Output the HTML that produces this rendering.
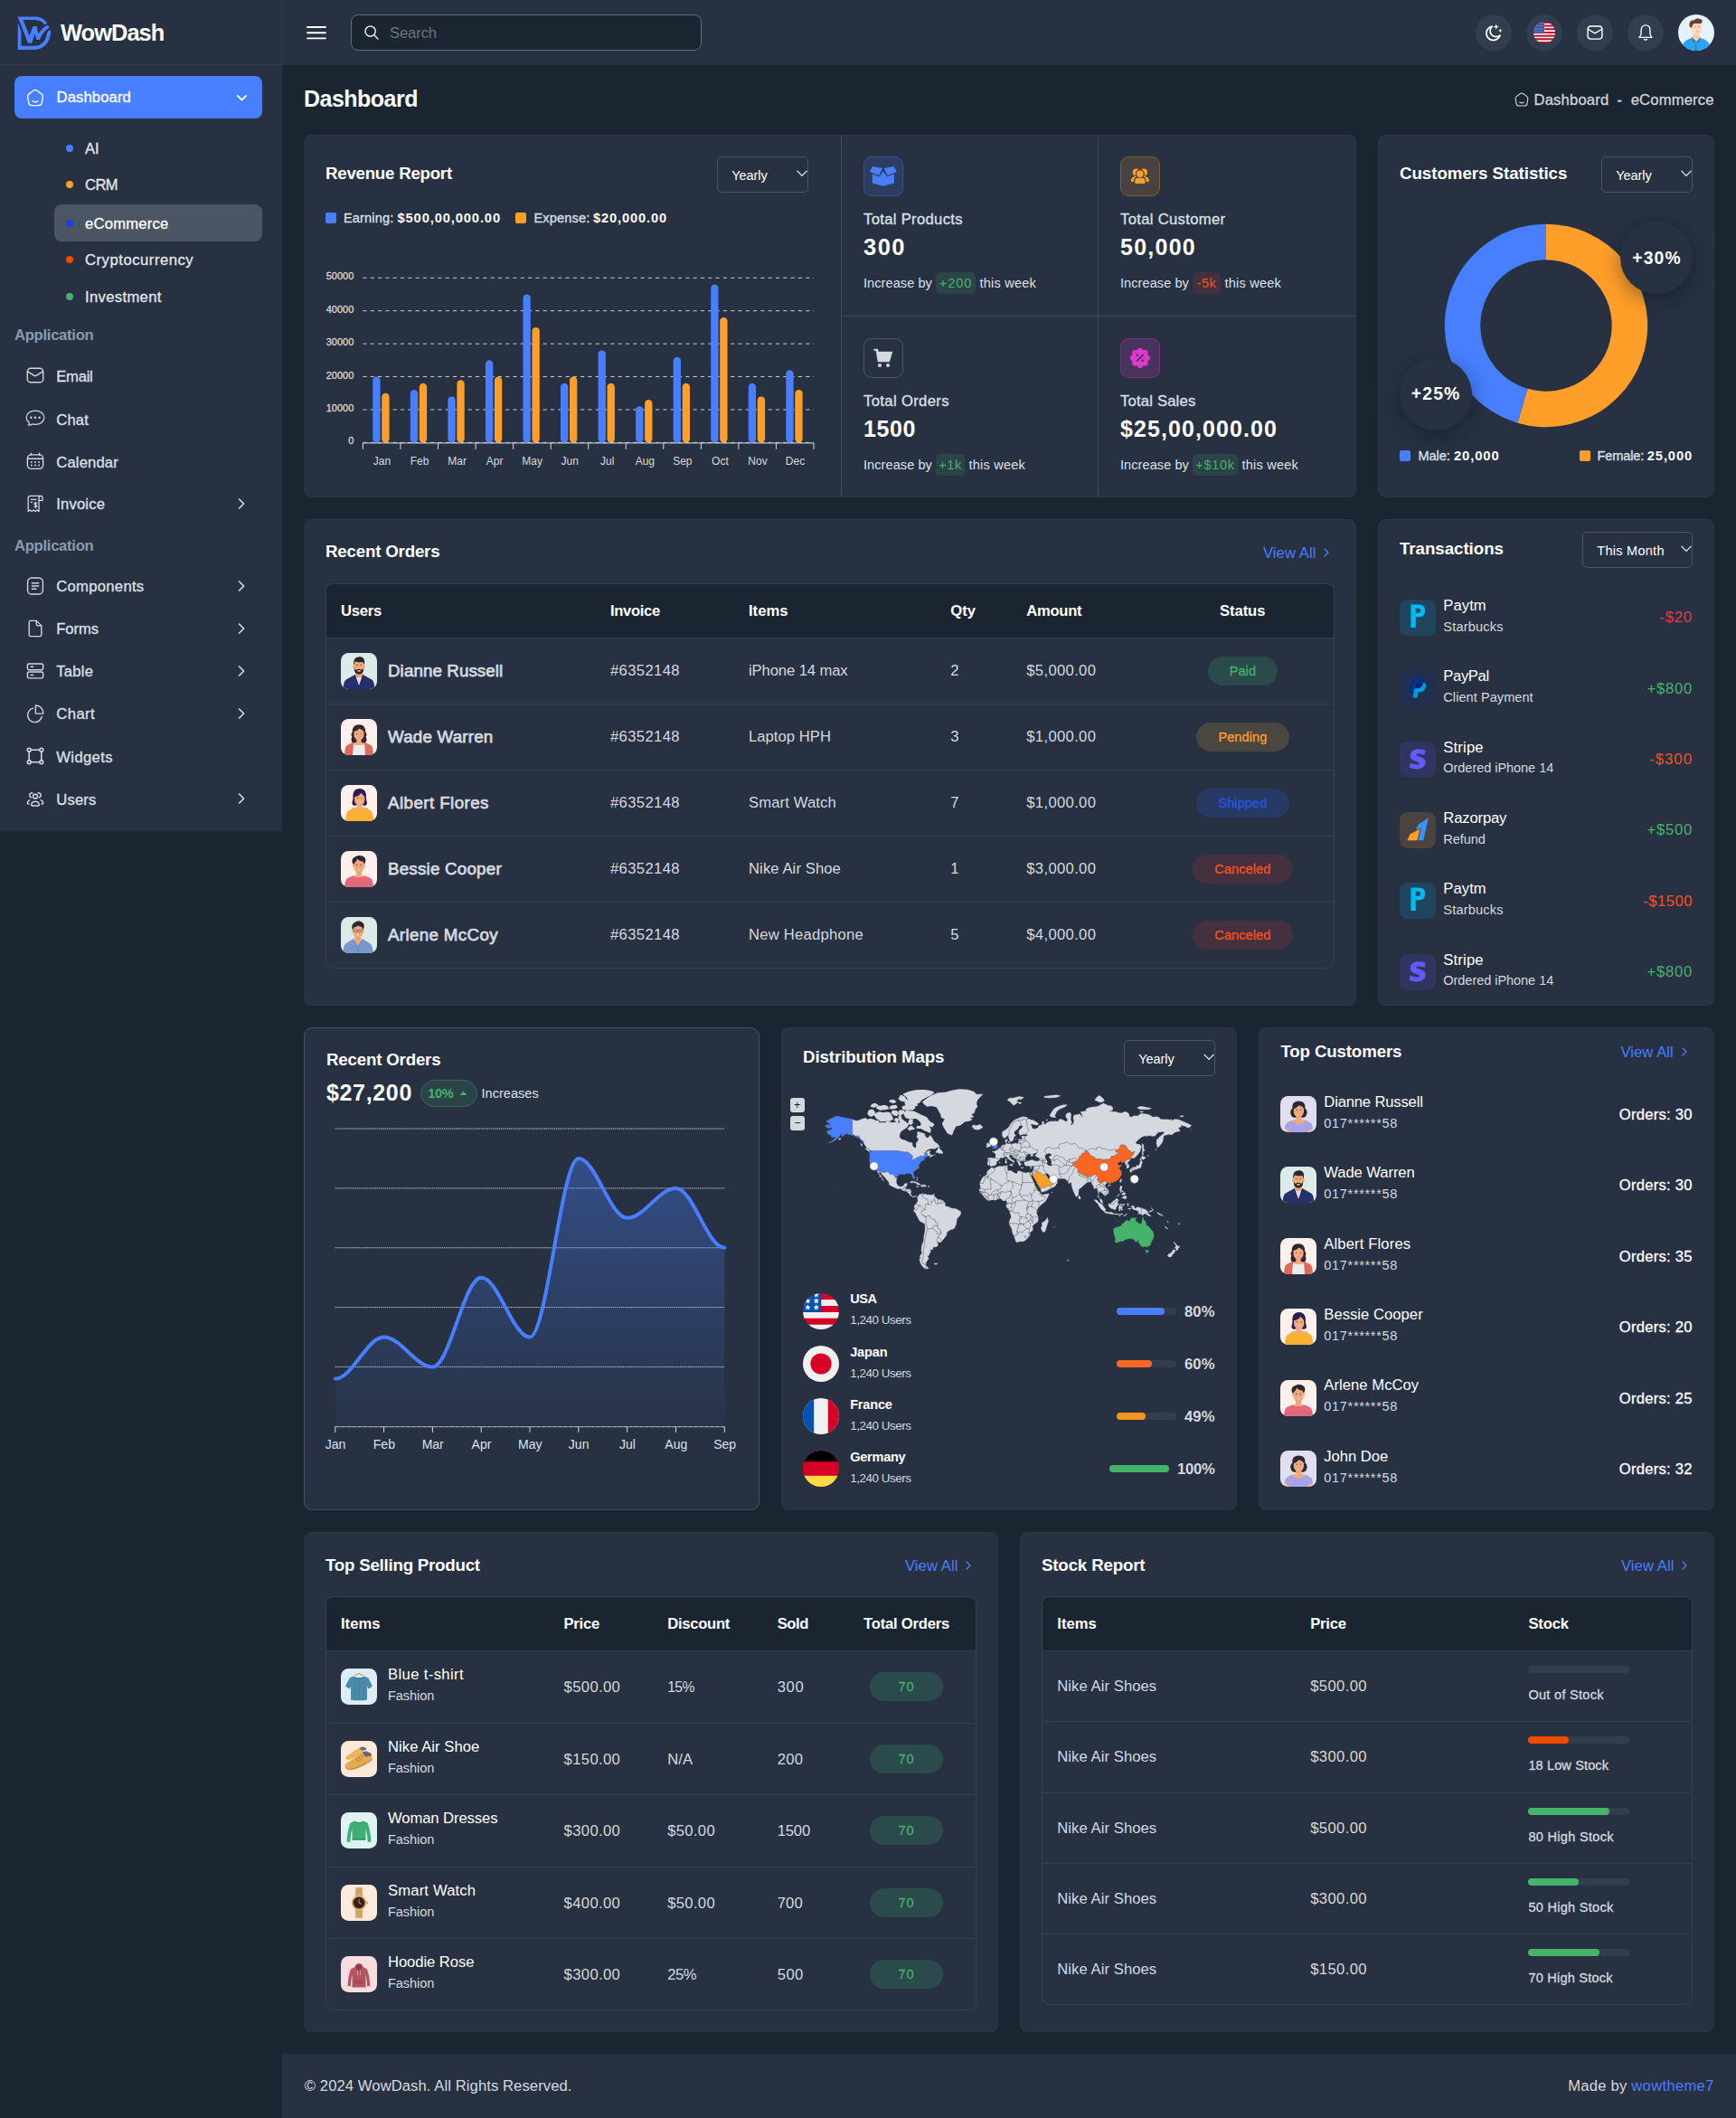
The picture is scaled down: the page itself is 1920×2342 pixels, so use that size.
<!DOCTYPE html>
<html lang="en"><head><meta charset="utf-8"><title>WowDash - eCommerce Dashboard</title>
<style>
*{box-sizing:border-box;margin:0;padding:0}
html,body{width:1920px;height:2342px;overflow:hidden;background:#1B2431;}
body{font-family:"Liberation Sans",sans-serif;color:#FFFFFF;position:relative;-webkit-font-smoothing:antialiased}
.t{position:absolute;white-space:pre;line-height:1;}
.m{-webkit-text-stroke:.3px currentColor}
.sb{-webkit-text-stroke:.75px currentColor}
.card{position:absolute;background:#273142;border-radius:8px;border:1px solid #2B3546}
svg{position:absolute;overflow:visible}
</style></head>
<body>
<!-- sidebar -->
<div style="position:absolute;left:0px;top:0px;width:312px;height:919px;background:#273142"></div>
<div style="position:absolute;left:0px;top:71px;width:312px;height:1px;background:#323D4E"></div>
<div style="position:absolute;left:311px;top:0px;width:1px;height:72px;background:#323D4E"></div>
<svg style="left:14px;top:12px" width="50" height="50" viewBox="0 0 50 50" fill="none" ><g fill="#487FFF"><path d="M5.6 6.5 H24.5 C30.4 6.5 35.2 9.2 38.2 13.4 L35.3 15.5 C33 12.2 29.2 10.1 24.5 10.1 H11.5 L18.5 27.6 L22.5 17 H26.7 L28.3 25.4 C30.8 21.4 34.4 17.8 38.7 15.8 L41 18.5 C35.6 21.4 32 26.6 30 32 H26.5 L24.4 25.6 L21.3 35.8 H17 Z"/><path d="M5.7 12.9 L9.5 22.7 V38.7 H24.5 C31.2 38.7 36.4 33.6 37.6 26.4 C37.9 24.9 38.3 23.8 38.7 23 L42 20.7 C42.2 22 42.2 23.4 42 24.8 C41.2 35 34 42.9 24.5 42.9 H5.7 Z"/></g></svg>
<div class="t" style="left:67.00px;top:22px;font-size:25.39px;line-height:28px;letter-spacing:-0.91px;color:#FFFFFF;font-weight:700;">WowDash</div>
<div style="position:absolute;left:16px;top:84px;width:274px;height:47px;background:#487FFF;border-radius:8px"></div>
<svg style="left:28px;top:97.2px" width="22" height="22" viewBox="0 0 24 24" fill="none" ><g stroke="#FFFFFF" stroke-width="1.5" stroke-linecap="round" stroke-linejoin="round"><path d="M12 2.6 Q12.9 2.6 13.9 3.3 L19.3 7.2 Q21.6 8.8 21.1 11.4 L19.9 18.2 Q19.4 21.4 16.2 21.4 H7.8 Q4.6 21.4 4.1 18.2 L2.9 11.4 Q2.4 8.8 4.7 7.2 L10.1 3.3 Q11.1 2.6 12 2.6 Z"/><path d="M9 16 Q12 18.6 15 16"/></g></svg>
<div class="t m" style="left:62.50px;top:98px;font-size:16.64px;line-height:19px;letter-spacing:0.122px;color:#FFFFFF;">Dashboard</div>
<svg style="left:261px;top:103.5px" width="13" height="9" viewBox="0 0 13 9" fill="none" ><path d="M1.8 1.8 L6.5 6.5 L11.2 1.8" stroke="#fff" stroke-width="1.8" stroke-linecap="round" stroke-linejoin="round"/></svg>
<div style="position:absolute;left:72.7px;top:159.5px;width:8px;height:8px;background:#487FFF;border-radius:50%"></div>
<div class="t m" style="left:94.00px;top:155px;font-size:16.64px;line-height:19px;letter-spacing:-0.111px;color:#E5E7EB;">AI</div>
<div style="position:absolute;left:72.7px;top:200.4px;width:8px;height:8px;background:#FF9F29;border-radius:50%"></div>
<div class="t m" style="left:94.00px;top:195px;font-size:16.57px;line-height:19px;letter-spacing:-0.582px;color:#E5E7EB;">CRM</div>
<div style="position:absolute;left:60px;top:226px;width:230px;height:41px;background:#4B5563;border-radius:8px"></div>
<div style="position:absolute;left:72.7px;top:242.5px;width:8px;height:8px;background:#1E40DB;border-radius:50%"></div>
<div class="t m" style="left:94.00px;top:238px;font-size:16.64px;line-height:19px;letter-spacing:0.209px;color:#FFFFFF;">eCommerce</div>
<div style="position:absolute;left:72.7px;top:283.3px;width:8px;height:8px;background:#EF4A00;border-radius:50%"></div>
<div class="t m" style="left:94.00px;top:278px;font-size:16.64px;line-height:19px;letter-spacing:0.535px;color:#E5E7EB;">Cryptocurrency</div>
<div style="position:absolute;left:72.7px;top:324.3px;width:8px;height:8px;background:#45B369;border-radius:50%"></div>
<div class="t m" style="left:94.00px;top:319px;font-size:16.64px;line-height:19px;letter-spacing:0.341px;color:#E5E7EB;">Investment</div>
<div class="t" style="left:16.00px;top:361px;font-size:16.64px;line-height:19px;letter-spacing:-0.281px;color:#8E99A8;font-weight:700;">Application</div>
<div class="t" style="left:16.00px;top:594px;font-size:16.64px;line-height:19px;letter-spacing:-0.281px;color:#8E99A8;font-weight:700;">Application</div>
<svg style="left:28px;top:403.9px" width="22" height="22" viewBox="0 0 24 24" fill="none" ><g stroke="#D3D8DF" stroke-width="1.5" stroke-linecap="round" stroke-linejoin="round"><rect x="2.5" y="3.5" width="19" height="17" rx="4"/><path d="M3 7.5 L10.4 12.2 Q12 13.2 13.6 12.2 L21 7.5"/></g></svg>
<div class="t m" style="left:62.30px;top:407px;font-size:16.64px;line-height:19px;letter-spacing:-0.282px;color:#DDE1E7;">Email</div>
<svg style="left:28px;top:452.3px" width="22" height="22" viewBox="0 0 24 24" fill="none" ><g stroke="#D3D8DF" stroke-width="1.35" stroke-linejoin="round"><path d="M3.6 19.6 C4.6 18.4 5 17.3 4.7 16.6 C2.6 14.9 1.2 12.9 1.2 10.6 C1.2 5.9 6 2.2 12 2.2 C18 2.2 22.8 5.9 22.8 10.6 C22.8 15.3 18 19 12 19 C10.6 19 9.3 18.8 8.1 18.5 C6.9 19.4 5.3 19.9 3.6 19.6 Z"/></g><g fill="#D3D8DF"><circle cx="7" cy="10.6" r="1.35"/><circle cx="12" cy="10.6" r="1.35"/><circle cx="17" cy="10.6" r="1.35"/></g></svg>
<div class="t m" style="left:62.30px;top:455px;font-size:16.64px;line-height:19px;letter-spacing:0.138px;color:#DDE1E7;">Chat</div>
<svg style="left:28px;top:499.4px" width="22" height="22" viewBox="0 0 24 24" fill="none" ><g stroke="#D3D8DF" stroke-width="1.5" stroke-linecap="round"><rect x="2.6" y="4.2" width="18.8" height="17" rx="4.5"/><path d="M7 2.4 V4.4 M17 2.4 V4.4 M3 9 H21"/></g><g fill="#D3D8DF"><circle cx="7.5" cy="13" r="1.05"/><circle cx="12" cy="13" r="1.05"/><circle cx="16.5" cy="13" r="1.05"/><circle cx="7.5" cy="17" r="1.05"/><circle cx="12" cy="17" r="1.05"/><circle cx="16.5" cy="17" r="1.05"/></g></svg>
<div class="t m" style="left:62.30px;top:502px;font-size:16.64px;line-height:19px;letter-spacing:0.134px;color:#DDE1E7;">Calendar</div>
<svg style="left:28px;top:546.2px" width="22" height="22" viewBox="0 0 24 24" fill="none" ><g stroke="#D3D8DF" stroke-width="1.4" stroke-linecap="round" stroke-linejoin="round"><path d="M3.5 21.2 V5.2 Q3.5 2.6 6.2 2.6 H18.6 Q16.4 2.6 16.4 5.2 V21.2 L14.2 19.6 L12.1 21.2 L10 19.6 L7.8 21.2 L5.7 19.6 Z"/><path d="M18.6 2.6 Q20.8 2.6 20.8 5.2 V8 H16.4"/><path d="M7 7 H13 M7 10.3 H8.4"/><path d="M13.9 11.4 Q12.9 10.6 11.8 11 Q10.6 11.5 11 12.6 Q11.3 13.3 12.5 13.5 Q13.8 13.7 14 14.6 Q14.2 15.8 12.9 16.1 Q11.7 16.3 10.8 15.5 M12.4 10 V17.2" stroke-width="1.2"/></g></svg>
<div class="t m" style="left:62.30px;top:548px;font-size:16.64px;line-height:19px;letter-spacing:0.154px;color:#DDE1E7;">Invoice</div>
<svg style="left:261.5px;top:550.2px" width="10" height="14" viewBox="0 0 10 14" fill="none" ><path d="M2.6 2 L7.6 7 L2.6 12" stroke="#D3D8DF" stroke-width="1.7" stroke-linecap="round" stroke-linejoin="round"/></svg>
<svg style="left:28px;top:636.7px" width="22" height="22" viewBox="0 0 24 24" fill="none" ><g stroke="#D3D8DF" stroke-width="1.5" stroke-linecap="round"><rect x="2.8" y="2.2" width="18.4" height="19.6" rx="5"/><path d="M8 8.4 H16 M8 12 H16 M8 15.6 H13"/></g></svg>
<div class="t m" style="left:62.30px;top:639px;font-size:16.64px;line-height:19px;letter-spacing:0.285px;color:#DDE1E7;">Components</div>
<svg style="left:261.5px;top:640.7px" width="10" height="14" viewBox="0 0 10 14" fill="none" ><path d="M2.6 2 L7.6 7 L2.6 12" stroke="#D3D8DF" stroke-width="1.7" stroke-linecap="round" stroke-linejoin="round"/></svg>
<svg style="left:28px;top:683.6px" width="22" height="22" viewBox="0 0 24 24" fill="none" ><g stroke="#D3D8DF" stroke-width="1.5" stroke-linecap="round" stroke-linejoin="round"><path d="M13.4 2.6 H6.4 Q4.6 2.6 4.6 4.4 V19.6 Q4.6 21.4 6.4 21.4 H17.6 Q19.4 21.4 19.4 19.6 V8.6 Z"/><path d="M13.4 2.6 V6.8 Q13.4 8.6 15.2 8.6 H19.4"/></g></svg>
<div class="t m" style="left:62.30px;top:686px;font-size:16.64px;line-height:19px;letter-spacing:-0.088px;color:#DDE1E7;">Forms</div>
<svg style="left:261.5px;top:687.6px" width="10" height="14" viewBox="0 0 10 14" fill="none" ><path d="M2.6 2 L7.6 7 L2.6 12" stroke="#D3D8DF" stroke-width="1.7" stroke-linecap="round" stroke-linejoin="round"/></svg>
<svg style="left:28px;top:730.8px" width="22" height="22" viewBox="0 0 24 24" fill="none" ><g stroke="#D3D8DF" stroke-width="1.6" stroke-linecap="round"><rect x="2.6" y="3.2" width="18.8" height="7.4" rx="1.8"/><rect x="2.6" y="13.2" width="18.8" height="7.4" rx="1.8"/><path d="M6.6 6.9 H9.4 M6.6 16.9 H9.4"/></g></svg>
<div class="t m" style="left:62.30px;top:733px;font-size:16.64px;line-height:19px;letter-spacing:0.244px;color:#DDE1E7;">Table</div>
<svg style="left:261.5px;top:734.8px" width="10" height="14" viewBox="0 0 10 14" fill="none" ><path d="M2.6 2 L7.6 7 L2.6 12" stroke="#D3D8DF" stroke-width="1.7" stroke-linecap="round" stroke-linejoin="round"/></svg>
<svg style="left:28px;top:777.8px" width="22" height="22" viewBox="0 0 24 24" fill="none" ><g stroke="#D3D8DF" stroke-width="1.5" stroke-linecap="round" stroke-linejoin="round"><path d="M9.2 5.6 A8.6 8.6 0 1 0 19.9 15.4"/><path d="M12.4 2.2 A9.2 9.2 0 0 1 21.6 11.4 Q21.6 12.2 20.8 12.2 H13.2 Q12.4 12.2 12.4 11.4 Z"/></g></svg>
<div class="t m" style="left:62.30px;top:780px;font-size:16.64px;line-height:19px;letter-spacing:0.422px;color:#DDE1E7;">Chart</div>
<svg style="left:261.5px;top:781.8px" width="10" height="14" viewBox="0 0 10 14" fill="none" ><path d="M2.6 2 L7.6 7 L2.6 12" stroke="#D3D8DF" stroke-width="1.7" stroke-linecap="round" stroke-linejoin="round"/></svg>
<svg style="left:28px;top:825.4px" width="22" height="22" viewBox="0 0 24 24" fill="none" ><g stroke="#D3D8DF" stroke-width="1.7"><path d="M6.6 4.6 H17.4 M6.6 19.4 H17.4 M4.6 6.6 V17.4 M19.4 6.6 V17.4"/><circle cx="4.6" cy="4.6" r="2.1"/><circle cx="4.6" cy="19.4" r="2.1"/><circle cx="19.4" cy="4.6" r="2.1"/><circle cx="19.4" cy="19.4" r="2.1"/></g></svg>
<div class="t m" style="left:62.30px;top:828px;font-size:16.64px;line-height:19px;letter-spacing:0.356px;color:#DDE1E7;">Widgets</div>
<svg style="left:28px;top:872.4px" width="22" height="22" viewBox="0 0 24 24" fill="none" ><g stroke="#D3D8DF" stroke-width="1.6" stroke-linecap="round" stroke-linejoin="round"><circle cx="12" cy="9.4" r="2.7"/><path d="M7.4 19.8 Q7.4 15.6 12 15.6 Q16.6 15.6 16.6 19.8 Q16.6 20.8 15.6 20.8 H8.4 Q7.4 20.8 7.4 19.8 Z"/><path d="M7.2 10.6 A2.5 2.5 0 1 1 8.6 5.4 M16.8 10.6 A2.5 2.5 0 1 0 15.4 5.4"/><path d="M4.4 18.6 Q2.4 18.6 2.6 17 Q3 14.6 5.4 13.8 M19.6 18.6 Q21.6 18.6 21.4 17 Q21 14.6 18.6 13.8"/></g></svg>
<div class="t m" style="left:62.30px;top:875px;font-size:16.64px;line-height:19px;letter-spacing:0.149px;color:#DDE1E7;">Users</div>
<svg style="left:261.5px;top:876.4px" width="10" height="14" viewBox="0 0 10 14" fill="none" ><path d="M2.6 2 L7.6 7 L2.6 12" stroke="#D3D8DF" stroke-width="1.7" stroke-linecap="round" stroke-linejoin="round"/></svg>
<!-- header -->
<div style="position:absolute;left:312px;top:0px;width:1608px;height:72px;background:#273142"></div>
<svg style="left:339px;top:27.8px" width="22" height="18" viewBox="0 0 22 18" fill="none" ><path d="M1 2 H21 M1 8.2 H21 M1 14.4 H21" stroke="#fff" stroke-width="1.9" stroke-linecap="round"/></svg>
<div style="position:absolute;left:388px;top:16px;width:388px;height:40px;background:#1B2431;border:1px solid #616C7D;border-radius:8px"></div>
<svg style="left:402.4px;top:27.2px" width="18" height="18" viewBox="0 0 18 18" fill="none" ><circle cx="7.6" cy="7.6" r="5.6" stroke="#E5E7EB" stroke-width="1.5"/><path d="M11.8 11.8 L16 16" stroke="#E5E7EB" stroke-width="1.5" stroke-linecap="round"/></svg>
<div class="t" style="left:431.00px;top:27px;font-size:16.64px;line-height:19px;letter-spacing:-0.121px;color:#6B7280;">Search</div>
<div style="position:absolute;left:1632px;top:16px;width:40px;height:40px;background:#323D4E;border-radius:50%"></div>
<div style="position:absolute;left:1688px;top:16px;width:40px;height:40px;background:#323D4E;border-radius:50%"></div>
<div style="position:absolute;left:1744px;top:16px;width:40px;height:40px;background:#323D4E;border-radius:50%"></div>
<div style="position:absolute;left:1800px;top:16px;width:40px;height:40px;background:#323D4E;border-radius:50%"></div>
<svg style="left:1641px;top:25px" width="22" height="22" viewBox="0 0 24 24" fill="none" ><path d="M10.2 4.6 A8.4 8.4 0 1 0 19.6 15.4 A6.9 6.9 0 0 1 10.2 4.6 Z" stroke="#fff" stroke-width="1.9" stroke-linejoin="round"/><path d="M15 1.6 L15.9 4.1 L18.4 5 L15.9 5.9 L15 8.4 L14.1 5.9 L11.6 5 L14.1 4.1 Z M20 7.2 L20.7 9 L22.5 9.7 L20.7 10.4 L20 12.2 L19.3 10.4 L17.5 9.7 L19.3 9 Z" fill="#fff"/></svg>
<svg style="left:1696px;top:24px" width="24" height="24" viewBox="0 0 24 24" fill="none" ><defs><clipPath id="usf"><circle cx="12" cy="12" r="12"/></clipPath></defs><g clip-path="url(#usf)"><rect x="0" y="0.000" width="24" height="1.896" fill="#D80027"/><rect x="0" y="1.846" width="24" height="1.896" fill="#F4F4F4"/><rect x="0" y="3.692" width="24" height="1.896" fill="#D80027"/><rect x="0" y="5.538" width="24" height="1.896" fill="#F4F4F4"/><rect x="0" y="7.385" width="24" height="1.896" fill="#D80027"/><rect x="0" y="9.231" width="24" height="1.896" fill="#F4F4F4"/><rect x="0" y="11.077" width="24" height="1.896" fill="#D80027"/><rect x="0" y="12.923" width="24" height="1.896" fill="#F4F4F4"/><rect x="0" y="14.769" width="24" height="1.896" fill="#D80027"/><rect x="0" y="16.615" width="24" height="1.896" fill="#F4F4F4"/><rect x="0" y="18.462" width="24" height="1.896" fill="#D80027"/><rect x="0" y="20.308" width="24" height="1.896" fill="#F4F4F4"/><rect x="0" y="22.154" width="24" height="1.896" fill="#D80027"/><rect x="0" y="0" width="12" height="12.92" fill="#2E4A9E"/><circle cx="1.60" cy="1.50" r="0.42" fill="#fff"/><circle cx="3.50" cy="1.50" r="0.42" fill="#fff"/><circle cx="5.40" cy="1.50" r="0.42" fill="#fff"/><circle cx="7.30" cy="1.50" r="0.42" fill="#fff"/><circle cx="9.20" cy="1.50" r="0.42" fill="#fff"/><circle cx="11.10" cy="1.50" r="0.42" fill="#fff"/><circle cx="2.55" cy="2.95" r="0.42" fill="#fff"/><circle cx="4.45" cy="2.95" r="0.42" fill="#fff"/><circle cx="6.35" cy="2.95" r="0.42" fill="#fff"/><circle cx="8.25" cy="2.95" r="0.42" fill="#fff"/><circle cx="10.15" cy="2.95" r="0.42" fill="#fff"/><circle cx="12.05" cy="2.95" r="0.42" fill="#fff"/><circle cx="1.60" cy="4.40" r="0.42" fill="#fff"/><circle cx="3.50" cy="4.40" r="0.42" fill="#fff"/><circle cx="5.40" cy="4.40" r="0.42" fill="#fff"/><circle cx="7.30" cy="4.40" r="0.42" fill="#fff"/><circle cx="9.20" cy="4.40" r="0.42" fill="#fff"/><circle cx="11.10" cy="4.40" r="0.42" fill="#fff"/><circle cx="2.55" cy="5.85" r="0.42" fill="#fff"/><circle cx="4.45" cy="5.85" r="0.42" fill="#fff"/><circle cx="6.35" cy="5.85" r="0.42" fill="#fff"/><circle cx="8.25" cy="5.85" r="0.42" fill="#fff"/><circle cx="10.15" cy="5.85" r="0.42" fill="#fff"/><circle cx="12.05" cy="5.85" r="0.42" fill="#fff"/><circle cx="1.60" cy="7.30" r="0.42" fill="#fff"/><circle cx="3.50" cy="7.30" r="0.42" fill="#fff"/><circle cx="5.40" cy="7.30" r="0.42" fill="#fff"/><circle cx="7.30" cy="7.30" r="0.42" fill="#fff"/><circle cx="9.20" cy="7.30" r="0.42" fill="#fff"/><circle cx="11.10" cy="7.30" r="0.42" fill="#fff"/><circle cx="2.55" cy="8.75" r="0.42" fill="#fff"/><circle cx="4.45" cy="8.75" r="0.42" fill="#fff"/><circle cx="6.35" cy="8.75" r="0.42" fill="#fff"/><circle cx="8.25" cy="8.75" r="0.42" fill="#fff"/><circle cx="10.15" cy="8.75" r="0.42" fill="#fff"/><circle cx="12.05" cy="8.75" r="0.42" fill="#fff"/><circle cx="1.60" cy="10.20" r="0.42" fill="#fff"/><circle cx="3.50" cy="10.20" r="0.42" fill="#fff"/><circle cx="5.40" cy="10.20" r="0.42" fill="#fff"/><circle cx="7.30" cy="10.20" r="0.42" fill="#fff"/><circle cx="9.20" cy="10.20" r="0.42" fill="#fff"/><circle cx="11.10" cy="10.20" r="0.42" fill="#fff"/><circle cx="2.55" cy="11.65" r="0.42" fill="#fff"/><circle cx="4.45" cy="11.65" r="0.42" fill="#fff"/><circle cx="6.35" cy="11.65" r="0.42" fill="#fff"/><circle cx="8.25" cy="11.65" r="0.42" fill="#fff"/><circle cx="10.15" cy="11.65" r="0.42" fill="#fff"/><circle cx="12.05" cy="11.65" r="0.42" fill="#fff"/></g></svg>
<svg style="left:1753.8px;top:25.6px" width="20" height="20" viewBox="0 0 24 24" fill="none" ><g stroke="#fff" stroke-width="1.7" stroke-linecap="round" stroke-linejoin="round"><rect x="2.5" y="3.5" width="19" height="17" rx="4"/><path d="M3 7.5 L10.4 12.2 Q12 13.2 13.6 12.2 L21 7.5"/></g></svg>
<svg style="left:1809px;top:25px" width="22" height="22" viewBox="0 0 24 24" fill="none" ><path d="M12 3.2 C8.4 3.2 6.6 6 6.6 9.4 V13.2 C6.6 15.4 5.6 16.6 4.4 17.8 H19.6 C18.4 16.6 17.4 15.4 17.4 13.2 V9.4 C17.4 6 15.6 3.2 12 3.2 Z" stroke="#fff" stroke-width="1.5" stroke-linejoin="round"/><path d="M10.4 20.2 Q12 21.6 13.6 20.2" stroke="#fff" stroke-width="1.5" stroke-linecap="round"/></svg>
<svg style="left:1856px;top:16px" width="40" height="40" viewBox="0 0 40 40" fill="none" ><defs><clipPath id="pav"><circle cx="20" cy="20" r="20"/></clipPath></defs><g clip-path="url(#pav)"><rect width="40" height="40" fill="#E4F3FD"/><path d="M3 40 C4 31 9 27.5 15.5 26 L20.5 29.5 L24.5 26 C31 27.5 35.5 31 37 40 Z" fill="#2AA3F4"/><path d="M19.6 30 L21 40 H19 Z" fill="#1785D6"/><path d="M14.6 24.6 L20.4 30 L16.4 31.6 Z M24.8 24.6 L20.4 30 L23.8 31.6 Z" fill="#6B7280"/><path d="M16.5 20 H23.5 V25 L20.3 29 L16.5 25 Z" fill="#F7C9A9"/><path d="M14.2 12 C14.2 8 25.8 8 25.8 12 V16.5 C25.8 20.5 23 23 20.4 23 C17.4 23 14.2 20.5 14.2 16.5 Z" fill="#FBD9BE"/><path d="M12.6 13.6 C11.6 8.6 14.6 6 17.6 6.4 C19.6 3.6 23.8 4.4 24.4 5.2 C26.6 4.8 27.4 7.4 26 9.2 C24.6 11 19.6 9.6 17.4 10.2 C16 10.8 15.6 12.6 15 15 Z" fill="#6B4226"/><path d="M19.6 18.6 Q21.6 19.8 23.4 18 Q22.4 20.6 19.6 18.6 Z" fill="#E2364A"/><circle cx="23.2" cy="13.4" r="0.5" fill="#3B2A20"/><circle cx="19" cy="13.6" r="0.5" fill="#3B2A20"/></g></svg>
<div class="t" style="left:336.00px;top:95px;font-size:24.96px;line-height:28px;letter-spacing:-0.486px;color:#FFFFFF;font-weight:700;">Dashboard</div>
<svg style="left:1674px;top:101.4px" width="18" height="18" viewBox="0 0 24 24" fill="none" ><g stroke="#D1D5DB" stroke-width="1.5" stroke-linecap="round" stroke-linejoin="round"><path d="M12 2.6 Q12.9 2.6 13.9 3.3 L19.3 7.2 Q21.6 8.8 21.1 11.4 L19.9 18.2 Q19.4 21.4 16.2 21.4 H7.8 Q4.6 21.4 4.1 18.2 L2.9 11.4 Q2.4 8.8 4.7 7.2 L10.1 3.3 Q11.1 2.6 12 2.6 Z"/><path d="M9 16 Q12 18.6 15 16"/></g></svg>
<div class="t m" style="left:1696.50px;top:101px;font-size:16.64px;line-height:19px;letter-spacing:0.177px;color:#D1D5DB;">Dashboard</div>
<div class="t m" style="left:1788.60px;top:101px;font-size:16.64px;line-height:19px;letter-spacing:0.586px;color:#D1D5DB;">-</div>
<div class="t m" style="left:1803.70px;top:101px;font-size:16.64px;line-height:19px;letter-spacing:0.153px;color:#D1D5DB;">eCommerce</div>
<!-- row1 -->
<div class="card" style="left:336px;top:149px;width:1164px;height:401px"></div>
<div class="t" style="left:360.00px;top:181px;font-size:18.72px;line-height:21px;letter-spacing:-0.254px;color:#FFFFFF;font-weight:700;">Revenue Report</div>
<div style="position:absolute;left:793px;top:173px;width:101px;height:40px;border:1px solid #4B5563;border-radius:5px"></div><div class="t" style="left:809.30px;top:186px;font-size:14.56px;line-height:16px;letter-spacing:-0.089px;color:#FFFFFF;">Yearly</div><svg style="left:880.5px;top:188.2px" width="12" height="8" viewBox="0 0 12 8" fill="none" ><path d="M1 1.2 L6 6.4 L11 1.2" stroke="#D6DAE0" stroke-width="1.35" stroke-linecap="round" stroke-linejoin="round"/></svg>
<div style="position:absolute;left:360px;top:235px;width:12px;height:12px;background:#487FFF;border-radius:2px"></div>
<div class="t m" style="left:380.00px;top:233px;font-size:14.56px;line-height:16px;letter-spacing:0.159px;color:#DDE1E7;">Earning:</div>
<div class="t" style="left:439.50px;top:233px;font-size:14.71px;line-height:16px;letter-spacing:0.874px;color:#FFFFFF;font-weight:700;">$500,00,000.00</div>
<div style="position:absolute;left:570px;top:235px;width:12px;height:12px;background:#FF9F29;border-radius:2px"></div>
<div class="t m" style="left:590.40px;top:233px;font-size:14.56px;line-height:16px;letter-spacing:0.162px;color:#DDE1E7;">Expense:</div>
<div class="t" style="left:656.00px;top:233px;font-size:14.64px;line-height:16px;letter-spacing:0.874px;color:#FFFFFF;font-weight:700;">$20,000.00</div>
<svg style="left:0;top:0" width="1920" height="600" viewBox="0 0 1920 600"><line x1="401.4" y1="489.40" x2="900.0" y2="489.40" stroke="#C9CED6" stroke-width="1" stroke-dasharray="4.2 4.1"/><line x1="401.4" y1="452.97" x2="900.0" y2="452.97" stroke="#C9CED6" stroke-width="1" stroke-dasharray="4.2 4.1"/><line x1="401.4" y1="416.54" x2="900.0" y2="416.54" stroke="#C9CED6" stroke-width="1" stroke-dasharray="4.2 4.1"/><line x1="401.4" y1="380.11" x2="900.0" y2="380.11" stroke="#C9CED6" stroke-width="1" stroke-dasharray="4.2 4.1"/><line x1="401.4" y1="343.68" x2="900.0" y2="343.68" stroke="#C9CED6" stroke-width="1" stroke-dasharray="4.2 4.1"/><line x1="401.4" y1="307.25" x2="900.0" y2="307.25" stroke="#C9CED6" stroke-width="1" stroke-dasharray="4.2 4.1"/><rect x="412.27" y="416.54" width="8.3" height="72.86" rx="4.15" fill="#487FFF"/><rect x="422.27" y="434.75" width="8.3" height="54.64" rx="4.15" fill="#FF9F29"/><rect x="453.82" y="431.11" width="8.3" height="58.29" rx="4.15" fill="#487FFF"/><rect x="463.82" y="423.83" width="8.3" height="65.57" rx="4.15" fill="#FF9F29"/><rect x="495.38" y="438.40" width="8.3" height="51.00" rx="4.15" fill="#487FFF"/><rect x="505.38" y="420.18" width="8.3" height="69.22" rx="4.15" fill="#FF9F29"/><rect x="536.93" y="398.32" width="8.3" height="91.08" rx="4.15" fill="#487FFF"/><rect x="546.93" y="416.54" width="8.3" height="72.86" rx="4.15" fill="#FF9F29"/><rect x="578.48" y="325.46" width="8.3" height="163.94" rx="4.15" fill="#487FFF"/><rect x="588.48" y="361.89" width="8.3" height="127.50" rx="4.15" fill="#FF9F29"/><rect x="620.02" y="423.83" width="8.3" height="65.57" rx="4.15" fill="#487FFF"/><rect x="630.02" y="416.54" width="8.3" height="72.86" rx="4.15" fill="#FF9F29"/><rect x="661.58" y="387.40" width="8.3" height="102.00" rx="4.15" fill="#487FFF"/><rect x="671.58" y="423.83" width="8.3" height="65.57" rx="4.15" fill="#FF9F29"/><rect x="703.13" y="449.33" width="8.3" height="40.07" rx="4.15" fill="#487FFF"/><rect x="713.13" y="442.04" width="8.3" height="47.36" rx="4.15" fill="#FF9F29"/><rect x="744.68" y="394.68" width="8.3" height="94.72" rx="4.15" fill="#487FFF"/><rect x="754.68" y="423.83" width="8.3" height="65.57" rx="4.15" fill="#FF9F29"/><rect x="786.23" y="314.54" width="8.3" height="174.86" rx="4.15" fill="#487FFF"/><rect x="796.23" y="350.97" width="8.3" height="138.43" rx="4.15" fill="#FF9F29"/><rect x="827.77" y="423.83" width="8.3" height="65.57" rx="4.15" fill="#487FFF"/><rect x="837.77" y="438.40" width="8.3" height="51.00" rx="4.15" fill="#FF9F29"/><rect x="869.33" y="409.25" width="8.3" height="80.15" rx="4.15" fill="#487FFF"/><rect x="879.33" y="431.11" width="8.3" height="58.29" rx="4.15" fill="#FF9F29"/><line x1="401.4" y1="489.90" x2="900.0" y2="489.90" stroke="#D9DCE2" stroke-width="1"/><line x1="401.40" y1="489.90" x2="401.40" y2="496.80" stroke="#D9DCE2" stroke-width="1"/><line x1="442.95" y1="489.90" x2="442.95" y2="496.80" stroke="#D9DCE2" stroke-width="1"/><line x1="484.50" y1="489.90" x2="484.50" y2="496.80" stroke="#D9DCE2" stroke-width="1"/><line x1="526.05" y1="489.90" x2="526.05" y2="496.80" stroke="#D9DCE2" stroke-width="1"/><line x1="567.60" y1="489.90" x2="567.60" y2="496.80" stroke="#D9DCE2" stroke-width="1"/><line x1="609.15" y1="489.90" x2="609.15" y2="496.80" stroke="#D9DCE2" stroke-width="1"/><line x1="650.70" y1="489.90" x2="650.70" y2="496.80" stroke="#D9DCE2" stroke-width="1"/><line x1="692.25" y1="489.90" x2="692.25" y2="496.80" stroke="#D9DCE2" stroke-width="1"/><line x1="733.80" y1="489.90" x2="733.80" y2="496.80" stroke="#D9DCE2" stroke-width="1"/><line x1="775.35" y1="489.90" x2="775.35" y2="496.80" stroke="#D9DCE2" stroke-width="1"/><line x1="816.90" y1="489.90" x2="816.90" y2="496.80" stroke="#D9DCE2" stroke-width="1"/><line x1="858.45" y1="489.90" x2="858.45" y2="496.80" stroke="#D9DCE2" stroke-width="1"/><line x1="900.00" y1="489.90" x2="900.00" y2="496.80" stroke="#D9DCE2" stroke-width="1"/></svg><div class="t m" style="left:385.18px;top:481px;font-size:11px;line-height:12px;letter-spacing:0px;color:#D5D9DF;">0</div><div class="t m" style="left:360.71px;top:445px;font-size:11px;line-height:12px;letter-spacing:0px;color:#D5D9DF;">10000</div><div class="t m" style="left:360.71px;top:409px;font-size:11px;line-height:12px;letter-spacing:0px;color:#D5D9DF;">20000</div><div class="t m" style="left:360.71px;top:372px;font-size:11px;line-height:12px;letter-spacing:0px;color:#D5D9DF;">30000</div><div class="t m" style="left:360.71px;top:336px;font-size:11px;line-height:12px;letter-spacing:0px;color:#D5D9DF;">40000</div><div class="t m" style="left:360.71px;top:299px;font-size:11px;line-height:12px;letter-spacing:0px;color:#D5D9DF;">50000</div><div class="t" style="left:412.80px;top:503px;font-size:12px;line-height:14px;letter-spacing:0px;color:#D5D9DF;">Jan</div><div class="t" style="left:453.69px;top:503px;font-size:12px;line-height:14px;letter-spacing:0px;color:#D5D9DF;">Feb</div><div class="t" style="left:495.24px;top:503px;font-size:12px;line-height:14px;letter-spacing:0px;color:#D5D9DF;">Mar</div><div class="t" style="left:537.79px;top:503px;font-size:12px;line-height:14px;letter-spacing:0px;color:#D5D9DF;">Apr</div><div class="t" style="left:577.34px;top:503px;font-size:12px;line-height:14px;letter-spacing:0px;color:#D5D9DF;">May</div><div class="t" style="left:620.55px;top:503px;font-size:12px;line-height:14px;letter-spacing:0px;color:#D5D9DF;">Jun</div><div class="t" style="left:664.11px;top:503px;font-size:12px;line-height:14px;letter-spacing:0px;color:#D5D9DF;">Jul</div><div class="t" style="left:702.65px;top:503px;font-size:12px;line-height:14px;letter-spacing:0px;color:#D5D9DF;">Aug</div><div class="t" style="left:744.20px;top:503px;font-size:12px;line-height:14px;letter-spacing:0px;color:#D5D9DF;">Sep</div><div class="t" style="left:787.09px;top:503px;font-size:12px;line-height:14px;letter-spacing:0px;color:#D5D9DF;">Oct</div><div class="t" style="left:827.31px;top:503px;font-size:12px;line-height:14px;letter-spacing:0px;color:#D5D9DF;">Nov</div><div class="t" style="left:868.86px;top:503px;font-size:12px;line-height:14px;letter-spacing:0px;color:#D5D9DF;">Dec</div>
<div style="position:absolute;left:930px;top:149px;width:1px;height:401px;background:#404A5B"></div>
<div style="position:absolute;left:1214px;top:149px;width:1px;height:401px;background:#404A5B"></div>
<div style="position:absolute;left:931px;top:349px;width:569px;height:1px;background:#404A5B"></div>
<div style="position:absolute;left:955px;top:173px;width:44px;height:44px;background:#2D3C5F;border:1px solid #355291;border-radius:9px"></div><svg style="left:955px;top:173px" width="44" height="44" viewBox="0 0 44 44" fill="none" ><path d="M9.8 19.4 L17.5 22.2 L21.85 16.4 L26.2 22.2 L33.9 19.4 V29.4 L21.85 32.8 L9.8 29.4 Z" fill="#487FFF"/><g fill="#487FFF"><path d="M10.1 10.9 L20.9 13.1 L17.3 20.9 L6.8 17 Z"/><path d="M33.6 10.9 L22.8 13.1 L26.4 20.9 L36.9 17 Z"/></g></svg><div class="t m" style="left:955.00px;top:233px;font-size:16.64px;line-height:19px;letter-spacing:0.326px;color:#DDE1E7;">Total Products</div><div class="t" style="left:955.00px;top:259px;font-size:25.48px;line-height:28px;letter-spacing:1.498px;color:#FFFFFF;font-weight:700;">300</div><div class="t" style="left:955.00px;top:305px;font-size:14.56px;line-height:16px;letter-spacing:0.067px;color:#DDE1E7;">Increase by</div><div style="position:absolute;left:1035px;top:301px;width:44px;height:24px;background:#2B4448;border-radius:5px"></div><div class="t" style="left:1038.87px;top:305px;font-size:14.56px;line-height:16px;letter-spacing:0.867px;color:#45B369;">+200</div><div class="t" style="left:1083.50px;top:305px;font-size:14.56px;line-height:16px;letter-spacing:0.201px;color:#DDE1E7;">this week</div>
<div style="position:absolute;left:1239px;top:173px;width:44px;height:44px;background:#484240;border:1px solid #7D5D34;border-radius:9px"></div><svg style="left:1239px;top:173px" width="44" height="44" viewBox="0 0 44 44" fill="none" ><g fill="#FF9F29"><circle cx="17.7" cy="17.45" r="4"/><circle cx="26" cy="17.45" r="4"/><path d="M11.8 26.8 C11.8 24 14.4 21.9 18 21.8 L20 28.1 H13.2 C12.2 28.1 11.8 27.6 11.8 26.8 Z"/><path d="M31.9 26.8 C31.9 24 29.3 21.9 25.7 21.8 L23.7 28.1 H30.5 C31.5 28.1 31.9 27.6 31.9 26.8 Z"/></g><circle cx="21.85" cy="19.35" r="5.05" fill="#484240"/><path d="M16.3 27 C16.3 24.6 17.6 23.8 19.6 23.8 H24.1 C26.1 23.8 27.4 24.6 27.4 27 V28.9 C27.4 29.7 26.9 30.1 26.2 30.1 H17.5 C16.8 30.1 16.3 29.7 16.3 28.9 Z" fill="#484240" stroke="#484240" stroke-width="2.5" stroke-linejoin="round"/><circle cx="21.85" cy="19.35" r="3.75" fill="#FF9F29"/><path d="M16.3 27 C16.3 24.6 17.6 23.8 19.6 23.8 H24.1 C26.1 23.8 27.4 24.6 27.4 27 V28.9 C27.4 29.7 26.9 30.1 26.2 30.1 H17.5 C16.8 30.1 16.3 29.7 16.3 28.9 Z" fill="#FF9F29"/></svg><div class="t m" style="left:1239.00px;top:233px;font-size:16.64px;line-height:19px;letter-spacing:0.329px;color:#DDE1E7;">Total Customer</div><div class="t" style="left:1239.00px;top:259px;font-size:24.96px;line-height:28px;letter-spacing:1.276px;color:#FFFFFF;font-weight:700;">50,000</div><div class="t" style="left:1239.00px;top:305px;font-size:14.56px;line-height:16px;letter-spacing:0.067px;color:#DDE1E7;">Increase by</div><div style="position:absolute;left:1319px;top:301px;width:31px;height:24px;background:#45303F;border-radius:5px"></div><div class="t" style="left:1323.67px;top:305px;font-size:14.56px;line-height:16px;letter-spacing:0.48px;color:#F4511E;">-5k</div><div class="t" style="left:1354.50px;top:305px;font-size:14.56px;line-height:16px;letter-spacing:0.201px;color:#DDE1E7;">this week</div>
<div style="position:absolute;left:955px;top:374px;width:44px;height:44px;background:transparent;border:1px solid #4B5566;border-radius:9px"></div><svg style="left:955px;top:374px" width="44" height="44" viewBox="0 0 44 44" fill="none" ><g fill="#D5D8DF"><path d="M12 11.8 H15.5 Q16.1 11.8 16.2 12.5 L16.5 14.8 H32.2 L28.9 26.2 H15.8 L13.7 13.7 H12 Q11.2 13.7 11.2 12.75 Q11.2 11.8 12 11.8 Z"/><circle cx="18" cy="30" r="2.1"/><circle cx="27" cy="30" r="2.1"/></g></svg><div class="t m" style="left:955.00px;top:434px;font-size:16.64px;line-height:19px;letter-spacing:0.364px;color:#DDE1E7;">Total Orders</div><div class="t" style="left:955.00px;top:460px;font-size:24.96px;line-height:28px;letter-spacing:0.618px;color:#FFFFFF;font-weight:700;">1500</div><div class="t" style="left:955.00px;top:506px;font-size:14.56px;line-height:16px;letter-spacing:0.067px;color:#DDE1E7;">Increase by</div><div style="position:absolute;left:1035px;top:502px;width:32px;height:24px;background:#2B4448;border-radius:5px"></div><div class="t" style="left:1038.15px;top:506px;font-size:14.56px;line-height:16px;letter-spacing:0.609px;color:#45B369;">+1k</div><div class="t" style="left:1071.50px;top:506px;font-size:14.56px;line-height:16px;letter-spacing:0.201px;color:#DDE1E7;">this week</div>
<div style="position:absolute;left:1239px;top:374px;width:44px;height:44px;background:#48335C;border:1px solid #763280;border-radius:9px"></div><svg style="left:1239px;top:374px" width="44" height="44" viewBox="0 0 44 44" fill="none" ><g fill="#DE38CC"><circle cx="21.9" cy="21.85" r="9.5"/><circle cx="21.90" cy="13.75" r="3.05"/><circle cx="27.63" cy="16.12" r="3.05"/><circle cx="30.00" cy="21.85" r="3.05"/><circle cx="27.63" cy="27.58" r="3.05"/><circle cx="21.90" cy="29.95" r="3.05"/><circle cx="16.17" cy="27.58" r="3.05"/><circle cx="13.80" cy="21.85" r="3.05"/><circle cx="16.17" cy="16.12" r="3.05"/></g><path d="M18.7 24.9 L25.1 18.7" stroke="#48335C" stroke-width="1.7" stroke-linecap="round"/><g fill="#48335C"><circle cx="18.9" cy="18.8" r="1.3"/><circle cx="24.8" cy="24.8" r="1.3"/></g></svg><div class="t m" style="left:1239.00px;top:434px;font-size:16.64px;line-height:19px;letter-spacing:0.191px;color:#DDE1E7;">Total Sales</div><div class="t" style="left:1239.00px;top:460px;font-size:24.96px;line-height:28px;letter-spacing:1.106px;color:#FFFFFF;font-weight:700;">$25,00,000.00</div><div class="t" style="left:1239.00px;top:506px;font-size:14.56px;line-height:16px;letter-spacing:0.067px;color:#DDE1E7;">Increase by</div><div style="position:absolute;left:1319px;top:502px;width:50px;height:24px;background:#2B4448;border-radius:5px"></div><div class="t" style="left:1322.19px;top:506px;font-size:14.56px;line-height:16px;letter-spacing:0.708px;color:#45B369;">+$10k</div><div class="t" style="left:1373.50px;top:506px;font-size:14.56px;line-height:16px;letter-spacing:0.201px;color:#DDE1E7;">this week</div>
<div class="card" style="left:1524px;top:149px;width:372px;height:401px"></div>
<div class="t" style="left:1548.00px;top:181px;font-size:18.72px;line-height:21px;letter-spacing:-0.036px;color:#FFFFFF;font-weight:700;">Customers Statistics</div>
<div style="position:absolute;left:1771px;top:173px;width:101px;height:40px;border:1px solid #4B5563;border-radius:5px"></div><div class="t" style="left:1787.30px;top:186px;font-size:14.56px;line-height:16px;letter-spacing:-0.089px;color:#FFFFFF;">Yearly</div><svg style="left:1858.5px;top:188.2px" width="12" height="8" viewBox="0 0 12 8" fill="none" ><path d="M1 1.2 L6 6.4 L11 1.2" stroke="#D6DAE0" stroke-width="1.35" stroke-linecap="round" stroke-linejoin="round"/></svg>
<svg style="left:0;top:0" width="1920" height="600" viewBox="0 0 1920 600"><path d="M1710.00 247.80 A112.2 112.2 0 1 1 1678.39 467.66 L1689.52 429.76 A72.7 72.7 0 1 0 1710.00 287.30 Z" fill="#FF9F29"/><path d="M1678.39 467.66 A112.2 112.2 0 0 1 1710.00 247.80 L1710.00 287.30 A72.7 72.7 0 0 0 1689.52 429.76 Z" fill="#487FFF"/></svg><div style="position:absolute;left:1792.0px;top:245.2px;width:80px;height:80px;background:#273142;border-radius:50%;box-shadow:0 6px 22px rgba(10,16,28,.42)"></div><div class="t" style="left:1805.25px;top:274px;font-size:19.34px;line-height:22px;letter-spacing:1.123px;color:#FFFFFF;font-weight:700;">+30%</div><div style="position:absolute;left:1547.6px;top:395.7px;width:80px;height:80px;background:#273142;border-radius:50%;box-shadow:0 6px 22px rgba(10,16,28,.42)"></div><div class="t" style="left:1560.85px;top:424px;font-size:19.34px;line-height:22px;letter-spacing:1.123px;color:#FFFFFF;font-weight:700;">+25%</div>
<div style="position:absolute;left:1548px;top:498px;width:12px;height:12px;background:#487FFF;border-radius:2px"></div>
<div class="t m" style="left:1568.40px;top:496px;font-size:14.56px;line-height:16px;letter-spacing:-0.021px;color:#DDE1E7;">Male:</div>
<div class="t" style="left:1608.00px;top:496px;font-size:14.8px;line-height:16px;letter-spacing:0.874px;color:#FFFFFF;font-weight:700;">20,000</div>
<div style="position:absolute;left:1747px;top:498px;width:12px;height:12px;background:#FF9F29;border-radius:2px"></div>
<div class="t m" style="left:1766.60px;top:496px;font-size:14.56px;line-height:16px;letter-spacing:-0.156px;color:#DDE1E7;">Female:</div>
<div class="t" style="left:1821.80px;top:496px;font-size:14.7px;line-height:16px;letter-spacing:0.874px;color:#FFFFFF;font-weight:700;">25,000</div>
<!-- row2 -->
<div class="card" style="left:336px;top:574px;width:1164px;height:538px"></div>
<div class="t" style="left:360.00px;top:599px;font-size:18.72px;line-height:21px;letter-spacing:-0.193px;color:#FFFFFF;font-weight:700;">Recent Orders</div>
<div class="t" style="left:1397.00px;top:602px;font-size:16.64px;line-height:19px;letter-spacing:0.067px;color:#487FFF;">View All</div><svg style="left:1464.4px;top:606.2px" width="6" height="10" viewBox="0 0 6 10" fill="none" ><path d="M1 1 L5 5 L1 9" stroke="#487FFF" stroke-width="1.2" stroke-linecap="round" stroke-linejoin="round"/></svg>
<div style="position:absolute;left:360px;top:645px;width:1116px;height:426px;border:1px solid #343F50;border-radius:9px;overflow:hidden"><div style="position:absolute;left:0px;top:0px;width:1116px;height:60px;background:#1B2431"></div><div style="position:absolute;left:0px;top:59px;width:1116px;height:1px;background:#343F50"></div><div style="position:absolute;left:0px;top:132px;width:1116px;height:1px;background:#343F50"></div><div style="position:absolute;left:0px;top:205px;width:1116px;height:1px;background:#343F50"></div><div style="position:absolute;left:0px;top:278px;width:1116px;height:1px;background:#343F50"></div><div style="position:absolute;left:0px;top:351px;width:1116px;height:1px;background:#343F50"></div></div>
<div class="t" style="left:377.00px;top:666px;font-size:16.64px;line-height:19px;letter-spacing:-0.251px;color:#FFFFFF;font-weight:700;">Users</div>
<div class="t" style="left:675.00px;top:666px;font-size:16.64px;line-height:19px;letter-spacing:-0.334px;color:#FFFFFF;font-weight:700;">Invoice</div>
<div class="t" style="left:828.00px;top:666px;font-size:16.64px;line-height:19px;letter-spacing:0.006px;color:#FFFFFF;font-weight:700;">Items</div>
<div class="t" style="left:1051.30px;top:666px;font-size:16.64px;line-height:19px;letter-spacing:-0.046px;color:#FFFFFF;font-weight:700;">Qty</div>
<div class="t" style="left:1135.30px;top:666px;font-size:16.64px;line-height:19px;letter-spacing:-0.308px;color:#FFFFFF;font-weight:700;">Amount</div>
<div class="t" style="left:1348.95px;top:666px;font-size:16.64px;line-height:19px;letter-spacing:-0.059px;color:#FFFFFF;font-weight:700;">Status</div>
<svg style="left:377px;top:721.5px" width="40" height="40" viewBox="0 0 40 40" fill="none" ><defs><clipPath id="av1"><rect width="40" height="40" rx="8.5"/></clipPath></defs><g clip-path="url(#av1)"><rect width="40" height="40" fill="#DCEBE8"/><path d="M15.2 26 H24.8 V39 H15.2 Z" fill="#D8DDF0"/><path d="M15.9 19 H24.1 V27 H15.9 Z" fill="#EFA071"/><path d="M2.8 40 C2.8 34.4 3.6 30.8 6.2 29.2 L15.3 24.2 L20 37.4 L24.7 24.2 L33.8 29.2 C36.4 30.8 37.2 34.4 37.2 40 Z" fill="#26306B"/><path d="M15.3 24.2 L20 37.6 L24.7 24.2" stroke="#1A2252" stroke-width="1" fill="none" stroke-linejoin="round"/><path d="M14.8 11.6 C14.8 7 25.2 7 25.2 11.6 V16.8 C25.2 20.8 22.8 23.2 20 23.2 C17.2 23.2 14.8 20.8 14.8 16.8 Z" fill="#F2A97E"/><ellipse cx="14.2" cy="15.3" rx="1.1" ry="1.7" fill="#F2A97E"/><ellipse cx="25.8" cy="15.3" rx="1.1" ry="1.7" fill="#F2A97E"/><path d="M14.8 15.6 C15.3 18.6 16.4 19.2 17.4 18.6 C18.6 17.6 21.4 17.6 22.6 18.6 C23.6 19.2 24.7 18.6 25.2 15.6 V17.4 C25.2 21.2 22.8 23.6 20 23.6 C17.2 23.6 14.8 21.2 14.8 17.4 Z" fill="#2B2630"/><ellipse cx="20" cy="19.9" rx="2" ry="0.9" fill="#F2A97E"/><path d="M14.4 13.8 C13.4 8.4 15.6 4.6 19.2 4.6 C21 3.8 24 4.4 25 6 C26.4 7.6 26.4 10.8 25.6 13.8 C25.3 12 24.9 10.8 24.2 9.9 C21.6 10.5 18 10.3 15.8 9.5 C15.2 10.7 14.8 12.1 14.4 13.8 Z" fill="#2B2630"/><path d="M16.7 13.2 H18.9 M21.1 13.2 H23.3" stroke="#5B3A2A" stroke-width="0.7"/></g></svg>
<div class="t sb" style="left:429.00px;top:731px;font-size:18.72px;line-height:21px;letter-spacing:0.114px;color:#D5D9DF;">Dianne Russell</div>
<div class="t" style="left:675.00px;top:732px;font-size:16.64px;line-height:19px;letter-spacing:0.371px;color:#D5D9DF;">#6352148</div>
<div class="t" style="left:828.00px;top:732px;font-size:16.64px;line-height:19px;letter-spacing:-0.108px;color:#D5D9DF;">iPhone 14 max</div>
<div class="t" style="left:1051.30px;top:732px;font-size:16.64px;line-height:19px;letter-spacing:0.979px;color:#D5D9DF;">2</div>
<div class="t" style="left:1135.30px;top:732px;font-size:16.64px;line-height:19px;letter-spacing:0.33px;color:#D5D9DF;">$5,000.00</div>
<div style="position:absolute;left:1335.9px;top:726.0px;width:77px;height:32px;background:#2A4A4C;border-radius:16.0px"></div><div class="t m" style="left:1359.69px;top:734px;font-size:14.56px;line-height:16px;letter-spacing:0.07px;color:#45B369;">Paid</div>
<svg style="left:377px;top:794.5px" width="40" height="40" viewBox="0 0 40 40" fill="none" ><defs><clipPath id="av2"><rect width="40" height="40" rx="8.5"/></clipPath></defs><g clip-path="url(#av2)"><rect width="40" height="40" fill="#FFF0EC"/><path d="M20 6.2 C14 6.2 12.6 10.6 12.8 14.4 C11 16 11.4 18.6 12.4 19.8 C10.8 22 11.6 25.4 13.4 26.8 L26.6 26.8 C28.4 25.4 29.2 22 27.6 19.8 C28.6 18.6 29 16 27.2 14.4 C27.4 10.6 26 6.2 20 6.2 Z" fill="#2D2830"/><path d="M4 40 C4.2 34.6 4.8 30.8 6.6 29.2 L12 26.6 L20 26 L28 26.6 L33.4 29.2 C35.2 30.8 35.8 34.6 36 40 Z" fill="#DE6A5C"/><path d="M14 27.6 H26.1 L27 40 H13 Z" fill="#F1F2F4"/><path d="M15.6 29 V40 M17.4 29 V40 M19.2 29 V40 M21 29 V40 M22.8 29 V40 M24.6 29 V40" stroke="#DDDEE2" stroke-width="0.45"/><path d="M17.3 20 H22.7 V26 C24.6 26.4 25.8 27 26.2 27.8 C23.8 29.4 16.2 29.4 13.8 27.8 C14.2 27 15.4 26.4 17.3 26 Z" fill="#F2A97E"/><path d="M14.4 13 C14.4 8.6 25.6 8.6 25.6 13 V17 C25.6 21 23 23.6 20 23.6 C17 23.6 14.4 21 14.4 17 Z" fill="#F2A97E"/><path d="M14 15.6 C13.2 10.4 15.8 7.6 20 7.6 C24.2 7.6 26.8 10.4 26 15.6 C25.4 13.4 24 12.4 22.6 11.8 C21.6 11 20.6 10.6 20 10.8 C18.8 12.6 16.6 13.6 15 13.6 C14.6 14.2 14.2 14.8 14 15.6 Z" fill="#2D2830"/><circle cx="17.6" cy="16.4" r="0.5" fill="#3A2A2A"/><circle cx="22.4" cy="16.4" r="0.5" fill="#3A2A2A"/><path d="M19 20.6 Q20 21.2 21 20.6" stroke="#D9785F" stroke-width="0.6" fill="none"/></g></svg>
<div class="t sb" style="left:429.00px;top:804px;font-size:18.72px;line-height:21px;letter-spacing:0.22px;color:#D5D9DF;">Wade Warren</div>
<div class="t" style="left:675.00px;top:805px;font-size:16.64px;line-height:19px;letter-spacing:0.371px;color:#D5D9DF;">#6352148</div>
<div class="t" style="left:828.00px;top:805px;font-size:16.64px;line-height:19px;letter-spacing:0.035px;color:#D5D9DF;">Laptop HPH</div>
<div class="t" style="left:1051.30px;top:805px;font-size:16.64px;line-height:19px;letter-spacing:0.979px;color:#D5D9DF;">3</div>
<div class="t" style="left:1135.30px;top:805px;font-size:16.64px;line-height:19px;letter-spacing:0.33px;color:#D5D9DF;">$1,000.00</div>
<div style="position:absolute;left:1322.9px;top:799.0px;width:103px;height:32px;background:#4A4640;border-radius:16.0px"></div><div class="t m" style="left:1347.43px;top:807px;font-size:14.56px;line-height:16px;letter-spacing:0.073px;color:#FF9F29;">Pending</div>
<svg style="left:377px;top:867.5px" width="40" height="40" viewBox="0 0 40 40" fill="none" ><defs><clipPath id="av3"><rect width="40" height="40" rx="8.5"/></clipPath></defs><g clip-path="url(#av3)"><rect width="40" height="40" fill="#FFF0EC"/><g transform="translate(0.7,0)"><path d="M20 4 C13.6 4 12.2 9.6 12.8 14 C12.9 17 11 19.4 12 21.4 C13.2 23.2 16 23 17.4 22 L22.6 22 C24 23 26.8 23.2 28 21.4 C29 19.4 27.1 17 27.2 14 C27.8 9.6 26.4 4 20 4 Z" fill="#2A1F4F"/><path d="M4.4 40 C4.6 34.8 5.2 31 7 29.2 L12.4 25.2 L20 24.6 L27.6 25.2 L33 29.2 C34.8 31 35.4 34.8 35.6 40 Z" fill="#F8B133"/><path d="M17.2 19.6 H22.8 V24.6 C25.6 24.8 27.4 25.2 28.2 25.6 C25.6 28.6 14.4 28.6 11.8 25.6 C12.6 25.2 14.4 24.8 17.2 24.6 Z" fill="#F2A97E"/><path d="M14.4 12 C14.4 7.8 25.6 7.8 25.6 12 V16.2 C25.6 20.2 23 22.6 20 22.6 C17 22.6 14.4 20.2 14.4 16.2 Z" fill="#F2A97E"/><path d="M14 14.4 C13.2 8.8 15.8 5.8 20 5.8 C24.2 5.8 26.8 8.8 26 14.4 C25.2 12.2 23.6 10.4 21.4 9 C20 11.4 17 13 14.8 13 C14.4 13.4 14.2 13.8 14 14.4 Z" fill="#2A1F4F"/><circle cx="17.6" cy="14.6" r="0.55" fill="#3A2A3A"/><circle cx="22.4" cy="14.6" r="0.55" fill="#3A2A3A"/><path d="M18.8 18.3 Q20 19.9 21.2 18.3 Z" fill="#F4F4F4"/></g></g></svg>
<div class="t sb" style="left:429.00px;top:877px;font-size:18.72px;line-height:21px;letter-spacing:0.453px;color:#D5D9DF;">Albert Flores</div>
<div class="t" style="left:675.00px;top:878px;font-size:16.64px;line-height:19px;letter-spacing:0.371px;color:#D5D9DF;">#6352148</div>
<div class="t" style="left:828.00px;top:878px;font-size:16.64px;line-height:19px;letter-spacing:0.133px;color:#D5D9DF;">Smart Watch</div>
<div class="t" style="left:1051.30px;top:878px;font-size:16.64px;line-height:19px;letter-spacing:0.979px;color:#D5D9DF;">7</div>
<div class="t" style="left:1135.30px;top:878px;font-size:16.64px;line-height:19px;letter-spacing:0.33px;color:#D5D9DF;">$1,000.00</div>
<div style="position:absolute;left:1322.9px;top:872.0px;width:103px;height:32px;background:#263A64;border-radius:16.0px"></div><div class="t m" style="left:1347.43px;top:880px;font-size:14.56px;line-height:16px;letter-spacing:0.073px;color:#2456E6;">Shipped</div>
<svg style="left:377px;top:940.5px" width="40" height="40" viewBox="0 0 40 40" fill="none" ><defs><clipPath id="av4"><rect width="40" height="40" rx="8.5"/></clipPath></defs><g clip-path="url(#av4)"><rect width="40" height="40" fill="#FFF0EC"/><path d="M4 40 C4.2 35 5 31.6 7.2 30 L13.8 27.2 C17 29.4 23 29.4 26.2 27.2 L32.8 30 C35 31.6 35.8 35 36 40 Z" fill="#E7687B"/><path d="M6.6 35.4 H33.4 V38.6 H6.2 Z" fill="#C95E71"/><path d="M7.6 37 H32.4" stroke="#E98496" stroke-width="1.5" stroke-dasharray="1.6 0.9"/><path d="M17 20 H23 V26.4 C24.4 27 25.6 27.2 26.2 27.2 C23 29.6 17 29.6 13.8 27.2 C14.4 27.2 15.6 27 17 26.4 Z" fill="#F2A97E"/><path d="M17 22.6 C18.6 24.2 21.4 24.2 23 22.6 V24 C21.4 25.4 18.6 25.4 17 24 Z" fill="#E8976B"/><path d="M14.4 12.6 C14.4 8.2 25.6 8.2 25.6 12.6 V17.2 C25.6 21.4 23 24 20 24 C17 24 14.4 21.4 14.4 17.2 Z" fill="#F2A97E"/><ellipse cx="14.1" cy="16.4" rx="1" ry="1.6" fill="#F2A97E"/><ellipse cx="25.9" cy="16.4" rx="1" ry="1.6" fill="#F2A97E"/><path d="M14.4 15.4 C11.4 12.6 12 7.8 15.8 6.6 C17.6 4.6 22.6 4.4 24.4 6 C27.8 6.6 28.2 11.4 25.8 15.2 C25.6 13.4 25 12.2 24.2 11.4 C21.6 11.6 19.4 10.4 18.2 8.8 C17.6 11 16.2 12.6 15 13.2 C14.6 13.8 14.4 14.6 14.4 15.4 Z" fill="#2B2830"/><path d="M16.6 15 H18.8 M21.2 15 H23.4" stroke="#5B3A2A" stroke-width="0.6"/><circle cx="17.8" cy="16.2" r="0.45" fill="#3A2A2A"/><circle cx="22.3" cy="16.2" r="0.45" fill="#3A2A2A"/><path d="M18.6 20 Q20 21.8 21.4 20 Z" fill="#F4F4F4"/></g></svg>
<div class="t sb" style="left:429.00px;top:950px;font-size:18.72px;line-height:21px;letter-spacing:0.247px;color:#D5D9DF;">Bessie Cooper</div>
<div class="t" style="left:675.00px;top:951px;font-size:16.64px;line-height:19px;letter-spacing:0.371px;color:#D5D9DF;">#6352148</div>
<div class="t" style="left:828.00px;top:951px;font-size:16.64px;line-height:19px;letter-spacing:0.091px;color:#D5D9DF;">Nike Air Shoe</div>
<div class="t" style="left:1051.30px;top:951px;font-size:16.64px;line-height:19px;letter-spacing:0.979px;color:#D5D9DF;">1</div>
<div class="t" style="left:1135.30px;top:951px;font-size:16.64px;line-height:19px;letter-spacing:0.33px;color:#D5D9DF;">$3,000.00</div>
<div style="position:absolute;left:1318.9px;top:945.0px;width:111px;height:32px;background:#45303F;border-radius:16.0px"></div><div class="t m" style="left:1343.35px;top:953px;font-size:14.56px;line-height:16px;letter-spacing:0.074px;color:#F4511E;">Canceled</div>
<svg style="left:377px;top:1013.5px" width="40" height="40" viewBox="0 0 40 40" fill="none" ><defs><clipPath id="av5"><rect width="40" height="40" rx="8.5"/></clipPath></defs><g clip-path="url(#av5)"><rect width="40" height="40" fill="#DCEBE8"/><g transform="translate(-1.1,0)"><path d="M16.6 19 H23.4 V26 L24.8 25 L20 32.4 L15.2 25 L16.6 26 Z" fill="#F2A97E"/><path d="M16.6 22.2 C18.4 24 21.6 24 23.4 22.2 V23.8 C21.6 25.4 18.4 25.4 16.6 23.8 Z" fill="#E8976B"/><path d="M3.4 40 C3.6 34.6 4.4 30.8 6.6 29.2 L14.8 24.2 L20 32.6 L25.2 24.2 L33.4 29.2 C35.6 30.8 36.6 34.6 37 40 Z" fill="#7798CD"/><path d="M20 32.6 V40" stroke="#6485BB" stroke-width="0.7"/><path d="M14.8 24.2 L20 32.6 L25.2 24.2" stroke="#6A8BC2" stroke-width="0.9" fill="none"/><circle cx="20" cy="35.4" r="0.5" fill="#5F80B5"/><path d="M14.6 12.4 C14.6 8 25.4 8 25.4 12.4 V16.8 C25.4 20.8 23 23.4 20 23.4 C17 23.4 14.6 20.8 14.6 16.8 Z" fill="#F2A97E"/><ellipse cx="14.3" cy="15.8" rx="1" ry="1.6" fill="#F2A97E"/><ellipse cx="25.7" cy="15.8" rx="1" ry="1.6" fill="#F2A97E"/><path d="M14.6 14.8 C12.4 11.6 13.4 6.8 17 5.8 C18.8 4.2 23 4.2 24.6 6 C27.2 7.2 27.4 11 25.6 14.6 C25.4 13 24.8 11.8 24 11 C22.4 10.8 21 10.2 20.2 9.2 C18.8 10.6 16.8 11.4 15.6 11.4 C15 12.2 14.8 13.4 14.6 14.8 Z" fill="#2B2630"/><g stroke="#7A4A3A" stroke-width="0.65" fill="none"><rect x="15.4" y="14" width="3.9" height="2.8" rx="1"/><rect x="20.7" y="14" width="3.9" height="2.8" rx="1"/><path d="M19.3 15 H20.7"/></g><path d="M18.6 19.3 Q20 21 21.4 19.3 Z" fill="#F4F4F4"/></g></g></svg>
<div class="t sb" style="left:429.00px;top:1023px;font-size:18.72px;line-height:21px;letter-spacing:0.37px;color:#D5D9DF;">Arlene McCoy</div>
<div class="t" style="left:675.00px;top:1024px;font-size:16.64px;line-height:19px;letter-spacing:0.371px;color:#D5D9DF;">#6352148</div>
<div class="t" style="left:828.00px;top:1024px;font-size:16.64px;line-height:19px;letter-spacing:0.234px;color:#D5D9DF;">New Headphone</div>
<div class="t" style="left:1051.30px;top:1024px;font-size:16.64px;line-height:19px;letter-spacing:0.979px;color:#D5D9DF;">5</div>
<div class="t" style="left:1135.30px;top:1024px;font-size:16.64px;line-height:19px;letter-spacing:0.33px;color:#D5D9DF;">$4,000.00</div>
<div style="position:absolute;left:1318.9px;top:1018.0px;width:111px;height:32px;background:#45303F;border-radius:16.0px"></div><div class="t m" style="left:1343.35px;top:1026px;font-size:14.56px;line-height:16px;letter-spacing:0.074px;color:#F4511E;">Canceled</div>
<div class="card" style="left:1524px;top:574px;width:372px;height:538px"></div>
<div class="t" style="left:1548.00px;top:596px;font-size:18.72px;line-height:21px;letter-spacing:-0.04px;color:#FFFFFF;font-weight:700;">Transactions</div>
<div style="position:absolute;left:1750px;top:588px;width:122px;height:40px;border:1px solid #4B5563;border-radius:5px"></div><div class="t" style="left:1766.30px;top:601px;font-size:14.56px;line-height:16px;letter-spacing:0.248px;color:#FFFFFF;">This Month</div><svg style="left:1858.5px;top:603.2px" width="12" height="8" viewBox="0 0 12 8" fill="none" ><path d="M1 1.2 L6 6.4 L11 1.2" stroke="#D6DAE0" stroke-width="1.35" stroke-linecap="round" stroke-linejoin="round"/></svg>
<svg style="left:1548px;top:663.0px" width="40" height="40" viewBox="0 0 40 40" fill="none" ><rect width="40" height="40" rx="8.5" fill="#22455F"/><path d="M12.4 5.4 H21.6 C26 5.4 28.2 8.2 28.2 12.2 C28.2 16.4 26 19.2 21.6 19.2 H17.8 V31 H12.4 Z M17.8 9.8 V14.8 H20.8 C22.4 14.8 23 13.8 23 12.3 C23 10.8 22.4 9.8 20.8 9.8 Z" fill="#00BAF2" fill-rule="evenodd"/></svg>
<div class="t" style="left:1596.30px;top:660px;font-size:16.64px;line-height:19px;letter-spacing:0.068px;color:#FFFFFF;">Paytm</div>
<div class="t" style="left:1596.30px;top:685px;font-size:14.56px;line-height:16px;letter-spacing:0.196px;color:#D5D9DF;">Starbucks</div>
<div class="t" style="left:1835.30px;top:673px;font-size:16.64px;line-height:19px;letter-spacing:0.849px;color:#E5384B;">-$20</div>
<svg style="left:1548px;top:741.4px" width="40" height="40" viewBox="0 0 40 40" fill="none" ><rect width="40" height="40" rx="8.5" fill="#232F50"/><path d="M13.6 9 H21.4 C25 9 26.6 11.4 26 14.4 C25.2 18.4 22.6 20.2 19 20.2 H16.8 L15.6 27 H10.4 Z" fill="#003087"/><path d="M17.4 13.6 H24.8 C28 13.6 29.6 15.8 29 18.6 C28.2 22.4 25.8 24.2 22.4 24.2 H20.6 L19.6 30.6 H14.6 Z" fill="#009CDE"/><path d="M17.4 13.6 H24.8 C25.4 13.6 25.8 13.7 26.1 13.8 C25.4 18.2 22.8 20.2 19 20.2 H16.8 L16.3 23 Z" fill="#012169"/></svg>
<div class="t" style="left:1596.30px;top:738px;font-size:16.64px;line-height:19px;letter-spacing:-0.371px;color:#FFFFFF;">PayPal</div>
<div class="t" style="left:1596.30px;top:763px;font-size:14.56px;line-height:16px;letter-spacing:0.055px;color:#D5D9DF;">Client Payment</div>
<div class="t" style="left:1821.50px;top:752px;font-size:16.64px;line-height:19px;letter-spacing:0.753px;color:#45B369;">+$800</div>
<svg style="left:1548px;top:819.7px" width="40" height="40" viewBox="0 0 40 40" fill="none" ><rect width="40" height="40" rx="8.5" fill="#303560"/><path d="M28.6 10 L27.4 14.8 C25 13.8 22.4 13.4 20.6 13.4 C19.2 13.4 18.4 13.8 18.4 14.6 C18.4 15.4 19.4 15.8 21.4 16.4 C25.4 17.6 28.6 18.8 28.6 22.8 C28.6 28 24.4 30.4 18.6 30.4 C15.8 30.4 13 29.8 10.6 28.6 L11.8 23.6 C14.2 24.9 17 25.6 19.2 25.6 C20.8 25.6 21.8 25.2 21.8 24.2 C21.8 23.2 20.8 22.8 18.4 22 C14.4 20.8 11.8 19.4 11.8 15.6 C11.8 11 15.6 8.6 21.2 8.6 C23.8 8.6 26.4 9 28.6 10 Z" fill="#635BFF"/></svg>
<div class="t" style="left:1596.30px;top:817px;font-size:16.64px;line-height:19px;letter-spacing:0.172px;color:#FFFFFF;">Stripe</div>
<div class="t" style="left:1596.30px;top:841px;font-size:14.56px;line-height:16px;letter-spacing:-0.061px;color:#D5D9DF;">Ordered iPhone 14</div>
<div class="t" style="left:1824.20px;top:830px;font-size:16.74px;line-height:19px;letter-spacing:0.998px;color:#F4511E;">-$300</div>
<svg style="left:1548px;top:898.0px" width="40" height="40" viewBox="0 0 40 40" fill="none" ><rect width="40" height="40" rx="8.5" fill="#4A4340"/><path d="M31.8 6.4 L26.2 31.2 H20.6 L24 17.4 L17.8 19.4 L20.8 13.6 Z" fill="#3395FF"/><path d="M11.4 24.6 L22.6 18.4 L19.4 31.2 H8.6 Z" fill="#FF9F29"/></svg>
<div class="t" style="left:1596.30px;top:895px;font-size:16.64px;line-height:19px;letter-spacing:-0.152px;color:#FFFFFF;">Razorpay</div>
<div class="t" style="left:1596.30px;top:920px;font-size:14.56px;line-height:16px;letter-spacing:-0.075px;color:#D5D9DF;">Refund</div>
<div class="t" style="left:1821.50px;top:908px;font-size:16.64px;line-height:19px;letter-spacing:0.753px;color:#45B369;">+$500</div>
<svg style="left:1548px;top:976.4px" width="40" height="40" viewBox="0 0 40 40" fill="none" ><rect width="40" height="40" rx="8.5" fill="#22455F"/><path d="M12.4 5.4 H21.6 C26 5.4 28.2 8.2 28.2 12.2 C28.2 16.4 26 19.2 21.6 19.2 H17.8 V31 H12.4 Z M17.8 9.8 V14.8 H20.8 C22.4 14.8 23 13.8 23 12.3 C23 10.8 22.4 9.8 20.8 9.8 Z" fill="#00BAF2" fill-rule="evenodd"/></svg>
<div class="t" style="left:1596.30px;top:973px;font-size:16.64px;line-height:19px;letter-spacing:0.068px;color:#FFFFFF;">Paytm</div>
<div class="t" style="left:1596.30px;top:998px;font-size:14.56px;line-height:16px;letter-spacing:0.196px;color:#D5D9DF;">Starbucks</div>
<div class="t" style="left:1817.30px;top:987px;font-size:16.64px;line-height:19px;letter-spacing:0.481px;color:#F4511E;">-$1500</div>
<svg style="left:1548px;top:1054.8px" width="40" height="40" viewBox="0 0 40 40" fill="none" ><rect width="40" height="40" rx="8.5" fill="#303560"/><path d="M28.6 10 L27.4 14.8 C25 13.8 22.4 13.4 20.6 13.4 C19.2 13.4 18.4 13.8 18.4 14.6 C18.4 15.4 19.4 15.8 21.4 16.4 C25.4 17.6 28.6 18.8 28.6 22.8 C28.6 28 24.4 30.4 18.6 30.4 C15.8 30.4 13 29.8 10.6 28.6 L11.8 23.6 C14.2 24.9 17 25.6 19.2 25.6 C20.8 25.6 21.8 25.2 21.8 24.2 C21.8 23.2 20.8 22.8 18.4 22 C14.4 20.8 11.8 19.4 11.8 15.6 C11.8 11 15.6 8.6 21.2 8.6 C23.8 8.6 26.4 9 28.6 10 Z" fill="#635BFF"/></svg>
<div class="t" style="left:1596.30px;top:1052px;font-size:16.64px;line-height:19px;letter-spacing:0.172px;color:#FFFFFF;">Stripe</div>
<div class="t" style="left:1596.30px;top:1076px;font-size:14.56px;line-height:16px;letter-spacing:-0.061px;color:#D5D9DF;">Ordered iPhone 14</div>
<div class="t" style="left:1821.50px;top:1065px;font-size:16.64px;line-height:19px;letter-spacing:0.753px;color:#45B369;">+$800</div>
<!-- row3 -->
<div style="position:absolute;left:336px;top:1136px;width:504px;height:534px;background:#273142;border:1px solid #465164;border-radius:9px"></div>
<div class="t" style="left:361.00px;top:1161px;font-size:18.72px;line-height:21px;letter-spacing:-0.193px;color:#FFFFFF;font-weight:700;">Recent Orders</div>
<div class="t" style="left:361.00px;top:1194px;font-size:24.96px;line-height:28px;letter-spacing:0.682px;color:#FFFFFF;font-weight:700;">$27,200</div>
<div style="position:absolute;left:465px;top:1194px;width:63px;height:30px;background:#2B4448;border:1px solid #37665A;border-radius:15px"></div>
<div class="t" style="left:473.30px;top:1201px;font-size:14.56px;line-height:16px;letter-spacing:-0.38px;color:#45B369;font-weight:700;">10%</div>
<svg style="left:507.5px;top:1206px" width="9" height="6" viewBox="0 0 9 6" fill="none" ><path d="M0.6 5 L4.5 0.8 L8.4 5 Z" fill="#45B369"/></svg>
<div class="t" style="left:532.50px;top:1201px;font-size:14.56px;line-height:16px;letter-spacing:0.02px;color:#DDE1E7;">Increases</div>
<svg style="left:0;top:0" width="1920" height="1700" viewBox="0 0 1920 1700"><defs><linearGradient id="ag" x1="0" y1="0" x2="0" y2="1"><stop offset="0" stop-color="#487FFF" stop-opacity="0.36"/><stop offset="1" stop-color="#487FFF" stop-opacity="0.03"/></linearGradient></defs><line x1="370.75" y1="1511.45" x2="801.31" y2="1511.45" stroke="#E1E4E9" stroke-width="1" stroke-dasharray="1 0.85"/><line x1="370.75" y1="1445.60" x2="801.31" y2="1445.60" stroke="#E1E4E9" stroke-width="1" stroke-dasharray="1 0.85"/><line x1="370.75" y1="1379.75" x2="801.31" y2="1379.75" stroke="#E1E4E9" stroke-width="1" stroke-dasharray="1 0.85"/><line x1="370.75" y1="1313.90" x2="801.31" y2="1313.90" stroke="#E1E4E9" stroke-width="1" stroke-dasharray="1 0.85"/><line x1="370.75" y1="1248.05" x2="801.31" y2="1248.05" stroke="#E1E4E9" stroke-width="1" stroke-dasharray="1 0.85"/><path d="M370.75 1524.62 C389.59 1524.62 405.73 1478.52 424.57 1478.52 C443.41 1478.52 459.55 1511.45 478.39 1511.45 C497.23 1511.45 513.37 1412.67 532.21 1412.67 C551.05 1412.67 567.19 1478.52 586.03 1478.52 C604.87 1478.52 621.01 1280.97 639.85 1280.97 C658.69 1280.97 674.83 1346.83 693.67 1346.83 C712.51 1346.83 728.65 1313.90 747.49 1313.90 C766.33 1313.90 782.47 1379.75 801.31 1379.75 L801.31 1577.30 L370.75 1577.30 Z" fill="url(#ag)"/><path d="M370.75 1524.62 C389.59 1524.62 405.73 1478.52 424.57 1478.52 C443.41 1478.52 459.55 1511.45 478.39 1511.45 C497.23 1511.45 513.37 1412.67 532.21 1412.67 C551.05 1412.67 567.19 1478.52 586.03 1478.52 C604.87 1478.52 621.01 1280.97 639.85 1280.97 C658.69 1280.97 674.83 1346.83 693.67 1346.83 C712.51 1346.83 728.65 1313.90 747.49 1313.90 C766.33 1313.90 782.47 1379.75 801.31 1379.75" fill="none" stroke="#487FFF" stroke-width="4" stroke-linecap="round" stroke-linejoin="round"/><line x1="370.75" y1="1577.60" x2="801.31" y2="1577.60" stroke="#DFE2E7" stroke-width="1.2" stroke-dasharray="0.7 0.5"/><line x1="370.75" y1="1577.30" x2="370.75" y2="1583.90" stroke="#D6DAE0" stroke-width="1"/><line x1="424.57" y1="1577.30" x2="424.57" y2="1583.90" stroke="#D6DAE0" stroke-width="1"/><line x1="478.39" y1="1577.30" x2="478.39" y2="1583.90" stroke="#D6DAE0" stroke-width="1"/><line x1="532.21" y1="1577.30" x2="532.21" y2="1583.90" stroke="#D6DAE0" stroke-width="1"/><line x1="586.03" y1="1577.30" x2="586.03" y2="1583.90" stroke="#D6DAE0" stroke-width="1"/><line x1="639.85" y1="1577.30" x2="639.85" y2="1583.90" stroke="#D6DAE0" stroke-width="1"/><line x1="693.67" y1="1577.30" x2="693.67" y2="1583.90" stroke="#D6DAE0" stroke-width="1"/><line x1="747.49" y1="1577.30" x2="747.49" y2="1583.90" stroke="#D6DAE0" stroke-width="1"/><line x1="801.31" y1="1577.30" x2="801.31" y2="1583.90" stroke="#D6DAE0" stroke-width="1"/></svg><div class="t" style="left:359.76px;top:1589px;font-size:14px;line-height:16px;letter-spacing:0px;color:#DDE1E7;">Jan</div><div class="t" style="left:412.81px;top:1589px;font-size:14px;line-height:16px;letter-spacing:0px;color:#DDE1E7;">Feb</div><div class="t" style="left:466.63px;top:1589px;font-size:14px;line-height:16px;letter-spacing:0px;color:#DDE1E7;">Mar</div><div class="t" style="left:521.62px;top:1589px;font-size:14px;line-height:16px;letter-spacing:0px;color:#DDE1E7;">Apr</div><div class="t" style="left:573.11px;top:1589px;font-size:14px;line-height:16px;letter-spacing:0px;color:#DDE1E7;">May</div><div class="t" style="left:628.86px;top:1589px;font-size:14px;line-height:16px;letter-spacing:0px;color:#DDE1E7;">Jun</div><div class="t" style="left:685.02px;top:1589px;font-size:14px;line-height:16px;letter-spacing:0px;color:#DDE1E7;">Jul</div><div class="t" style="left:735.33px;top:1589px;font-size:14px;line-height:16px;letter-spacing:0px;color:#DDE1E7;">Aug</div><div class="t" style="left:789.15px;top:1589px;font-size:14px;line-height:16px;letter-spacing:0px;color:#DDE1E7;">Sep</div>
<div class="card" style="left:864px;top:1136px;width:504px;height:534px"></div>
<div class="t" style="left:888.00px;top:1158px;font-size:18.72px;line-height:21px;letter-spacing:-0.093px;color:#FFFFFF;font-weight:700;">Distribution Maps</div>
<div style="position:absolute;left:1243px;top:1150px;width:101px;height:40px;border:1px solid #4B5563;border-radius:5px"></div><div class="t" style="left:1259.30px;top:1163px;font-size:14.56px;line-height:16px;letter-spacing:-0.089px;color:#FFFFFF;">Yearly</div><svg style="left:1330.5px;top:1165.2px" width="12" height="8" viewBox="0 0 12 8" fill="none" ><path d="M1 1.2 L6 6.4 L11 1.2" stroke="#D6DAE0" stroke-width="1.35" stroke-linecap="round" stroke-linejoin="round"/></svg>
<svg style="left:0;top:0" width="1920" height="1700" viewBox="0 0 1920 1700"><path d="M911.9 1245.3 L914.0 1244.1 L916.8 1243.4 L919.1 1244.1 L917.4 1242.4 L913.6 1240.1 L917.1 1237.7 L921.1 1235.7 L924.9 1234.0 L930.2 1235.1 L934.7 1235.9 L939.2 1236.7 L942.6 1237.5 L945.5 1238.7 L948.3 1238.9 L951.1 1237.9 L955.1 1236.5 L957.4 1235.9 L959.6 1237.7 L961.6 1236.7 L964.7 1237.1 L968.7 1238.7 L972.1 1238.9 L973.0 1240.3 L971.8 1241.1 L976.6 1241.1 L979.8 1241.1 L979.8 1239.5 L982.5 1239.5 L985.1 1240.7 L988.0 1241.1 L991.1 1240.3 L991.6 1238.3 L993.6 1240.1 L993.9 1242.0 L995.0 1240.1 L994.1 1237.1 L993.3 1234.3 L995.2 1232.6 L997.0 1234.0 L997.5 1237.3 L999.3 1237.9 L1000.2 1239.5 L1002.5 1240.1 L1002.9 1242.0 L1004.3 1241.5 L1005.4 1237.5 L1007.0 1237.1 L1010.3 1238.3 L1009.3 1240.3 L1010.2 1241.7 L1007.8 1243.9 L1005.2 1243.6 L1004.1 1245.6 L1002.2 1247.8 L999.9 1248.9 L997.3 1250.7 L996.1 1252.6 L995.2 1254.8 L995.1 1257.2 L997.3 1259.8 L1000.4 1260.2 L1003.3 1261.8 L1006.1 1262.9 L1009.2 1263.2 L1009.3 1266.5 L1010.6 1268.1 L1011.8 1269.2 L1012.9 1268.7 L1013.1 1266.8 L1012.7 1264.1 L1014.7 1262.1 L1015.6 1259.5 L1013.5 1257.2 L1014.5 1254.7 L1014.0 1251.2 L1017.0 1251.4 L1020.4 1252.4 L1022.9 1253.5 L1023.5 1255.9 L1025.1 1257.9 L1027.2 1257.2 L1028.8 1254.8 L1029.9 1256.2 L1031.5 1258.5 L1032.6 1260.8 L1034.4 1262.9 L1036.9 1264.3 L1038.0 1265.8 L1039.2 1267.4 L1038.3 1268.7 L1036.0 1269.2 L1034.2 1270.7 L1031.6 1270.5 L1029.2 1270.5 L1026.7 1271.3 L1024.7 1272.7 L1023.1 1274.5 L1021.8 1275.6 L1023.8 1274.5 L1025.8 1272.7 L1028.3 1272.0 L1029.5 1272.7 L1028.3 1274.2 L1029.0 1276.2 L1030.3 1276.9 L1032.8 1277.3 L1034.2 1275.6 L1034.4 1277.0 L1032.6 1278.0 L1030.6 1278.9 L1028.3 1280.1 L1027.4 1279.2 L1029.2 1277.8 L1027.4 1277.9 L1026.4 1278.5 L1024.7 1279.2 L1023.0 1280.0 L1022.3 1281.4 L1023.1 1282.6 L1021.7 1283.0 L1020.1 1283.4 L1018.7 1284.1 L1018.4 1285.3 L1017.2 1286.6 L1016.5 1288.6 L1015.8 1289.0 L1016.7 1291.2 L1015.4 1292.1 L1014.0 1293.0 L1012.7 1294.0 L1010.9 1295.4 L1010.1 1297.1 L1010.6 1298.9 L1011.3 1300.6 L1011.8 1302.3 L1011.3 1303.7 L1010.4 1303.6 L1009.6 1302.3 L1008.6 1300.6 L1008.7 1299.1 L1007.2 1297.9 L1005.5 1298.1 L1003.4 1297.4 L1001.6 1297.5 L1001.1 1298.9 L999.3 1298.7 L996.1 1298.2 L994.8 1298.9 L992.7 1300.3 L992.0 1301.8 L992.3 1302.9 L991.7 1305.2 L991.6 1307.0 L992.2 1309.2 L993.4 1310.9 L995.2 1312.0 L997.5 1311.6 L999.3 1311.1 L999.9 1309.0 L1002.0 1308.2 L1003.8 1308.3 L1003.3 1310.4 L1002.7 1311.9 L1001.8 1314.4 L1003.6 1314.8 L1005.4 1314.7 L1007.7 1315.5 L1007.9 1317.4 L1007.7 1319.5 L1007.7 1320.6 L1009.0 1322.3 L1010.4 1322.9 L1012.0 1322.1 L1013.8 1322.3 L1014.8 1323.2 L1014.3 1324.5 L1013.6 1323.5 L1012.2 1322.8 L1011.4 1324.3 L1009.9 1324.0 L1008.4 1323.5 L1006.3 1321.8 L1005.2 1320.3 L1003.4 1318.2 L1002.0 1317.7 L1000.2 1317.2 L997.9 1316.4 L995.9 1314.5 L993.1 1315.0 L990.2 1313.8 L986.8 1312.3 L984.6 1310.9 L982.9 1309.5 L983.1 1308.0 L981.8 1306.0 L979.7 1303.6 L978.4 1301.9 L976.9 1300.3 L975.0 1298.5 L974.2 1296.4 L972.4 1295.7 L972.5 1297.6 L974.1 1299.6 L975.3 1301.5 L976.4 1303.2 L977.4 1304.9 L978.3 1306.1 L977.3 1305.8 L975.5 1304.2 L975.0 1302.5 L973.2 1301.3 L972.1 1300.3 L972.9 1299.3 L971.2 1297.4 L969.7 1294.7 L968.2 1292.8 L965.7 1292.2 L964.3 1289.5 L963.6 1287.9 L962.1 1285.7 L961.6 1284.5 L961.7 1282.3 L961.8 1278.9 L961.9 1276.5 L961.1 1273.3 L963.0 1273.6 L963.5 1274.8 L963.7 1273.3 L962.9 1272.2 L961.2 1271.0 L958.5 1269.5 L957.4 1267.4 L955.8 1265.5 L954.9 1263.8 L953.7 1262.4 L952.1 1260.8 L950.8 1259.2 L949.0 1257.9 L946.5 1257.0 L944.1 1255.4 L941.5 1255.2 L938.7 1254.8 L936.7 1253.5 L934.2 1254.8 L932.4 1256.2 L930.4 1256.5 L930.8 1254.0 L932.4 1253.1 L929.7 1254.3 L928.5 1256.4 L927.4 1257.7 L925.2 1259.7 L922.8 1261.3 L920.0 1263.0 L917.5 1263.8 L915.9 1264.1 L918.1 1262.4 L920.4 1261.4 L922.8 1259.2 L924.2 1257.2 L922.2 1257.5 L919.1 1257.2 L918.8 1255.2 L916.0 1254.3 L914.9 1252.6 L914.3 1251.4 L915.7 1250.0 L919.4 1249.1 L920.2 1247.1 L918.3 1247.3 L915.4 1247.5 L913.4 1246.0Z M1019.7 1218.5 L1024.8 1214.4 L1029.9 1211.0 L1036.7 1208.3 L1045.8 1207.5 L1052.6 1205.5 L1061.6 1204.1 L1070.7 1204.7 L1077.5 1206.9 L1079.8 1209.7 L1087.7 1209.7 L1084.3 1212.9 L1081.3 1216.5 L1080.2 1219.9 L1081.3 1223.7 L1078.8 1226.9 L1077.7 1230.9 L1074.7 1232.2 L1077.5 1235.5 L1073.4 1235.9 L1075.7 1237.9 L1071.8 1239.9 L1067.3 1240.5 L1064.3 1243.0 L1061.2 1244.9 L1057.5 1245.6 L1056.4 1247.8 L1054.8 1250.7 L1053.9 1253.8 L1053.0 1255.4 L1051.0 1254.8 L1048.2 1253.7 L1046.2 1251.0 L1044.6 1248.2 L1042.8 1245.3 L1041.7 1242.2 L1043.5 1239.5 L1044.6 1237.5 L1040.8 1235.9 L1040.1 1232.2 L1037.8 1228.3 L1035.6 1224.6 L1030.6 1223.3 L1024.9 1223.7 L1021.7 1220.9Z M1014.8 1323.2 L1015.6 1322.2 L1016.7 1320.6 L1018.1 1320.3 L1019.7 1319.9 L1021.1 1318.8 L1021.7 1319.2 L1021.1 1320.4 L1021.5 1321.1 L1022.9 1319.7 L1024.9 1320.8 L1027.2 1320.8 L1029.4 1321.2 L1031.7 1320.7 L1033.3 1322.0 L1034.4 1323.2 L1036.2 1325.1 L1037.8 1326.2 L1040.8 1326.3 L1043.5 1327.7 L1044.6 1329.3 L1045.8 1331.1 L1045.3 1332.9 L1047.6 1333.9 L1049.8 1334.3 L1052.1 1335.8 L1054.4 1336.1 L1056.6 1336.2 L1058.8 1337.1 L1060.9 1338.5 L1062.5 1339.0 L1063.0 1341.1 L1062.5 1343.4 L1060.9 1345.2 L1059.8 1346.6 L1058.7 1347.7 L1058.2 1350.6 L1058.0 1353.3 L1057.1 1355.4 L1056.2 1357.5 L1055.0 1358.9 L1053.5 1359.4 L1051.6 1359.9 L1049.8 1360.9 L1048.0 1362.3 L1047.3 1364.0 L1047.1 1366.0 L1045.8 1367.7 L1044.4 1369.4 L1043.0 1371.2 L1041.7 1373.0 L1040.1 1374.1 L1038.3 1373.9 L1036.5 1373.2 L1037.4 1375.0 L1037.8 1376.3 L1036.9 1378.4 L1034.4 1379.2 L1032.2 1379.3 L1031.8 1381.9 L1028.8 1382.1 L1029.9 1384.0 L1028.5 1385.5 L1028.2 1387.6 L1025.9 1389.3 L1027.6 1391.3 L1025.9 1394.1 L1024.2 1396.0 L1024.9 1398.4 L1023.5 1398.7 L1024.9 1399.6 L1026.9 1401.8 L1028.5 1402.1 L1026.9 1402.8 L1024.7 1403.4 L1022.4 1402.4 L1020.8 1401.2 L1019.2 1399.3 L1017.9 1397.2 L1017.0 1394.2 L1016.7 1391.9 L1018.0 1390.5 L1016.7 1389.0 L1018.6 1387.1 L1019.5 1384.9 L1018.6 1383.5 L1018.9 1380.8 L1019.1 1377.6 L1020.0 1375.0 L1021.2 1371.9 L1021.4 1368.2 L1022.0 1365.0 L1022.5 1361.8 L1022.9 1358.9 L1022.9 1355.9 L1022.6 1353.9 L1021.3 1352.8 L1019.0 1351.6 L1017.0 1350.4 L1016.0 1348.6 L1014.9 1346.6 L1013.8 1344.5 L1012.9 1342.4 L1011.9 1340.6 L1010.4 1339.7 L1010.3 1337.9 L1011.4 1336.8 L1012.0 1335.7 L1010.7 1335.4 L1010.9 1334.0 L1011.6 1332.3 L1013.0 1331.3 L1013.6 1330.0 L1014.9 1328.5 L1014.6 1326.5 L1014.7 1325.2 L1014.1 1324.6Z M1095.7 1290.5 L1097.9 1291.3 L1099.9 1291.4 L1102.0 1290.5 L1104.0 1289.6 L1105.8 1289.2 L1108.3 1289.4 L1110.4 1289.0 L1112.6 1288.8 L1113.8 1288.6 L1114.9 1289.1 L1114.2 1290.8 L1114.9 1292.6 L1114.0 1293.2 L1115.3 1293.9 L1117.4 1294.2 L1119.8 1295.0 L1121.2 1296.4 L1122.8 1297.1 L1124.4 1297.4 L1125.1 1296.4 L1125.2 1294.9 L1126.9 1294.2 L1128.7 1294.9 L1130.8 1295.6 L1133.0 1296.4 L1135.3 1296.7 L1136.9 1296.1 L1138.0 1296.0 L1139.0 1296.4 L1139.4 1298.0 L1140.0 1299.7 L1140.7 1301.1 L1141.6 1303.2 L1142.7 1305.2 L1143.4 1306.9 L1144.4 1308.8 L1144.7 1311.1 L1146.1 1312.3 L1146.6 1313.9 L1147.4 1315.5 L1148.9 1316.9 L1150.5 1318.2 L1151.5 1319.7 L1152.3 1321.0 L1154.1 1320.8 L1155.7 1320.2 L1158.0 1319.9 L1160.4 1319.4 L1160.3 1321.1 L1159.5 1323.1 L1158.2 1325.6 L1156.8 1327.9 L1155.0 1329.7 L1153.4 1330.9 L1151.6 1332.4 L1150.0 1334.0 L1148.3 1335.7 L1147.3 1337.9 L1146.5 1340.3 L1147.2 1342.7 L1148.2 1344.8 L1148.5 1347.3 L1148.5 1349.6 L1147.5 1351.6 L1145.5 1352.8 L1143.9 1354.2 L1142.1 1355.6 L1142.5 1358.2 L1142.5 1360.6 L1140.5 1362.1 L1139.6 1362.9 L1139.6 1364.9 L1138.7 1366.5 L1137.6 1367.8 L1136.4 1369.7 L1134.6 1371.2 L1133.0 1372.5 L1131.5 1373.0 L1129.2 1373.0 L1127.4 1373.1 L1125.1 1374.0 L1123.3 1373.2 L1122.8 1371.2 L1121.9 1368.4 L1121.0 1366.2 L1119.9 1364.2 L1119.2 1361.8 L1118.7 1358.8 L1117.4 1356.3 L1116.2 1354.0 L1115.8 1351.8 L1116.4 1349.3 L1117.5 1347.3 L1118.1 1345.4 L1117.4 1342.9 L1116.5 1340.6 L1116.2 1339.5 L1115.6 1337.9 L1114.2 1336.3 L1113.1 1334.7 L1112.4 1333.6 L1113.2 1331.8 L1113.4 1330.0 L1113.3 1328.6 L1112.2 1327.8 L1110.6 1327.9 L1109.2 1328.0 L1108.1 1326.8 L1107.2 1325.8 L1105.4 1325.8 L1103.6 1326.2 L1101.7 1326.9 L1100.2 1327.5 L1098.6 1327.1 L1097.0 1327.0 L1095.2 1327.6 L1093.8 1327.9 L1092.2 1327.2 L1090.6 1325.9 L1089.5 1325.1 L1088.1 1324.0 L1087.3 1322.3 L1085.9 1320.8 L1085.0 1319.7 L1083.4 1318.7 L1083.5 1317.5 L1082.6 1316.1 L1083.6 1314.6 L1084.1 1312.3 L1083.8 1310.5 L1083.2 1308.8 L1084.1 1306.4 L1085.4 1304.2 L1086.1 1302.5 L1087.7 1300.7 L1089.5 1299.8 L1091.1 1298.5 L1091.4 1296.6 L1092.0 1294.6 L1093.4 1293.5 L1094.7 1292.7 L1095.6 1291.3Z M1092.2 1289.0 L1092.4 1287.7 L1091.7 1286.7 L1092.3 1284.7 L1092.6 1282.9 L1092.0 1280.9 L1093.4 1280.0 L1095.6 1280.1 L1098.3 1280.3 L1100.4 1280.4 L1100.9 1278.7 L1101.1 1276.8 L1099.9 1275.1 L1098.6 1274.3 L1097.2 1273.9 L1097.1 1273.2 L1099.0 1272.7 L1100.6 1272.9 L1100.4 1271.4 L1101.2 1271.9 L1102.6 1271.6 L1104.0 1270.8 L1104.3 1269.5 L1106.3 1268.9 L1107.2 1267.7 L1107.9 1266.5 L1109.2 1265.8 L1110.6 1265.5 L1112.1 1265.4 L1112.4 1263.7 L1111.7 1262.4 L1111.7 1260.2 L1113.3 1259.5 L1114.3 1259.0 L1114.1 1261.0 L1114.4 1261.8 L1113.5 1263.0 L1113.5 1264.0 L1114.9 1264.6 L1116.4 1264.4 L1117.8 1264.3 L1118.6 1265.1 L1120.8 1264.3 L1123.3 1263.7 L1124.6 1264.3 L1126.0 1263.0 L1126.2 1260.8 L1126.9 1259.3 L1128.0 1259.0 L1128.9 1260.2 L1129.8 1259.8 L1130.1 1258.0 L1129.1 1256.5 L1130.8 1256.0 L1133.0 1256.0 L1134.6 1255.7 L1136.6 1255.4 L1134.8 1254.3 L1132.3 1254.5 L1130.3 1255.0 L1128.5 1255.4 L1126.9 1254.2 L1126.6 1252.4 L1126.6 1250.7 L1127.6 1249.3 L1129.6 1247.5 L1131.1 1245.8 L1129.8 1244.9 L1127.6 1245.1 L1126.7 1247.1 L1125.5 1248.7 L1123.5 1250.2 L1122.1 1251.4 L1121.9 1253.5 L1122.6 1254.2 L1123.7 1255.4 L1123.0 1256.5 L1121.5 1257.5 L1121.2 1259.5 L1120.8 1261.1 L1119.9 1261.6 L1118.6 1262.4 L1117.2 1262.7 L1116.9 1261.3 L1116.0 1259.8 L1115.6 1258.5 L1115.0 1256.9 L1114.4 1255.7 L1113.3 1257.0 L1111.7 1258.4 L1110.1 1258.4 L1108.8 1257.0 L1108.1 1254.8 L1108.1 1252.8 L1108.3 1251.4 L1110.1 1250.3 L1112.1 1249.1 L1113.8 1247.8 L1115.3 1246.4 L1116.5 1244.5 L1117.6 1242.6 L1119.2 1240.7 L1120.8 1239.1 L1123.3 1237.5 L1125.8 1236.5 L1128.5 1235.5 L1130.3 1234.7 L1131.9 1234.5 L1134.6 1234.9 L1136.9 1235.7 L1137.6 1236.3 L1136.2 1237.3 L1138.7 1237.1 L1140.0 1238.1 L1142.8 1238.3 L1145.5 1239.9 L1147.8 1241.3 L1149.1 1243.2 L1147.8 1244.1 L1145.5 1244.3 L1142.8 1243.6 L1140.3 1243.2 L1141.6 1246.0 L1142.0 1247.5 L1143.9 1248.2 L1145.3 1247.8 L1147.8 1247.1 L1148.3 1245.3 L1150.0 1243.8 L1151.8 1244.1 L1152.5 1242.2 L1152.1 1239.9 L1153.6 1239.7 L1155.0 1241.1 L1154.3 1242.6 L1156.4 1242.8 L1158.0 1241.1 L1160.2 1239.9 L1162.9 1239.5 L1165.2 1239.7 L1167.5 1239.3 L1169.7 1239.9 L1170.9 1238.7 L1171.6 1237.1 L1174.3 1237.5 L1176.1 1238.3 L1178.1 1239.5 L1179.9 1239.9 L1180.4 1237.5 L1178.4 1235.1 L1178.6 1232.6 L1180.4 1230.4 L1183.3 1230.0 L1184.9 1231.3 L1184.7 1234.7 L1184.5 1237.9 L1185.8 1241.5 L1184.0 1243.8 L1186.3 1243.0 L1187.6 1239.9 L1186.7 1236.7 L1187.2 1233.4 L1189.2 1232.6 L1191.3 1232.2 L1193.8 1231.5 L1195.8 1233.0 L1196.9 1235.5 L1196.0 1231.3 L1194.2 1229.4 L1197.6 1228.7 L1200.8 1228.3 L1201.0 1226.0 L1204.4 1224.6 L1208.5 1223.7 L1212.4 1223.5 L1215.8 1222.3 L1218.7 1220.4 L1220.6 1219.7 L1223.2 1220.9 L1225.3 1222.1 L1228.9 1222.5 L1230.9 1224.6 L1230.9 1227.8 L1228.2 1228.7 L1227.5 1228.3 L1230.5 1229.1 L1233.9 1229.1 L1237.3 1230.2 L1240.7 1230.4 L1243.6 1229.1 L1246.4 1229.4 L1249.1 1231.7 L1249.1 1234.3 L1251.6 1234.9 L1253.6 1233.6 L1256.1 1233.4 L1258.4 1233.8 L1260.6 1231.7 L1262.9 1230.9 L1266.7 1231.5 L1270.1 1231.9 L1272.4 1233.2 L1275.2 1234.9 L1278.5 1234.5 L1281.5 1234.9 L1283.7 1237.3 L1286.0 1237.5 L1288.7 1237.5 L1291.7 1237.5 L1293.9 1238.3 L1295.6 1236.9 L1296.2 1238.9 L1299.2 1237.3 L1301.9 1237.5 L1304.6 1238.1 L1306.4 1238.9 L1309.1 1240.1 L1312.1 1241.5 L1314.8 1242.6 L1317.3 1244.1 L1318.1 1244.5 L1317.1 1245.4 L1314.9 1247.3 L1312.8 1246.9 L1310.9 1245.6 L1308.2 1245.3 L1306.9 1244.1 L1306.4 1246.4 L1303.6 1247.1 L1304.8 1249.3 L1305.5 1251.0 L1303.0 1251.4 L1300.3 1252.1 L1297.8 1253.7 L1295.5 1255.2 L1293.3 1254.5 L1290.5 1255.2 L1288.7 1255.4 L1287.1 1256.5 L1286.9 1258.5 L1286.6 1261.1 L1285.6 1263.4 L1284.2 1265.2 L1283.1 1266.8 L1281.8 1268.1 L1280.0 1269.5 L1279.4 1267.1 L1278.8 1264.0 L1279.0 1260.5 L1280.3 1258.9 L1282.2 1257.2 L1284.2 1255.2 L1286.0 1253.8 L1287.6 1252.4 L1286.0 1251.4 L1284.2 1252.1 L1281.5 1252.3 L1279.7 1253.5 L1278.1 1255.9 L1275.8 1256.7 L1273.8 1256.4 L1271.3 1255.9 L1268.3 1256.4 L1265.2 1256.4 L1262.9 1257.5 L1260.6 1259.2 L1258.4 1261.1 L1256.0 1263.7 L1258.1 1264.9 L1260.4 1265.1 L1261.8 1266.5 L1262.4 1268.0 L1261.8 1270.4 L1261.3 1273.3 L1259.7 1275.3 L1258.1 1277.6 L1256.3 1279.3 L1254.3 1280.9 L1252.5 1280.7 L1250.9 1281.5 L1250.2 1282.0 L1249.4 1283.7 L1247.9 1284.7 L1246.9 1285.5 L1248.2 1287.1 L1249.0 1288.7 L1249.1 1290.8 L1247.9 1291.7 L1246.4 1292.1 L1245.7 1292.2 L1245.8 1290.3 L1245.9 1288.7 L1244.5 1287.9 L1244.3 1286.1 L1243.4 1285.1 L1241.8 1285.5 L1240.2 1286.3 L1240.7 1284.5 L1239.3 1283.9 L1237.7 1285.5 L1235.9 1286.3 L1236.6 1287.7 L1237.7 1288.6 L1239.6 1288.2 L1241.3 1288.7 L1239.6 1289.7 L1238.0 1291.0 L1237.7 1292.1 L1238.9 1293.3 L1240.0 1294.9 L1240.6 1295.9 L1240.0 1297.4 L1240.7 1298.1 L1240.2 1299.8 L1238.9 1301.5 L1237.7 1303.2 L1236.4 1304.6 L1235.0 1305.8 L1233.4 1306.6 L1231.8 1307.2 L1230.0 1307.9 L1228.2 1308.3 L1227.4 1308.8 L1227.1 1309.6 L1226.6 1308.3 L1225.3 1308.0 L1223.7 1308.8 L1222.6 1309.9 L1222.2 1311.1 L1223.2 1312.8 L1224.4 1314.1 L1225.7 1315.3 L1226.3 1317.6 L1226.2 1319.7 L1224.8 1320.6 L1223.5 1321.2 L1222.6 1322.2 L1221.6 1323.0 L1221.2 1321.5 L1219.8 1320.8 L1218.7 1319.2 L1216.9 1318.4 L1216.4 1317.5 L1215.8 1318.5 L1215.3 1320.4 L1214.8 1322.0 L1215.5 1322.9 L1216.2 1324.5 L1217.3 1325.4 L1218.6 1326.1 L1219.6 1327.7 L1219.6 1329.7 L1220.5 1331.3 L1219.5 1331.2 L1217.6 1330.0 L1216.7 1328.6 L1216.2 1326.8 L1216.0 1325.4 L1214.8 1324.0 L1213.8 1323.6 L1214.1 1321.8 L1214.3 1319.7 L1213.9 1317.6 L1213.3 1316.0 L1213.0 1314.1 L1211.9 1313.9 L1210.5 1314.8 L1209.4 1314.4 L1209.4 1312.5 L1208.7 1310.9 L1207.4 1309.2 L1206.7 1307.8 L1205.6 1306.9 L1204.6 1307.6 L1203.3 1307.8 L1201.5 1308.0 L1200.8 1309.2 L1199.4 1310.3 L1197.8 1311.6 L1196.0 1313.5 L1194.4 1314.6 L1193.3 1315.3 L1193.3 1317.4 L1193.1 1319.2 L1192.9 1321.2 L1192.0 1322.3 L1191.0 1322.9 L1190.3 1323.7 L1189.2 1322.4 L1188.3 1320.2 L1187.2 1318.1 L1186.5 1316.0 L1185.7 1314.1 L1185.2 1312.3 L1184.9 1310.9 L1184.8 1308.8 L1184.5 1307.6 L1182.9 1308.9 L1181.3 1308.0 L1180.6 1307.1 L1182.0 1306.4 L1180.2 1305.9 L1178.8 1304.5 L1177.7 1303.5 L1175.4 1303.6 L1173.1 1303.7 L1171.1 1303.6 L1169.1 1303.4 L1167.5 1302.3 L1166.6 1301.4 L1164.3 1302.0 L1162.5 1301.5 L1160.9 1300.6 L1159.8 1299.1 L1159.1 1297.9 L1157.7 1297.5 L1156.8 1298.4 L1157.5 1300.1 L1158.6 1301.5 L1159.3 1302.5 L1159.3 1303.5 L1160.0 1303.0 L1160.7 1302.6 L1160.9 1304.0 L1160.7 1304.7 L1162.0 1304.9 L1163.6 1304.9 L1164.8 1304.0 L1166.1 1302.5 L1166.5 1304.2 L1167.5 1305.3 L1168.9 1305.7 L1170.2 1307.0 L1169.1 1308.8 L1168.2 1309.7 L1167.8 1311.1 L1166.3 1312.3 L1165.0 1313.0 L1162.9 1313.9 L1161.4 1314.8 L1159.3 1315.8 L1157.5 1316.9 L1155.7 1317.5 L1153.4 1318.3 L1151.7 1318.4 L1151.0 1316.5 L1150.7 1314.4 L1149.3 1312.5 L1148.2 1310.4 L1146.8 1308.4 L1146.2 1306.6 L1145.0 1304.7 L1144.1 1303.0 L1142.8 1301.1 L1141.9 1299.8 L1142.0 1298.5 L1141.4 1299.8 L1141.2 1300.6 L1140.3 1299.6 L1139.6 1298.4 L1139.3 1297.9 L1139.0 1296.4 L1140.3 1296.5 L1141.4 1296.1 L1142.0 1294.6 L1142.5 1293.1 L1143.1 1291.6 L1143.2 1290.3 L1143.4 1289.4 L1142.1 1289.4 L1141.0 1289.9 L1139.1 1290.1 L1137.1 1289.2 L1135.7 1289.9 L1134.2 1289.2 L1133.5 1288.4 L1132.6 1287.1 L1132.8 1285.9 L1132.1 1285.5 L1132.3 1284.7 L1133.7 1284.5 L1135.3 1284.3 L1135.7 1283.5 L1138.0 1283.4 L1139.8 1282.4 L1142.1 1282.3 L1143.9 1283.3 L1145.9 1283.7 L1147.8 1283.7 L1149.5 1283.0 L1149.5 1281.6 L1148.0 1280.5 L1146.4 1279.3 L1145.0 1278.6 L1144.1 1277.8 L1145.3 1277.0 L1145.7 1275.9 L1146.8 1275.1 L1145.5 1275.2 L1143.9 1275.8 L1142.3 1276.3 L1142.3 1277.3 L1143.7 1277.6 L1142.5 1278.2 L1141.2 1278.9 L1140.5 1279.0 L1139.4 1277.6 L1140.5 1276.8 L1138.9 1276.2 L1137.3 1276.1 L1136.2 1277.6 L1135.1 1279.0 L1134.6 1280.4 L1133.9 1281.5 L1134.2 1282.4 L1135.1 1283.3 L1134.2 1283.7 L1133.0 1283.9 L1132.0 1284.1 L1130.5 1283.8 L1129.4 1284.5 L1128.9 1284.7 L1128.3 1284.3 L1128.1 1285.8 L1128.7 1286.6 L1129.6 1287.4 L1128.9 1287.9 L1128.6 1288.6 L1128.3 1289.6 L1127.4 1289.2 L1126.7 1288.4 L1126.4 1287.4 L1126.0 1286.5 L1125.3 1285.5 L1124.4 1284.3 L1124.5 1282.6 L1123.5 1281.6 L1122.1 1280.8 L1120.6 1280.1 L1119.6 1279.2 L1118.9 1277.8 L1117.8 1278.0 L1117.9 1277.2 L1116.4 1277.8 L1116.5 1279.3 L1117.8 1280.3 L1118.5 1281.8 L1119.6 1282.3 L1120.8 1282.4 L1121.5 1283.4 L1123.4 1284.9 L1121.7 1284.5 L1121.2 1285.5 L1121.8 1286.3 L1121.1 1287.1 L1120.2 1287.8 L1120.6 1286.7 L1120.2 1285.0 L1119.0 1284.1 L1117.2 1283.3 L1116.2 1282.6 L1114.9 1281.6 L1114.2 1280.4 L1113.5 1279.4 L1112.4 1279.0 L1111.0 1279.8 L1109.4 1280.8 L1107.9 1280.4 L1106.5 1280.4 L1105.9 1281.8 L1106.0 1282.4 L1104.9 1283.1 L1103.3 1283.9 L1102.1 1285.7 L1102.6 1286.6 L1101.6 1288.1 L1100.2 1289.2 L1097.4 1289.4 L1096.3 1290.1 L1095.3 1289.5 L1094.5 1288.7Z" fill="#D5D8DF" stroke="#273142" stroke-width="0.3" stroke-linejoin="round"/><path d="M1028.8 1252.1 L1025.8 1251.0 L1022.4 1249.6 L1020.1 1248.2 L1017.9 1247.3 L1014.0 1247.1 L1014.7 1245.6 L1018.6 1245.4 L1019.2 1242.2 L1017.7 1239.9 L1015.2 1237.5 L1012.4 1236.1 L1009.0 1236.9 L1006.1 1236.7 L1002.0 1235.7 L1000.4 1233.0 L1000.4 1230.4 L1002.0 1228.7 L1006.1 1228.9 L1010.2 1229.1 L1014.0 1230.7 L1017.9 1232.8 L1021.5 1234.3 L1024.9 1236.1 L1026.5 1238.3 L1028.5 1240.7 L1031.5 1242.2 L1032.8 1243.4 L1030.6 1246.0 L1028.3 1244.9 L1025.8 1244.1 L1028.1 1247.1 L1029.4 1249.6 L1028.1 1250.3Z M969.8 1236.7 L972.8 1238.3 L974.4 1239.7 L978.2 1239.5 L981.8 1238.9 L984.6 1239.1 L987.3 1237.1 L985.9 1233.8 L983.9 1230.7 L980.0 1230.0 L977.1 1230.9 L972.5 1229.8 L968.7 1231.3 L967.6 1233.4 L968.9 1235.5Z M960.8 1232.8 L963.0 1234.3 L965.7 1233.4 L967.3 1231.3 L966.9 1229.1 L964.6 1227.1 L961.4 1227.8 L959.9 1230.9Z M1014.5 1222.3 L1010.6 1223.0 L1005.6 1222.8 L1002.0 1222.3 L1000.9 1218.5 L1004.5 1216.5 L1003.4 1212.9 L999.3 1210.0 L1005.0 1207.5 L1012.9 1205.8 L1023.1 1205.5 L1029.9 1206.9 L1032.6 1208.0 L1028.8 1210.8 L1023.5 1213.4 L1019.0 1216.0 L1016.7 1219.0 L1013.3 1220.4Z M1003.1 1218.0 L997.7 1217.5 L994.1 1215.0 L996.3 1211.3 L1000.0 1212.9 L1002.0 1215.5Z M1011.8 1224.9 L1009.0 1226.9 L1002.7 1227.1 L998.6 1226.5 L998.2 1223.9 L1002.0 1222.8 L1007.2 1223.3 L1011.1 1223.7Z M969.8 1225.1 L973.7 1227.1 L978.2 1226.7 L982.3 1225.8 L981.6 1223.7 L978.2 1222.3 L973.7 1223.3 L970.3 1222.8Z M984.1 1225.6 L988.6 1226.0 L992.0 1224.6 L990.9 1222.3 L986.4 1222.8 L984.6 1223.9Z M986.4 1230.7 L989.1 1233.0 L992.0 1233.4 L992.9 1230.9 L991.8 1228.7 L988.6 1228.3 L986.6 1229.1Z M994.1 1232.2 L996.3 1232.6 L999.3 1230.9 L999.7 1228.7 L996.3 1227.8 L994.1 1229.1Z M989.5 1238.7 L991.8 1239.5 L994.1 1238.7 L993.4 1237.1 L990.7 1236.9Z M1007.2 1245.6 L1004.5 1247.8 L1005.6 1249.4 L1009.0 1248.7 L1011.1 1248.2 L1009.9 1247.1 L1008.4 1245.3Z M963.5 1223.3 L966.9 1224.2 L970.3 1221.8 L968.0 1220.4 L964.6 1221.4Z M983.9 1218.0 L988.0 1219.4 L990.7 1218.5 L988.4 1216.5 L985.0 1216.5Z" fill="#D5D8DF" stroke="#D5D8DF" stroke-width="1.2" stroke-linejoin="round"/><path d="M1035.2 1274.3 L1037.4 1274.5 L1039.2 1275.5 L1041.0 1274.9 L1042.4 1275.8 L1042.7 1274.5 L1041.7 1273.0 L1041.4 1271.9 L1039.4 1271.3 L1039.0 1269.8 L1039.5 1268.6 L1038.0 1269.2 L1037.1 1270.7 L1036.2 1272.2 L1035.3 1273.3Z M956.9 1269.8 L958.9 1270.2 L960.5 1271.0 L962.3 1272.7 L962.6 1273.5 L961.0 1273.0 L959.6 1272.2 L957.8 1271.1Z M951.7 1264.6 L953.1 1264.9 L953.7 1267.4 L952.6 1266.8Z M927.4 1259.2 L929.5 1258.5 L929.9 1259.5 L928.3 1260.3Z M1033.3 1397.2 L1036.7 1396.9 L1036.2 1398.1 L1033.7 1398.1Z M1032.4 1320.7 L1033.4 1320.6 L1033.3 1321.4 L1032.4 1321.4Z M1158.3 1346.6 L1159.5 1350.6 L1158.6 1352.8 L1158.0 1354.7 L1157.3 1357.0 L1156.4 1360.1 L1155.7 1361.8 L1153.6 1362.4 L1152.1 1360.1 L1151.5 1357.8 L1152.6 1355.6 L1152.3 1352.8 L1153.4 1351.2 L1155.0 1350.7 L1156.4 1349.3 L1157.3 1348.2Z M1095.4 1267.7 L1095.6 1266.0 L1095.4 1264.9 L1096.1 1264.1 L1095.4 1263.0 L1094.1 1262.9 L1092.9 1264.0 L1091.1 1264.6 L1091.3 1266.0 L1091.8 1267.1 L1090.7 1268.1 L1091.5 1268.7 L1093.1 1268.3 L1094.5 1267.8Z M1074.9 1245.4 L1077.0 1243.8 L1079.3 1244.9 L1082.0 1244.1 L1084.3 1243.6 L1085.9 1245.3 L1087.0 1246.4 L1085.6 1247.6 L1083.6 1248.6 L1081.3 1249.3 L1079.1 1248.7 L1076.7 1248.4 L1077.5 1247.1 L1075.2 1246.6 L1077.0 1246.0Z M1114.4 1215.5 L1117.2 1214.2 L1120.6 1214.2 L1124.0 1213.4 L1126.2 1216.0 L1123.7 1218.0 L1126.4 1218.5 L1123.5 1220.4 L1121.5 1222.3 L1119.0 1220.4 L1117.6 1218.5 L1114.9 1217.0Z M1123.5 1213.4 L1127.4 1212.6 L1132.3 1213.4 L1129.6 1215.5 L1125.8 1215.2Z M1126.7 1219.0 L1129.6 1219.0 L1128.5 1220.6 L1126.7 1220.2Z M1154.6 1212.4 L1161.4 1211.6 L1168.2 1210.8 L1172.7 1211.8 L1168.2 1213.4 L1160.2 1213.9 L1155.2 1213.4Z M1160.9 1233.8 L1162.0 1231.7 L1163.6 1229.1 L1165.4 1226.5 L1168.2 1224.6 L1171.6 1223.0 L1176.1 1221.8 L1180.2 1221.8 L1177.2 1224.2 L1172.7 1226.0 L1169.3 1228.3 L1167.7 1230.9 L1166.6 1233.8 L1167.7 1235.5 L1164.8 1235.5 L1162.9 1234.9Z M1210.8 1216.5 L1213.0 1213.4 L1215.8 1211.3 L1220.3 1215.0 L1221.4 1217.5 L1216.9 1219.0 L1213.5 1217.5Z M1257.7 1225.1 L1260.6 1223.5 L1264.5 1223.7 L1267.9 1224.6 L1272.4 1225.3 L1270.1 1226.5 L1266.7 1226.7 L1263.3 1226.7 L1260.6 1226.5Z M1260.6 1229.1 L1264.5 1228.9 L1263.3 1230.0 L1261.1 1229.8Z M1304.8 1234.5 L1307.5 1233.6 L1309.1 1234.3 L1307.1 1234.9Z M1157.3 1238.3 L1158.6 1237.9 L1158.4 1239.1 L1157.3 1239.1Z M1263.3 1264.4 L1264.5 1265.8 L1264.8 1268.0 L1264.9 1270.4 L1266.1 1272.2 L1264.5 1273.0 L1264.0 1274.8 L1265.0 1276.5 L1263.3 1276.6 L1263.3 1274.5 L1263.6 1272.5 L1263.3 1270.1 L1263.1 1268.0 L1263.1 1265.8Z M1261.1 1283.0 L1262.2 1281.8 L1263.1 1281.5 L1264.7 1282.3 L1266.1 1281.1 L1267.3 1280.5 L1266.2 1279.6 L1264.5 1278.7 L1263.3 1277.5 L1262.9 1279.3 L1262.7 1280.5 L1261.5 1280.7 L1260.9 1281.8Z M1262.7 1283.3 L1263.3 1285.5 L1262.7 1287.1 L1262.2 1288.7 L1262.0 1290.3 L1261.5 1291.3 L1260.6 1291.3 L1259.7 1291.9 L1258.4 1291.9 L1257.5 1292.3 L1256.8 1293.3 L1255.6 1293.1 L1255.6 1292.1 L1254.3 1291.9 L1252.7 1292.6 L1250.9 1292.8 L1250.8 1292.3 L1251.8 1291.7 L1252.9 1290.9 L1254.7 1290.8 L1256.3 1290.8 L1256.8 1289.7 L1257.5 1288.4 L1258.1 1289.2 L1259.5 1288.4 L1260.4 1287.4 L1261.0 1286.1 L1261.1 1284.2 L1261.5 1283.4Z M1249.8 1293.5 L1250.9 1293.0 L1251.8 1293.5 L1251.8 1294.6 L1251.3 1296.1 L1250.4 1296.5 L1250.0 1295.1 L1249.5 1294.4Z M1252.5 1293.3 L1253.1 1292.8 L1254.7 1292.5 L1255.0 1293.1 L1254.5 1293.7 L1253.1 1294.4 L1252.6 1294.1Z M1240.1 1303.7 L1240.7 1304.5 L1240.0 1306.4 L1239.3 1307.6 L1238.6 1306.6 L1238.6 1305.4 L1239.3 1304.2Z M1226.0 1309.9 L1227.3 1309.8 L1228.2 1310.4 L1227.5 1311.6 L1226.4 1311.9 L1225.6 1311.3 L1225.6 1310.6Z M1239.0 1311.7 L1240.0 1311.6 L1240.9 1311.8 L1240.9 1313.5 L1240.2 1314.8 L1240.2 1316.5 L1241.4 1316.7 L1243.0 1318.1 L1242.0 1317.6 L1240.7 1317.2 L1239.3 1317.2 L1239.1 1316.2 L1238.4 1315.8 L1238.3 1314.4 L1238.9 1313.7 L1238.9 1312.5Z M1240.7 1325.0 L1241.4 1324.0 L1242.4 1323.1 L1243.6 1323.1 L1244.7 1321.9 L1245.6 1322.9 L1245.8 1324.5 L1245.2 1325.6 L1244.7 1326.1 L1244.1 1325.6 L1243.0 1325.2 L1242.3 1324.5Z M1242.3 1318.8 L1244.1 1318.8 L1244.7 1320.2 L1244.1 1321.1 L1243.4 1321.3 L1242.5 1320.8 L1241.4 1321.5 L1240.7 1320.8 L1241.1 1319.7 L1242.0 1319.8Z M1235.2 1323.4 L1236.6 1322.2 L1237.7 1320.8 L1238.0 1319.9 L1237.3 1320.8 L1236.2 1322.2Z M1238.9 1317.6 L1240.0 1317.7 L1240.0 1318.8 L1239.3 1318.8Z M1226.0 1331.2 L1227.3 1330.9 L1228.4 1331.1 L1229.4 1329.7 L1230.7 1329.0 L1231.8 1327.8 L1233.0 1327.1 L1234.1 1325.9 L1235.0 1325.0 L1235.9 1325.9 L1237.3 1326.9 L1236.4 1327.9 L1235.9 1329.3 L1236.2 1330.6 L1237.2 1331.8 L1235.9 1332.2 L1235.5 1333.8 L1234.6 1334.7 L1234.3 1336.1 L1233.9 1337.2 L1232.3 1337.5 L1230.7 1336.6 L1228.9 1336.3 L1227.3 1334.7 L1226.2 1333.4 L1226.0 1332.4Z M1210.4 1326.5 L1211.7 1326.9 L1213.0 1327.0 L1214.2 1328.6 L1215.5 1329.7 L1216.4 1330.4 L1217.6 1330.9 L1218.9 1332.0 L1219.8 1332.9 L1220.7 1334.3 L1221.0 1335.4 L1222.3 1336.3 L1222.6 1337.9 L1222.3 1339.5 L1221.0 1339.5 L1219.6 1338.3 L1218.4 1337.4 L1217.3 1336.1 L1216.3 1334.7 L1215.3 1332.9 L1214.4 1331.1 L1213.0 1330.0 L1211.7 1328.6 L1210.5 1327.5Z M1221.6 1340.6 L1222.6 1339.7 L1223.5 1339.7 L1225.0 1340.2 L1225.7 1340.6 L1227.8 1340.3 L1228.2 1340.4 L1230.0 1340.7 L1230.9 1341.5 L1232.2 1341.8 L1232.1 1342.7 L1230.0 1342.4 L1228.2 1342.3 L1226.4 1341.8 L1225.3 1341.8 L1223.1 1341.3 L1222.1 1340.7Z M1232.8 1342.2 L1233.9 1342.3 L1235.2 1342.4 L1237.1 1342.3 L1237.3 1342.8 L1235.2 1343.1 L1233.9 1343.0 L1233.0 1342.8Z M1238.3 1342.6 L1240.0 1342.6 L1241.7 1342.2 L1241.6 1342.8 L1240.0 1343.0 L1238.4 1342.9Z M1242.5 1344.6 L1243.6 1343.6 L1245.2 1342.7 L1246.6 1342.4 L1245.9 1343.1 L1244.1 1344.2 L1243.2 1344.6Z M1237.3 1343.7 L1238.6 1343.7 L1239.3 1344.4 L1238.2 1344.5Z M1238.2 1332.0 L1239.3 1331.4 L1241.1 1331.8 L1242.4 1331.9 L1244.1 1331.1 L1243.4 1332.4 L1242.0 1332.6 L1240.0 1332.3 L1238.6 1332.9 L1238.8 1333.9 L1240.1 1334.0 L1242.2 1333.8 L1241.6 1334.7 L1240.2 1335.1 L1241.0 1336.8 L1241.8 1337.9 L1241.1 1338.3 L1240.2 1337.7 L1239.6 1336.3 L1238.9 1336.3 L1238.9 1338.1 L1238.9 1339.1 L1237.9 1339.1 L1237.9 1336.9 L1237.1 1336.1 L1237.6 1334.4 L1238.2 1333.1Z M1247.0 1330.4 L1248.2 1331.3 L1247.9 1332.4 L1247.5 1333.8 L1247.0 1332.2 L1246.8 1331.3Z M1247.5 1336.3 L1249.3 1336.1 L1250.7 1336.5 L1250.2 1337.2 L1248.4 1336.9Z M1250.9 1333.8 L1252.6 1333.4 L1254.3 1333.8 L1254.5 1335.4 L1255.4 1336.6 L1257.0 1335.4 L1258.2 1334.7 L1260.4 1335.4 L1262.2 1335.8 L1264.5 1336.8 L1266.2 1337.2 L1267.7 1338.3 L1269.0 1339.5 L1269.9 1340.4 L1269.2 1341.1 L1270.6 1342.4 L1271.7 1343.6 L1273.1 1344.7 L1271.3 1344.6 L1269.9 1344.3 L1268.6 1343.0 L1266.7 1341.8 L1265.2 1342.2 L1264.5 1343.2 L1262.9 1343.4 L1261.5 1342.2 L1259.9 1342.1 L1258.8 1342.3 L1259.6 1340.8 L1259.0 1339.3 L1257.2 1338.3 L1255.9 1337.9 L1253.8 1337.4 L1252.9 1336.8 L1252.0 1336.1 L1253.6 1335.6 L1252.5 1335.2 L1250.9 1334.5Z M1270.6 1339.3 L1272.4 1339.0 L1274.0 1338.6 L1274.9 1337.7 L1274.9 1338.6 L1273.3 1339.7 L1271.7 1339.9Z M1273.3 1335.8 L1274.7 1336.8 L1275.8 1338.1 L1275.4 1337.7 L1274.0 1336.3Z M1279.7 1340.6 L1281.9 1341.5 L1284.2 1343.4 L1283.5 1343.8 L1281.0 1342.2Z M1284.4 1342.4 L1285.3 1343.8 L1286.0 1345.0 L1284.9 1344.0Z M1288.3 1356.1 L1290.1 1357.3 L1291.7 1358.7 L1290.5 1358.5 L1288.7 1357.0Z M1291.2 1349.8 L1291.9 1351.0 L1292.1 1351.9 L1291.5 1350.7Z M1303.5 1352.8 L1304.8 1353.0 L1304.6 1353.7 L1303.5 1353.6Z M1193.1 1321.9 L1194.0 1322.7 L1194.6 1323.4 L1195.1 1324.7 L1194.7 1325.8 L1193.7 1326.1 L1193.0 1325.2 L1192.9 1323.6Z M1298.1 1373.5 L1298.9 1374.2 L1300.0 1374.6 L1300.5 1375.9 L1301.4 1376.6 L1301.9 1377.6 L1303.2 1378.1 L1304.7 1377.7 L1304.1 1379.2 L1303.2 1380.0 L1302.9 1381.1 L1302.1 1382.4 L1301.0 1382.9 L1300.5 1382.5 L1301.0 1381.1 L1300.3 1380.3 L1299.4 1379.9 L1300.3 1378.9 L1300.5 1377.6 L1300.1 1376.3 L1298.7 1374.5Z M1298.1 1381.5 L1298.9 1382.4 L1300.0 1383.1 L1299.4 1384.0 L1298.5 1385.1 L1298.3 1386.1 L1296.7 1386.8 L1296.2 1388.2 L1295.9 1388.9 L1294.9 1389.7 L1293.3 1389.9 L1292.1 1389.3 L1291.2 1388.8 L1291.9 1387.6 L1293.0 1386.5 L1294.6 1385.7 L1296.0 1384.7 L1296.7 1383.2 L1297.6 1381.9Z M1006.2 1307.7 L1007.2 1306.6 L1008.9 1306.3 L1010.6 1306.3 L1012.2 1306.9 L1014.0 1307.3 L1015.6 1308.3 L1017.0 1309.0 L1018.3 1309.7 L1016.7 1310.1 L1014.6 1310.1 L1014.3 1309.2 L1013.1 1308.2 L1011.3 1307.7 L1009.7 1307.2 L1008.4 1307.6 L1007.2 1307.8Z M1018.1 1311.7 L1019.2 1310.2 L1021.3 1310.1 L1023.1 1310.3 L1024.9 1311.6 L1023.5 1311.8 L1022.4 1312.0 L1021.2 1312.6 L1020.1 1312.0Z M1013.6 1311.8 L1015.2 1311.7 L1016.1 1312.3 L1014.9 1312.5 L1013.7 1312.2Z M1026.3 1311.7 L1028.0 1311.8 L1027.8 1312.3 L1026.3 1312.3Z M1013.6 1302.0 L1014.7 1302.0 L1014.9 1302.8 L1014.0 1302.5Z M1013.8 1304.0 L1014.5 1304.2 L1014.5 1305.2 L1013.8 1304.7Z M1116.6 1287.7 L1117.8 1287.4 L1120.1 1287.4 L1119.6 1289.0 L1119.4 1289.4 L1117.8 1288.7 L1116.6 1288.2Z M1111.7 1283.7 L1113.0 1283.4 L1113.4 1284.2 L1113.3 1286.1 L1112.4 1286.5 L1111.9 1285.8 L1111.9 1284.5Z M1112.2 1281.8 L1113.1 1280.9 L1113.2 1282.3 L1112.8 1283.1 L1112.3 1282.6Z M1129.1 1290.9 L1130.3 1290.9 L1132.2 1291.3 L1130.8 1291.7 L1129.2 1291.3Z M1139.0 1291.6 L1139.8 1291.0 L1141.5 1290.8 L1140.7 1291.7 L1139.8 1292.1Z M1105.1 1285.5 L1106.0 1285.1 L1106.2 1285.8 L1105.5 1285.9Z M1123.0 1259.7 L1124.0 1258.7 L1123.7 1259.8Z M1115.1 1262.2 L1116.5 1261.8 L1116.6 1263.0 L1115.6 1263.4Z M1128.7 1286.5 L1130.1 1287.4 L1129.6 1287.5Z M1162.9 1318.5 L1164.1 1318.5 L1163.6 1318.9Z M1146.8 1339.5 L1147.2 1339.9 L1147.0 1340.2Z M1151.5 1346.1 L1151.7 1346.4 L1151.4 1346.4Z M1165.1 1356.9 L1165.7 1357.2 L1165.3 1357.5Z M1167.5 1356.0 L1167.9 1356.2 L1167.6 1356.5Z M1180.4 1393.3 L1182.2 1393.6 L1181.3 1394.2Z M1083.4 1299.8 L1084.1 1299.7 L1083.7 1300.2Z M1269.0 1278.5 L1270.8 1277.6 L1269.9 1277.9Z M1277.6 1271.9 L1279.2 1270.1 L1278.5 1270.7Z M1269.0 1225.6 L1273.1 1225.6 L1271.3 1226.5Z" fill="#D5D8DF" stroke="#D5D8DF" stroke-width="0.45" stroke-linejoin="round"/><path d="M1155.7 1277.6 L1157.3 1276.5 L1159.1 1275.6 L1160.9 1275.6 L1162.5 1275.9 L1162.5 1277.9 L1160.7 1278.7 L1159.4 1279.2 L1160.7 1280.4 L1161.9 1281.6 L1162.3 1283.4 L1163.4 1284.2 L1162.5 1286.1 L1163.5 1288.7 L1161.8 1289.2 L1159.5 1288.6 L1158.0 1287.1 L1158.5 1284.6 L1157.5 1282.6 L1156.4 1280.9 L1155.7 1279.0Z" fill="#273142"/><path d="M1021.6 1319.5 L1020.3 1321.5 L1020.5 1323.8 L1022.5 1325.0 L1025.9 1325.9 L1026.3 1329.7 L1026.6 1331.5 M1026.6 1331.5 L1023.3 1331.7 L1023.7 1333.5 L1023.1 1337.7 M1023.1 1337.7 L1020.3 1335.6 L1018.0 1333.5 L1016.9 1332.9 L1015.2 1332.6 L1013.0 1331.3 M1016.9 1332.9 L1017.1 1334.0 L1014.3 1336.3 L1012.9 1338.6 L1011.4 1336.8 M1023.1 1337.7 L1019.7 1338.6 L1018.8 1341.2 L1019.9 1343.7 L1022.4 1343.7 L1022.4 1345.4 L1023.7 1345.4 M1023.7 1345.4 L1024.5 1347.1 L1024.2 1350.0 L1023.7 1352.7 L1022.6 1353.9 M1023.7 1345.4 L1028.3 1344.0 L1028.8 1346.6 L1031.6 1348.3 L1034.1 1348.6 L1034.2 1351.4 L1036.3 1351.5 L1037.3 1353.5 L1036.7 1355.6 M1023.7 1352.9 L1024.8 1355.3 L1025.4 1357.6 L1026.3 1359.2 M1026.3 1359.2 L1028.8 1358.4 L1031.5 1358.5 L1032.4 1355.4 L1035.6 1355.0 L1036.7 1355.6 M1036.7 1355.6 L1036.9 1358.2 L1039.2 1358.6 L1039.6 1360.6 L1040.9 1360.6 L1040.5 1362.5 M1031.5 1358.5 L1034.4 1360.6 L1037.1 1362.4 L1036.1 1364.5 L1039.0 1364.6 L1040.5 1362.5 M1040.5 1362.5 L1041.4 1364.2 L1039.2 1365.8 L1037.1 1368.2 M1037.1 1368.2 L1039.5 1369.2 L1041.9 1372.6 M1037.1 1368.2 L1036.5 1371.1 L1036.2 1373.0 M1026.3 1359.2 L1024.9 1361.2 L1024.8 1364.2 L1023.3 1367.9 L1022.8 1371.7 L1022.6 1375.5 L1022.0 1378.8 L1021.1 1383.5 L1021.3 1387.6 L1020.5 1391.9 L1019.5 1394.8 L1020.5 1397.4 L1024.2 1398.1 L1024.8 1398.4 M1024.7 1398.9 L1024.7 1402.3 M1026.6 1331.5 L1028.2 1332.0 L1029.9 1331.1 L1030.6 1330.4 L1029.3 1328.3 L1031.2 1328.6 L1033.6 1327.0 M1033.6 1327.0 L1032.8 1326.2 L1033.6 1324.4 L1034.4 1323.4 M1033.6 1327.0 L1034.6 1327.9 L1034.9 1330.9 L1035.8 1331.5 L1037.8 1330.7 M1037.8 1330.7 L1037.5 1329.0 L1036.7 1327.7 L1037.6 1326.2 M1037.8 1330.7 L1039.0 1330.6 L1040.7 1330.3 L1042.6 1330.4 L1043.8 1328.3 M1040.7 1330.3 L1041.0 1328.4 L1041.2 1326.4 M997.9 1316.4 L998.2 1314.6 L999.3 1314.5 L999.9 1312.5 L1001.3 1312.5 L1002.4 1311.8 M1001.3 1312.5 L1001.3 1314.7 L1001.8 1314.7 M1001.3 1314.7 L1001.2 1316.5 L1000.3 1317.2 M1001.2 1316.5 L1002.7 1317.0 L1003.0 1317.7 M1003.5 1318.1 L1005.0 1316.9 L1006.7 1316.1 L1008.1 1315.8 M1005.3 1320.3 L1006.4 1320.4 L1007.6 1320.5 M1008.5 1323.7 L1008.5 1322.1 M1021.2 1310.3 L1021.1 1311.6 L1021.2 1312.5 M1099.9 1291.4 L1100.4 1294.7 L1098.5 1296.0 L1096.2 1298.1 L1092.6 1299.5 L1092.6 1301.2 M1092.6 1300.7 L1087.7 1300.7 M1092.6 1301.2 L1092.6 1302.8 L1088.8 1302.8 L1088.8 1305.9 L1087.7 1306.4 L1087.7 1308.4 L1083.2 1308.4 M1092.6 1301.2 L1097.0 1304.0 L1103.8 1308.6 L1106.0 1310.2 L1107.2 1311.0 M1097.0 1304.0 L1095.1 1304.0 L1096.2 1314.0 L1096.2 1315.2 L1091.9 1315.2 L1089.4 1315.1 L1088.6 1316.0 M1088.6 1316.0 L1087.1 1314.5 L1086.0 1313.9 L1083.7 1314.5 M1088.6 1316.0 L1089.5 1318.8 L1086.9 1318.5 L1083.5 1318.8 M1083.4 1317.4 L1085.4 1317.2 L1086.8 1317.6 L1085.2 1317.9 L1083.4 1318.0 M1086.9 1318.5 L1086.9 1319.6 L1085.4 1320.4 M1089.5 1318.8 L1091.9 1318.9 L1093.1 1320.4 L1093.4 1321.3 M1087.3 1322.6 L1089.7 1321.5 L1090.7 1323.2 M1090.7 1323.2 L1089.4 1325.1 M1090.7 1323.2 L1091.8 1324.5 L1092.8 1324.3 M1092.8 1324.3 L1093.9 1327.9 M1092.8 1324.3 L1093.4 1321.3 M1093.4 1321.3 L1095.6 1321.3 L1096.2 1321.1 L1096.4 1319.5 L1097.4 1318.4 L1099.0 1317.3 L1100.2 1316.7 L1101.6 1315.8 L1102.6 1315.8 L1103.9 1315.4 L1106.4 1315.3 L1107.2 1313.7 L1107.2 1311.0 M1096.2 1321.1 L1099.2 1322.1 L1099.1 1320.4 L1101.9 1320.4 L1103.4 1320.4 L1105.0 1319.0 L1104.8 1318.4 L1103.6 1317.6 L1102.6 1315.8 M1099.2 1322.1 L1099.4 1324.0 L1098.9 1327.1 M1103.4 1320.4 L1103.0 1323.2 L1103.1 1325.2 L1103.8 1326.0 M1103.4 1320.4 L1104.2 1322.7 L1104.2 1325.9 M1105.0 1319.0 L1106.5 1319.6 L1105.6 1322.7 L1105.5 1325.6 M1106.5 1319.6 L1107.0 1317.5 L1110.4 1318.1 L1112.6 1318.3 L1114.9 1317.6 L1117.7 1317.3 L1118.3 1318.0 M1107.2 1311.0 L1109.0 1310.5 L1110.9 1308.9 L1116.0 1305.8 M1116.0 1305.8 L1118.5 1306.9 L1119.4 1306.4 M1119.4 1306.4 L1120.1 1309.9 L1120.0 1313.6 L1117.7 1316.4 L1117.7 1317.3 M1112.2 1289.1 L1111.7 1292.1 L1110.9 1293.0 L1112.6 1295.2 L1113.2 1297.5 M1113.2 1297.5 L1114.0 1296.0 L1115.5 1294.7 L1115.5 1293.9 M1113.2 1297.5 L1113.6 1301.5 L1113.1 1302.5 L1113.8 1304.6 L1116.0 1305.8 M1130.8 1295.9 L1130.8 1307.6 M1119.4 1306.4 L1129.6 1310.5 L1129.6 1309.9 L1130.8 1309.9 L1130.8 1307.6 M1130.8 1307.6 L1138.0 1307.6 L1144.2 1307.6 M1129.6 1310.5 L1129.6 1315.0 L1128.4 1315.1 L1127.4 1318.4 L1128.4 1320.5 M1128.4 1320.5 L1127.0 1320.8 L1124.0 1322.7 L1121.7 1324.3 L1120.0 1324.4 M1120.0 1324.4 L1119.6 1323.2 L1118.2 1321.6 L1119.4 1320.6 L1119.0 1319.0 L1118.3 1318.0 M1118.3 1318.0 L1117.4 1321.4 L1115.8 1325.0 L1114.3 1325.1 L1113.5 1325.6 L1112.2 1327.5 M1120.0 1324.4 L1118.9 1326.1 L1119.1 1327.7 L1120.7 1330.4 L1120.3 1331.0 L1118.9 1330.4 L1117.5 1330.4 L1115.2 1330.4 L1113.5 1330.3 M1115.2 1330.4 L1115.2 1331.8 L1113.3 1331.8 M1117.5 1330.4 L1118.9 1331.3 L1118.7 1333.5 L1118.9 1335.2 L1116.6 1335.7 L1115.7 1336.5 L1115.0 1337.3 M1120.7 1330.4 L1123.5 1328.9 L1123.4 1327.8 L1124.5 1327.1 L1127.8 1328.3 L1130.2 1327.1 L1133.5 1327.1 M1128.4 1320.5 L1129.3 1323.0 L1131.0 1324.5 L1133.5 1327.1 M1129.3 1323.0 L1130.2 1322.9 L1131.9 1321.3 L1134.7 1322.2 L1137.3 1321.9 L1139.1 1319.6 L1140.0 1319.0 L1140.0 1320.7 L1141.0 1322.1 M1141.0 1322.1 L1141.3 1320.8 L1142.1 1319.5 L1143.4 1318.4 L1143.8 1316.6 L1144.4 1313.5 L1146.2 1312.3 M1143.8 1316.6 L1145.5 1316.1 L1147.8 1316.4 L1150.5 1318.7 L1149.8 1320.4 L1151.0 1320.4 L1151.2 1322.1 L1153.4 1322.8 L1156.8 1323.8 L1153.4 1327.2 L1150.0 1328.3 L1148.9 1328.5 M1150.5 1318.7 L1151.4 1318.7 M1148.9 1328.5 L1147.5 1328.5 L1145.5 1328.8 L1143.2 1327.9 L1142.1 1327.2 L1141.0 1325.0 L1139.8 1324.0 L1141.0 1322.1 M1148.9 1328.5 L1148.9 1333.9 L1149.5 1334.8 M1142.1 1327.2 L1141.0 1328.1 L1141.4 1328.7 L1142.1 1330.9 L1141.0 1332.9 L1140.8 1334.0 M1141.0 1328.1 L1137.6 1328.7 L1137.3 1328.9 L1135.9 1327.8 L1133.5 1327.1 M1140.8 1334.0 L1145.0 1336.3 L1146.8 1338.2 M1137.3 1328.9 L1137.8 1330.4 L1136.1 1332.0 L1136.0 1334.5 L1135.3 1336.0 L1135.7 1337.9 L1136.0 1340.3 L1137.2 1342.2 M1136.0 1334.5 L1137.0 1334.0 L1140.8 1334.0 M1137.0 1334.0 L1137.3 1335.6 L1137.0 1336.8 L1135.7 1337.9 M1135.3 1336.0 L1137.3 1335.6 M1137.2 1342.2 L1139.7 1343.6 L1141.0 1343.7 L1141.6 1346.0 L1144.9 1346.2 L1148.2 1344.8 M1139.7 1343.6 L1140.0 1347.1 L1139.5 1348.4 L1140.0 1348.9 M1141.6 1346.0 L1141.4 1346.8 L1143.1 1349.9 L1142.4 1352.5 L1141.3 1351.4 L1141.4 1349.3 L1140.0 1348.9 M1137.2 1342.2 L1135.2 1342.6 L1134.6 1343.5 L1134.8 1346.6 L1136.2 1346.8 L1136.2 1348.2 L1134.6 1347.1 L1133.2 1346.1 L1131.2 1345.6 L1130.1 1345.9 L1129.6 1345.3 M1116.2 1339.6 L1117.3 1339.6 L1121.2 1339.6 L1121.7 1341.2 L1124.4 1341.5 L1124.5 1340.8 L1127.1 1341.2 L1127.1 1343.7 L1127.7 1345.6 L1129.6 1345.3 M1129.6 1345.3 L1129.6 1347.7 L1127.4 1347.7 L1127.4 1351.4 L1128.9 1353.0 M1115.8 1352.6 L1118.3 1352.8 L1123.3 1352.8 L1126.7 1353.5 L1128.9 1353.0 L1131.1 1353.3 M1131.1 1353.3 L1133.0 1353.4 L1135.2 1351.1 L1136.9 1350.7 M1136.9 1350.7 L1136.6 1349.8 L1140.0 1348.9 M1136.9 1350.7 L1139.7 1352.0 L1139.7 1354.7 L1139.5 1356.6 L1137.9 1358.7 M1131.1 1353.3 L1132.1 1355.3 L1133.8 1356.5 L1135.7 1358.5 L1137.9 1358.7 M1131.1 1353.3 L1130.1 1353.5 L1126.2 1353.9 L1126.2 1358.2 L1125.1 1358.2 L1125.1 1361.6 M1125.1 1361.6 L1126.0 1364.0 L1128.1 1362.2 L1131.4 1362.5 L1132.9 1360.3 L1135.7 1358.5 M1125.1 1361.6 L1125.1 1366.0 L1122.1 1366.3 L1121.1 1366.2 M1137.9 1358.7 L1138.7 1361.2 L1138.6 1362.8 L1138.8 1364.0 L1139.7 1364.1 M1138.6 1362.8 L1137.6 1363.0 L1137.3 1364.2 L1138.8 1364.0 M1133.0 1367.4 L1134.8 1366.2 L1135.7 1367.3 L1134.5 1368.7 L1133.4 1368.3 L1133.0 1367.4 M1123.5 1328.9 L1122.8 1330.6 L1122.6 1333.5 L1120.8 1335.4 L1120.6 1336.9 L1118.9 1338.5 L1117.3 1338.1 L1116.4 1339.4 M1092.4 1282.4 L1094.9 1282.4 L1094.6 1285.0 L1094.0 1288.7 M1100.4 1280.4 L1103.2 1281.4 L1106.0 1281.8 M1105.3 1269.3 L1107.2 1271.0 L1109.0 1271.7 L1111.7 1272.5 L1111.0 1274.5 L1109.3 1276.5 L1110.4 1276.9 L1110.0 1278.0 L1111.1 1279.4 L1110.9 1279.8 M1106.3 1268.9 L1109.0 1269.2 L1109.2 1269.8 L1110.0 1268.1 L1110.6 1266.2 M1109.2 1269.8 L1109.4 1271.0 L1109.0 1271.7 M1112.2 1263.5 L1113.6 1263.7 M1118.5 1265.1 L1119.1 1267.8 L1119.4 1269.5 L1116.2 1270.5 L1118.1 1272.7 L1116.9 1274.3 L1114.3 1274.6 L1113.3 1274.6 L1111.0 1274.5 M1110.4 1276.9 L1112.6 1276.8 L1114.3 1275.5 L1113.3 1274.6 M1114.3 1275.5 L1116.5 1275.8 L1117.9 1276.1 L1120.7 1275.6 L1121.8 1273.9 M1118.1 1272.7 L1119.4 1272.5 L1121.6 1273.0 L1121.8 1273.9 M1117.9 1276.1 L1117.9 1277.3 M1119.4 1269.5 L1121.3 1270.7 L1123.7 1271.7 L1127.9 1272.3 M1121.6 1273.0 L1123.7 1271.7 M1127.9 1272.3 L1129.6 1270.1 L1129.2 1268.7 L1128.7 1267.5 L1129.5 1265.1 L1129.1 1264.9 L1128.3 1264.3 L1124.9 1264.3 M1129.1 1264.9 L1131.7 1263.5 L1132.6 1262.2 L1134.4 1261.4 M1128.3 1264.3 L1128.1 1263.2 L1126.4 1262.9 M1126.2 1261.6 L1130.6 1261.1 L1132.6 1262.2 M1130.0 1258.7 L1133.5 1259.3 L1133.5 1256.2 L1134.4 1256.2 M1133.5 1259.3 L1134.4 1261.4 L1137.4 1262.4 L1139.5 1265.8 L1138.0 1266.2 L1138.5 1267.8 M1129.2 1268.7 L1133.6 1268.6 L1137.1 1269.0 L1138.5 1267.8 L1141.4 1268.3 L1142.8 1270.4 L1145.5 1271.1 L1147.9 1271.6 L1147.4 1274.2 L1145.7 1275.2 M1127.9 1272.3 L1127.6 1273.3 L1128.4 1273.9 L1130.6 1274.3 L1132.6 1273.5 L1134.4 1277.5 L1136.1 1277.8 M1132.6 1273.5 L1135.4 1274.0 L1136.5 1276.2 L1134.4 1277.5 M1121.8 1273.9 L1123.7 1274.2 L1127.6 1273.3 L1126.4 1276.2 L1125.4 1276.6 L1123.8 1276.9 L1121.2 1276.1 L1120.7 1275.6 M1125.4 1276.6 L1126.8 1278.5 L1128.1 1279.3 L1130.8 1280.0 L1133.0 1279.4 L1134.8 1280.0 M1128.1 1279.3 L1127.8 1281.9 L1128.5 1283.3 L1130.2 1283.1 L1132.2 1282.7 L1132.6 1283.3 L1132.0 1283.9 M1132.2 1282.7 L1134.2 1282.3 M1117.9 1277.5 L1119.8 1277.5 L1120.3 1277.9 L1120.6 1279.3 L1122.4 1280.9 L1123.4 1281.6 M1120.3 1277.9 L1124.0 1278.3 L1124.4 1280.3 L1123.4 1281.5 M1123.8 1276.9 L1124.0 1278.3 M1124.0 1278.3 L1125.4 1276.6 M1124.4 1280.3 L1125.7 1282.0 L1127.8 1281.9 M1124.4 1282.4 L1125.7 1282.0 L1125.9 1283.7 L1126.2 1283.9 L1125.3 1285.4 M1126.2 1283.9 L1128.5 1283.3 M1115.0 1256.9 L1116.2 1253.5 L1116.2 1250.0 L1118.9 1244.5 L1121.1 1240.7 L1125.7 1238.7 M1129.8 1244.9 L1129.2 1241.7 L1125.7 1238.7 L1131.5 1238.7 L1131.9 1236.7 L1135.2 1238.3 L1137.3 1237.1 M1135.2 1238.3 L1134.7 1240.1 L1136.4 1241.3 L1135.3 1242.8 L1136.5 1245.1 L1136.1 1247.8 L1138.1 1250.2 L1133.9 1254.3 M1143.4 1290.3 L1144.0 1289.2 L1146.3 1289.4 L1150.5 1288.8 L1153.2 1288.7 L1152.5 1285.8 L1153.2 1285.4 L1151.9 1283.5 L1150.9 1282.9 L1149.5 1283.0 M1147.8 1280.4 L1150.6 1280.7 L1152.3 1281.5 L1155.0 1282.4 L1156.6 1283.4 L1157.5 1282.6 M1155.0 1282.4 L1155.1 1283.5 L1153.4 1283.3 L1151.9 1283.5 M1153.4 1283.3 L1155.1 1285.7 L1155.1 1286.5 M1153.2 1285.4 L1155.1 1286.5 L1156.8 1285.4 L1157.8 1287.1 M1143.2 1292.1 L1143.9 1292.6 L1143.0 1293.6 L1142.8 1294.5 L1142.7 1296.0 L1142.1 1298.4 M1143.0 1293.6 L1144.1 1295.0 L1146.4 1293.6 L1148.9 1292.3 L1149.1 1289.6 L1150.5 1288.8 M1146.4 1293.6 L1146.8 1295.1 M1141.2 1296.2 L1142.0 1298.5 M1153.2 1288.7 L1153.9 1290.3 L1154.9 1290.5 L1153.9 1292.8 L1154.8 1293.9 L1156.7 1295.6 L1156.5 1296.7 L1157.5 1297.9 M1155.1 1299.0 L1155.7 1297.7 L1156.8 1297.9 M1161.4 1311.1 L1162.6 1313.9 M1165.0 1306.7 L1165.7 1304.9 L1166.3 1304.1 M1160.9 1304.9 L1162.0 1306.5 M1163.5 1288.6 L1165.9 1287.5 L1168.6 1288.2 L1171.8 1289.5 L1171.0 1292.8 L1171.3 1296.0 L1172.5 1296.1 L1171.4 1298.1 L1173.6 1301.3 L1174.0 1302.0 L1172.2 1303.7 M1161.9 1282.6 L1164.4 1282.3 L1165.9 1283.3 L1167.0 1283.3 L1168.8 1281.2 L1170.4 1282.0 L1172.6 1283.5 L1175.5 1286.5 L1177.8 1288.4 M1171.8 1289.5 L1173.5 1291.2 L1175.5 1289.9 L1177.8 1288.4 M1165.9 1283.3 L1165.9 1278.2 L1168.8 1277.3 L1171.6 1279.0 L1176.0 1280.0 L1177.3 1280.9 L1177.2 1282.3 L1179.5 1283.7 L1182.8 1281.9 L1185.7 1281.8 L1187.1 1280.7 L1192.0 1281.2 L1193.3 1282.3 M1158.2 1276.2 L1155.1 1273.3 L1156.0 1270.5 L1160.0 1268.3 L1163.1 1269.5 L1164.8 1270.1 L1168.9 1269.5 L1172.0 1269.8 L1170.4 1268.0 L1171.8 1265.1 L1176.0 1264.3 L1180.6 1262.7 L1182.9 1264.8 L1185.6 1265.1 L1189.5 1264.3 L1190.7 1266.0 L1193.1 1269.8 L1196.9 1269.5 L1199.1 1271.6 L1201.4 1272.2 M1177.8 1288.4 L1179.5 1289.0 L1179.3 1285.5 L1182.3 1285.0 L1182.8 1281.9 M1179.5 1289.0 L1181.8 1288.2 L1183.5 1289.4 L1187.3 1288.7 M1182.3 1285.0 L1185.9 1285.8 M1171.4 1298.1 L1177.6 1298.0 L1181.0 1295.5 L1181.2 1293.5 L1182.9 1292.7 L1183.6 1289.7 L1187.3 1288.7 M1179.7 1305.5 L1182.1 1304.8 L1182.9 1300.9 L1185.6 1298.0 L1186.9 1296.6 L1186.6 1294.4 L1188.6 1291.9 L1190.6 1290.9 M1193.2 1299.3 L1196.8 1301.1 L1199.8 1302.0 L1202.3 1302.3 L1202.3 1300.5 M1193.2 1299.3 L1194.4 1297.6 M1203.2 1301.2 L1203.3 1301.8 L1206.7 1301.7 L1206.7 1300.6 M1202.3 1302.3 L1203.2 1303.6 L1202.3 1304.6 L1203.3 1306.1 L1203.3 1307.8 M1203.2 1302.8 L1204.2 1303.6 L1207.1 1304.0 L1205.8 1305.5 L1207.0 1306.4 L1207.0 1309.1 M1207.0 1307.6 L1208.0 1306.4 L1209.7 1303.5 L1212.4 1300.7 L1212.9 1300.0 M1217.1 1308.5 L1215.9 1309.5 L1213.5 1310.3 L1212.8 1311.7 L1214.3 1314.3 L1213.7 1315.7 L1214.8 1318.4 L1215.3 1319.5 L1214.3 1321.3 M1215.9 1309.5 L1216.3 1310.5 L1217.1 1310.5 L1216.9 1312.4 L1218.1 1312.0 L1220.3 1311.9 L1221.1 1313.0 L1221.2 1314.1 L1222.1 1315.3 L1221.6 1316.6 M1221.6 1316.6 L1219.2 1316.7 L1218.5 1317.4 L1219.0 1319.6 M1221.6 1316.6 L1224.3 1316.1 M1218.1 1307.1 L1219.2 1308.8 L1220.9 1309.5 L1220.3 1310.6 L1221.6 1311.5 L1223.2 1313.5 L1224.4 1315.5 L1224.3 1316.1 L1224.3 1318.7 L1222.4 1319.6 L1222.3 1320.4 L1220.7 1321.1 M1215.9 1325.5 L1217.0 1326.4 L1218.1 1325.9 M1226.6 1330.6 L1227.7 1331.9 L1229.4 1331.2 L1232.2 1331.2 L1233.7 1328.1 L1235.7 1328.1 M1262.2 1335.8 L1262.2 1343.2 M1243.1 1343.6 L1244.1 1343.4 L1244.3 1344.2 M1201.9 1272.2 L1207.0 1269.8 L1212.7 1271.3 L1213.8 1268.1 L1218.2 1269.0 L1218.4 1270.1 L1223.2 1270.5 L1225.4 1272.0 L1230.5 1271.6 L1232.6 1270.7 L1234.7 1271.3 M1246.0 1287.9 L1247.9 1286.9" fill="none" stroke="#273142" stroke-width="0.38" stroke-linejoin="round" stroke-linecap="round"/><path d="M961.1 1273.3 L963.0 1273.6 L963.5 1274.8 L963.7 1273.3 L962.9 1272.5 L969.8 1272.5 L977.8 1272.5 L986.8 1272.5 L994.5 1272.5 L995.2 1272.9 L998.2 1273.6 L1000.9 1273.9 L1002.2 1273.5 L1004.5 1274.3 L1006.3 1275.5 L1006.7 1276.1 L1007.7 1276.6 L1008.8 1277.6 L1009.3 1279.6 L1009.0 1280.9 L1008.4 1282.0 L1009.0 1282.7 L1010.4 1282.0 L1012.9 1281.2 L1012.9 1280.5 L1012.7 1280.3 L1014.7 1280.1 L1015.8 1279.4 L1017.4 1278.3 L1017.8 1278.2 L1019.7 1278.2 L1021.4 1278.2 L1022.8 1276.8 L1024.0 1274.8 L1025.6 1275.2 L1025.6 1277.2 L1026.4 1278.5 L1024.7 1279.2 L1023.0 1280.0 L1022.3 1281.4 L1023.1 1282.6 L1021.7 1283.0 L1020.1 1283.4 L1018.7 1284.1 L1018.4 1285.3 L1017.2 1286.6 L1016.5 1288.6 L1015.8 1289.0 L1016.7 1291.2 L1015.4 1292.1 L1014.0 1293.0 L1012.7 1294.0 L1010.9 1295.4 L1010.1 1297.1 L1010.6 1298.9 L1011.3 1300.6 L1011.8 1302.3 L1011.3 1303.7 L1010.4 1303.6 L1009.6 1302.3 L1008.6 1300.6 L1008.7 1299.1 L1007.2 1297.9 L1005.5 1298.1 L1003.4 1297.4 L1001.6 1297.5 L1001.1 1298.9 L999.3 1298.7 L996.1 1298.2 L994.8 1298.9 L992.7 1300.3 L992.0 1301.8 L992.3 1302.9 L991.1 1302.6 L990.0 1302.0 L989.5 1300.8 L988.4 1299.6 L987.5 1298.1 L986.1 1298.2 L985.5 1299.1 L984.0 1298.2 L983.4 1297.0 L981.7 1295.6 L979.8 1295.6 L979.8 1296.2 L976.6 1296.2 L974.4 1295.4 L972.3 1294.7 L969.7 1294.7 L968.2 1292.8 L965.7 1292.2 L964.3 1289.5 L963.6 1287.9 L962.1 1285.7 L961.6 1284.5 L961.7 1282.3 L961.8 1278.9 L961.9 1276.5Z M911.9 1245.3 L914.0 1244.1 L916.8 1243.4 L919.1 1244.1 L917.4 1242.4 L913.6 1240.1 L917.1 1237.7 L921.1 1235.7 L924.9 1234.0 L930.2 1235.1 L934.7 1235.9 L939.2 1236.7 L942.6 1237.5 L942.6 1246.4 L942.6 1254.7 L944.7 1255.0 L946.5 1256.5 L947.8 1255.9 L949.2 1255.7 L950.6 1257.2 L951.5 1259.2 L953.1 1260.8 L954.9 1261.8 L955.1 1263.4 L954.9 1263.8 L953.7 1262.4 L952.1 1260.8 L950.8 1259.2 L949.0 1257.9 L946.5 1257.0 L944.1 1255.4 L941.5 1255.2 L938.7 1254.8 L936.7 1253.5 L934.2 1254.8 L932.4 1256.2 L930.4 1256.5 L930.8 1254.0 L932.4 1253.1 L929.7 1254.3 L928.5 1256.4 L927.4 1257.7 L925.2 1259.7 L922.8 1261.3 L920.0 1263.0 L917.5 1263.8 L915.9 1264.1 L918.1 1262.4 L920.4 1261.4 L922.8 1259.2 L924.2 1257.2 L922.2 1257.5 L919.1 1257.2 L918.8 1255.2 L916.0 1254.3 L914.9 1252.6 L914.3 1251.4 L915.7 1250.0 L919.4 1249.1 L920.2 1247.1 L918.3 1247.3 L915.4 1247.5 L913.4 1246.0Z M1315.9 1249.3 L1318.9 1249.6 L1319.1 1248.9 L1317.1 1248.6Z M912.9 1254.8 L914.5 1255.2 L914.3 1254.5Z M913.4 1265.5 L914.7 1264.9 L914.3 1264.6 L912.7 1265.2Z M925.6 1309.7 L926.8 1310.2 L926.3 1311.1 L925.6 1310.6Z M923.1 1308.0 L923.7 1308.3 L923.4 1308.5Z M1096.0 1270.8 L1097.4 1270.5 L1098.6 1270.4 L1100.4 1269.9 L1102.4 1269.8 L1103.9 1269.2 L1103.1 1268.7 L1104.2 1268.0 L1104.3 1266.9 L1102.9 1266.5 L1102.6 1265.5 L1102.2 1264.6 L1100.8 1263.4 L1100.2 1261.9 L1098.8 1261.8 L1099.5 1260.8 L1100.2 1259.2 L1098.3 1259.0 L1097.9 1259.2 L1098.9 1257.5 L1096.8 1257.5 L1096.3 1258.9 L1095.8 1259.8 L1096.1 1261.3 L1096.5 1262.4 L1097.0 1263.0 L1096.8 1263.7 L1098.3 1263.5 L1098.8 1264.6 L1099.0 1265.5 L1098.8 1266.0 L1097.3 1266.0 L1097.8 1267.1 L1097.0 1267.8 L1096.5 1268.3 L1097.7 1268.6 L1099.0 1268.9 L1098.3 1269.2 L1097.3 1269.5 L1096.5 1270.4Z M1095.4 1264.8 L1096.1 1264.1 L1095.4 1263.0 L1094.1 1263.2 L1093.4 1264.1 L1094.0 1264.8Z" fill="#487FFF" stroke="#273142" stroke-width="0.3" stroke-linejoin="round"/><path d="M1185.9 1285.8 L1188.6 1284.5 L1191.0 1283.5 L1193.3 1282.3 L1193.5 1280.4 L1193.8 1278.2 L1196.0 1277.9 L1196.5 1275.2 L1199.4 1275.1 L1199.9 1273.0 L1201.7 1272.2 L1203.1 1273.6 L1205.1 1275.3 L1205.6 1277.6 L1208.3 1278.5 L1210.3 1279.3 L1211.7 1281.2 L1215.1 1281.5 L1217.6 1281.5 L1220.3 1282.6 L1223.2 1282.0 L1226.4 1281.8 L1228.9 1280.1 L1229.1 1278.2 L1231.4 1278.5 L1233.9 1277.0 L1235.7 1275.9 L1238.0 1275.6 L1236.2 1274.2 L1233.9 1273.9 L1233.7 1272.7 L1234.6 1271.3 L1236.2 1271.6 L1237.7 1270.1 L1238.9 1268.0 L1238.6 1266.8 L1239.8 1266.0 L1242.4 1265.7 L1244.5 1266.5 L1245.9 1268.0 L1247.0 1270.7 L1249.1 1271.9 L1250.4 1272.7 L1250.9 1274.3 L1253.1 1273.9 L1255.2 1273.3 L1254.3 1275.1 L1253.4 1276.8 L1251.8 1277.9 L1251.1 1279.6 L1251.1 1280.9 L1250.4 1281.6 L1249.1 1281.8 L1247.5 1282.3 L1246.1 1282.7 L1244.8 1283.9 L1243.4 1285.1 L1241.8 1285.5 L1240.2 1286.3 L1240.7 1284.5 L1239.3 1283.9 L1237.7 1285.5 L1235.9 1286.3 L1236.6 1287.7 L1237.7 1288.6 L1239.6 1288.2 L1241.3 1288.7 L1239.6 1289.7 L1238.0 1291.0 L1237.7 1292.1 L1238.9 1293.3 L1240.0 1294.9 L1240.6 1295.9 L1240.0 1297.4 L1240.7 1298.1 L1240.2 1299.8 L1238.9 1301.5 L1237.7 1303.2 L1236.4 1304.6 L1235.0 1305.8 L1233.4 1306.6 L1231.8 1307.2 L1230.0 1307.9 L1228.2 1308.3 L1227.4 1308.8 L1227.1 1309.6 L1226.6 1308.3 L1225.3 1308.0 L1223.7 1307.7 L1223.2 1306.6 L1221.9 1306.1 L1220.3 1306.9 L1218.5 1307.0 L1217.6 1308.5 L1216.2 1308.0 L1215.1 1306.9 L1214.4 1305.2 L1213.3 1304.9 L1214.2 1303.0 L1214.2 1300.8 L1212.9 1300.0 L1211.6 1298.9 L1210.1 1298.9 L1208.3 1300.1 L1206.7 1300.6 L1204.9 1300.2 L1203.3 1301.2 L1203.1 1300.3 L1199.9 1300.3 L1197.8 1299.3 L1196.0 1298.1 L1194.4 1297.6 L1192.4 1296.6 L1191.7 1294.7 L1192.4 1292.8 L1190.8 1290.9 L1188.6 1289.7 L1187.0 1288.7 L1186.5 1286.9Z M1226.0 1309.9 L1227.3 1309.8 L1228.2 1310.4 L1227.5 1311.6 L1226.4 1311.9 L1225.6 1311.3 L1225.6 1310.6Z" fill="#F86624" stroke="#273142" stroke-width="0.3" stroke-linejoin="round"/><path d="M1142.0 1298.6 L1143.7 1298.9 L1145.0 1297.9 L1145.5 1297.2 L1144.4 1296.0 L1146.6 1295.2 L1148.4 1295.6 L1150.0 1296.5 L1153.1 1298.9 L1155.1 1299.0 L1156.3 1299.6 L1157.4 1299.7 L1157.7 1300.6 L1158.6 1301.5 L1159.3 1302.5 L1159.3 1303.5 L1160.0 1304.2 L1160.7 1304.7 L1162.0 1306.5 L1165.0 1306.7 L1165.4 1307.6 L1164.8 1309.9 L1161.4 1311.1 L1158.0 1311.6 L1156.3 1313.3 L1155.1 1313.2 L1153.8 1313.0 L1151.7 1312.9 L1151.4 1313.9 L1150.9 1314.1 L1150.7 1313.9 L1149.3 1312.5 L1148.2 1310.4 L1146.8 1308.4 L1146.2 1306.6 L1145.0 1304.7 L1144.1 1303.0 L1142.8 1301.1 L1141.9 1299.8Z" fill="#FF9F29" stroke="#273142" stroke-width="0.3" stroke-linejoin="round"/><path d="M1231.6 1358.2 L1231.2 1360.6 L1231.4 1363.0 L1232.3 1366.0 L1232.8 1367.9 L1233.5 1370.4 L1232.8 1372.5 L1233.2 1373.5 L1234.8 1374.2 L1236.2 1374.2 L1238.0 1373.2 L1240.2 1372.8 L1242.4 1372.8 L1243.6 1371.7 L1245.2 1370.8 L1247.0 1370.6 L1248.6 1369.9 L1251.1 1369.8 L1252.7 1370.4 L1254.3 1371.3 L1255.4 1372.7 L1256.1 1374.0 L1257.0 1373.5 L1258.1 1371.9 L1258.6 1371.2 L1258.6 1372.7 L1258.1 1374.2 L1259.3 1373.7 L1259.3 1375.0 L1260.4 1375.3 L1260.9 1376.8 L1261.8 1378.1 L1263.3 1378.7 L1265.0 1379.2 L1266.5 1378.3 L1267.4 1378.9 L1268.2 1379.6 L1269.5 1378.4 L1270.6 1377.9 L1272.4 1377.2 L1272.9 1375.5 L1273.3 1374.2 L1273.9 1372.7 L1274.7 1371.4 L1275.4 1370.2 L1275.9 1368.4 L1276.5 1366.0 L1276.0 1364.0 L1275.8 1362.3 L1274.7 1361.1 L1273.5 1360.0 L1273.1 1358.7 L1271.7 1357.8 L1270.8 1356.1 L1269.2 1355.2 L1268.1 1354.5 L1267.9 1352.6 L1267.2 1350.5 L1266.3 1349.3 L1265.4 1349.3 L1264.9 1347.7 L1264.7 1346.3 L1264.0 1345.2 L1263.3 1345.9 L1263.1 1347.5 L1262.9 1349.3 L1262.7 1351.2 L1262.0 1352.9 L1260.6 1353.0 L1258.8 1351.9 L1257.7 1351.0 L1256.1 1349.9 L1256.5 1348.2 L1257.5 1346.8 L1256.1 1346.6 L1254.3 1346.6 L1252.7 1345.9 L1251.6 1346.8 L1250.7 1347.0 L1249.8 1348.2 L1249.3 1349.8 L1248.2 1349.9 L1247.0 1349.1 L1245.9 1348.9 L1244.5 1350.3 L1243.4 1351.4 L1242.3 1352.6 L1241.1 1352.3 L1240.9 1353.7 L1239.6 1355.3 L1237.7 1355.9 L1235.9 1356.6 L1234.3 1356.8 L1232.8 1357.8Z M1266.4 1381.7 L1268.3 1382.3 L1270.5 1382.0 L1270.5 1383.8 L1269.7 1385.0 L1268.8 1385.7 L1267.9 1385.5 L1267.1 1383.9 L1266.7 1382.7Z" fill="#45B369" stroke="#273142" stroke-width="0.3" stroke-linejoin="round"/><circle cx="966.6" cy="1289.5" r="4.6" fill="#fff" stroke="#6B7280" stroke-width="0.5"/><circle cx="1098.9" cy="1262.5" r="4.6" fill="#fff" stroke="#6B7280" stroke-width="0.5"/><circle cx="1165.1" cy="1303.8" r="4.6" fill="#fff" stroke="#6B7280" stroke-width="0.5"/><circle cx="1221.1" cy="1290.5" r="4.6" fill="#fff" stroke="#6B7280" stroke-width="0.5"/><circle cx="1254.7" cy="1303.8" r="4.6" fill="#fff" stroke="#6B7280" stroke-width="0.5"/></svg><div style="position:absolute;left:874px;top:1214.3px;width:16px;height:15.6px;background:#D5D8DF;border-radius:3px"></div><div class="t" style="left:877.97px;top:1215px;font-size:12.52px;line-height:14px;letter-spacing:0.749px;color:#111827;">+</div><div style="position:absolute;left:874px;top:1234.3px;width:16px;height:15.6px;background:#D5D8DF;border-radius:3px"></div><div class="t" style="left:878.32px;top:1235px;font-size:12.48px;line-height:14px;letter-spacing:0.07px;color:#111827;">−</div>
<svg style="left:888px;top:1429.8px" width="40" height="40" viewBox="0 0 40 40" fill="none" ><defs><clipPath id="fl_us"><circle cx="20" cy="20" r="20"/></clipPath></defs><g clip-path="url(#fl_us)"><rect x="0" y="0" width="40" height="7.10" fill="#D80027"/><rect x="0" y="7.05" width="40" height="7.20" fill="#F0F0F0"/><rect x="0" y="14.2" width="40" height="6.85" fill="#D80027"/><rect x="0" y="21" width="40" height="6.85" fill="#F0F0F0"/><rect x="0" y="27.8" width="40" height="6.95" fill="#D80027"/><rect x="0" y="34.7" width="40" height="5.35" fill="#F0F0F0"/><rect width="20.3" height="20.8" fill="#0052B4"/><path transform="translate(5.4,8.4)" d="M0 -3.3 L0.95 -1.05 L3.3 -0.9 L1.5 0.65 L2.05 3 L0 1.75 L-2.05 3 L-1.5 0.65 L-3.3 -0.9 L-0.95 -1.05 Z" fill="#F0F0F0"/><path transform="translate(14.8,8.4)" d="M0 -3.3 L0.95 -1.05 L3.3 -0.9 L1.5 0.65 L2.05 3 L0 1.75 L-2.05 3 L-1.5 0.65 L-3.3 -0.9 L-0.95 -1.05 Z" fill="#F0F0F0"/><path transform="translate(5.4,15.5)" d="M0 -3.3 L0.95 -1.05 L3.3 -0.9 L1.5 0.65 L2.05 3 L0 1.75 L-2.05 3 L-1.5 0.65 L-3.3 -0.9 L-0.95 -1.05 Z" fill="#F0F0F0"/><path transform="translate(14.8,15.5)" d="M0 -3.3 L0.95 -1.05 L3.3 -0.9 L1.5 0.65 L2.05 3 L0 1.75 L-2.05 3 L-1.5 0.65 L-3.3 -0.9 L-0.95 -1.05 Z" fill="#F0F0F0"/><path transform="translate(14.8,1.4)" d="M0 -3.3 L0.95 -1.05 L3.3 -0.9 L1.5 0.65 L2.05 3 L0 1.75 L-2.05 3 L-1.5 0.65 L-3.3 -0.9 L-0.95 -1.05 Z" fill="#F0F0F0"/><path transform="translate(5.4,1.4)" d="M0 -3.3 L0.95 -1.05 L3.3 -0.9 L1.5 0.65 L2.05 3 L0 1.75 L-2.05 3 L-1.5 0.65 L-3.3 -0.9 L-0.95 -1.05 Z" fill="#F0F0F0"/></g></svg>
<div class="t" style="left:940.20px;top:1428px;font-size:14.56px;line-height:16px;letter-spacing:-0.414px;color:#FFFFFF;font-weight:700;">USA</div>
<div class="t" style="left:940.20px;top:1452px;font-size:13.48px;line-height:15px;letter-spacing:-0.473px;color:#D5D9DF;">1,240 Users</div>
<div style="position:absolute;left:1234.8000000000002px;top:1445.8px;width:66px;height:8px;background:#323D4E;border-radius:4px"></div>
<div style="position:absolute;left:1234.8000000000002px;top:1445.8px;width:52.8px;height:8px;background:#487FFF;border-radius:4px"></div>
<div class="t" style="left:1310.00px;top:1441px;font-size:16.64px;line-height:19px;letter-spacing:0.099px;color:#D5D9DF;font-weight:700;">80%</div>
<svg style="left:888px;top:1487.9px" width="40" height="40" viewBox="0 0 40 40" fill="none" ><defs><clipPath id="fl_jp"><circle cx="20" cy="20" r="20"/></clipPath></defs><g clip-path="url(#fl_jp)"><rect width="40" height="40" fill="#F0F0F0"/><circle cx="20" cy="20" r="11.6" fill="#D80027"/></g></svg>
<div class="t" style="left:940.20px;top:1487px;font-size:14.56px;line-height:16px;letter-spacing:-0.156px;color:#FFFFFF;font-weight:700;">Japan</div>
<div class="t" style="left:940.20px;top:1511px;font-size:13.48px;line-height:15px;letter-spacing:-0.473px;color:#D5D9DF;">1,240 Users</div>
<div style="position:absolute;left:1234.8000000000002px;top:1503.9px;width:66px;height:8px;background:#323D4E;border-radius:4px"></div>
<div style="position:absolute;left:1234.8000000000002px;top:1503.9px;width:39.6px;height:8px;background:#F86624;border-radius:4px"></div>
<div class="t" style="left:1310.00px;top:1499px;font-size:16.64px;line-height:19px;letter-spacing:0.099px;color:#D5D9DF;font-weight:700;">60%</div>
<svg style="left:888px;top:1545.9px" width="40" height="40" viewBox="0 0 40 40" fill="none" ><defs><clipPath id="fl_fr"><circle cx="20" cy="20" r="20"/></clipPath></defs><g clip-path="url(#fl_fr)"><rect width="40" height="40" fill="#F0F0F0"/><rect width="12.2" height="40" fill="#0052B4"/><rect x="27.8" width="12.2" height="40" fill="#D80027"/></g></svg>
<div class="t" style="left:940.20px;top:1545px;font-size:14.56px;line-height:16px;letter-spacing:-0.208px;color:#FFFFFF;font-weight:700;">France</div>
<div class="t" style="left:940.20px;top:1569px;font-size:13.48px;line-height:15px;letter-spacing:-0.473px;color:#D5D9DF;">1,240 Users</div>
<div style="position:absolute;left:1234.8000000000002px;top:1561.9px;width:66px;height:8px;background:#323D4E;border-radius:4px"></div>
<div style="position:absolute;left:1234.8000000000002px;top:1561.9px;width:32.34px;height:8px;background:#F4941E;border-radius:4px"></div>
<div class="t" style="left:1310.00px;top:1557px;font-size:16.64px;line-height:19px;letter-spacing:0.099px;color:#D5D9DF;font-weight:700;">49%</div>
<svg style="left:888px;top:1604px" width="40" height="40" viewBox="0 0 40 40" fill="none" ><defs><clipPath id="fl_de"><circle cx="20" cy="20" r="20"/></clipPath></defs><g clip-path="url(#fl_de)"><rect width="40" height="40" fill="#D80027"/><rect width="40" height="12.2" fill="#000"/><rect y="27.8" width="40" height="12.2" fill="#FFDA44"/></g></svg>
<div class="t" style="left:940.20px;top:1603px;font-size:14.56px;line-height:16px;letter-spacing:-0.261px;color:#FFFFFF;font-weight:700;">Germany</div>
<div class="t" style="left:940.20px;top:1627px;font-size:13.48px;line-height:15px;letter-spacing:-0.473px;color:#D5D9DF;">1,240 Users</div>
<div style="position:absolute;left:1226.8000000000002px;top:1620px;width:66px;height:8px;background:#323D4E;border-radius:4px"></div>
<div style="position:absolute;left:1226.8000000000002px;top:1620px;width:66.0px;height:8px;background:#45B369;border-radius:4px"></div>
<div class="t" style="left:1302.00px;top:1615px;font-size:16.64px;line-height:19px;letter-spacing:-0.24px;color:#D5D9DF;font-weight:700;">100%</div>
<div class="card" style="left:1392px;top:1136px;width:504px;height:534px"></div>
<div class="t" style="left:1416.40px;top:1152px;font-size:18.72px;line-height:21px;letter-spacing:-0.146px;color:#FFFFFF;font-weight:700;">Top Customers</div>
<div class="t" style="left:1792.40px;top:1154px;font-size:16.64px;line-height:19px;letter-spacing:0.067px;color:#487FFF;">View All</div><svg style="left:1859.8000000000002px;top:1158.2px" width="6" height="10" viewBox="0 0 6 10" fill="none" ><path d="M1 1 L5 5 L1 9" stroke="#487FFF" stroke-width="1.2" stroke-linecap="round" stroke-linejoin="round"/></svg>
<svg style="left:1416px;top:1211.8px" width="40" height="40" viewBox="0 0 40 40" fill="none" ><defs><clipPath id="av6"><rect width="40" height="40" rx="8.5"/></clipPath></defs><g clip-path="url(#av6)"><rect width="40" height="40" fill="#E1DEEF"/><g transform="translate(0.4,0)"><path d="M20 5.6 C14.2 5.6 12.4 9.8 13 13.6 C10.6 15.4 10.2 18.6 11.4 20.6 C11.6 23.2 14.6 24.6 17.2 23.4 L22.8 23.4 C25.4 24.6 28.4 23.2 28.6 20.6 C29.8 18.6 29.4 15.4 27 13.6 C27.6 9.8 25.8 5.6 20 5.6 Z" fill="#2D2830"/><path d="M5.6 36 H10 V40 H6.6 Z M30 36 H34.4 L33.4 40 H30 Z" fill="#F2A97E"/><path d="M4.4 36.6 C4.6 33 5.2 31 6.8 29.8 L11.6 27 L20 26.4 L28.4 27 L33.2 29.8 C34.8 31 35.4 33 35.6 36.6 L30.4 37.2 V40 H9.6 V37.2 Z" fill="#A7A3E6"/><path d="M17.2 20 H22.8 V25.6 C25.4 26.2 27.2 26.8 28 27.2 C26 29.4 23 30.2 20.9 30.3 V32 H19.1 V30.3 C17 30.2 14 29.4 12 27.2 C12.8 26.8 14.6 26.2 17.2 25.6 Z" fill="#F2A97E"/><path d="M14.4 12.6 C14.4 8.4 25.6 8.4 25.6 12.6 V16.8 C25.6 20.8 23 23.4 20 23.4 C17 23.4 14.4 20.8 14.4 16.8 Z" fill="#F2A97E"/><path d="M13.8 15.6 C12.8 9.6 15.6 6.8 20 6.8 C24.4 6.8 27.2 9.6 26.2 15.6 C25.6 13.2 24.2 11.8 22.6 11.2 C21.6 10.4 20.4 10.2 19.6 10.6 C18.6 12.4 16.6 13.8 14.8 14 C14.4 14.4 14 15 13.8 15.6 Z" fill="#2D2830"/><path d="M16.8 15 H18.8 M21.2 15 H23.2" stroke="#5B3A3A" stroke-width="0.6"/><circle cx="17.9" cy="15.9" r="0.45" fill="#4A2F3A"/><circle cx="22.2" cy="15.9" r="0.45" fill="#4A2F3A"/><path d="M19 20.3 Q20 21.2 21 20.3" stroke="#C9A0B8" stroke-width="0.8" fill="none"/></g></g></svg>
<div class="t" style="left:1464.30px;top:1209px;font-size:16.64px;line-height:19px;letter-spacing:-0.172px;color:#FFFFFF;">Dianne Russell</div>
<div class="t" style="left:1464.30px;top:1234px;font-size:14.56px;line-height:16px;letter-spacing:0.665px;color:#D5D9DF;">017******58</div>
<div class="t m" style="left:1790.80px;top:1223px;font-size:16.64px;line-height:19px;letter-spacing:0.239px;color:#FFFFFF;">Orders: 30</div>
<svg style="left:1416px;top:1290.2px" width="40" height="40" viewBox="0 0 40 40" fill="none" ><defs><clipPath id="av7"><rect width="40" height="40" rx="8.5"/></clipPath></defs><g clip-path="url(#av7)"><rect width="40" height="40" fill="#DCEBE8"/><path d="M15.2 26 H24.8 V39 H15.2 Z" fill="#D8DDF0"/><path d="M15.9 19 H24.1 V27 H15.9 Z" fill="#EFA071"/><path d="M2.8 40 C2.8 34.4 3.6 30.8 6.2 29.2 L15.3 24.2 L20 37.4 L24.7 24.2 L33.8 29.2 C36.4 30.8 37.2 34.4 37.2 40 Z" fill="#26306B"/><path d="M15.3 24.2 L20 37.6 L24.7 24.2" stroke="#1A2252" stroke-width="1" fill="none" stroke-linejoin="round"/><path d="M14.8 11.6 C14.8 7 25.2 7 25.2 11.6 V16.8 C25.2 20.8 22.8 23.2 20 23.2 C17.2 23.2 14.8 20.8 14.8 16.8 Z" fill="#F2A97E"/><ellipse cx="14.2" cy="15.3" rx="1.1" ry="1.7" fill="#F2A97E"/><ellipse cx="25.8" cy="15.3" rx="1.1" ry="1.7" fill="#F2A97E"/><path d="M14.8 15.6 C15.3 18.6 16.4 19.2 17.4 18.6 C18.6 17.6 21.4 17.6 22.6 18.6 C23.6 19.2 24.7 18.6 25.2 15.6 V17.4 C25.2 21.2 22.8 23.6 20 23.6 C17.2 23.6 14.8 21.2 14.8 17.4 Z" fill="#2B2630"/><ellipse cx="20" cy="19.9" rx="2" ry="0.9" fill="#F2A97E"/><path d="M14.4 13.8 C13.4 8.4 15.6 4.6 19.2 4.6 C21 3.8 24 4.4 25 6 C26.4 7.6 26.4 10.8 25.6 13.8 C25.3 12 24.9 10.8 24.2 9.9 C21.6 10.5 18 10.3 15.8 9.5 C15.2 10.7 14.8 12.1 14.4 13.8 Z" fill="#2B2630"/><path d="M16.7 13.2 H18.9 M21.1 13.2 H23.3" stroke="#5B3A2A" stroke-width="0.7"/></g></svg>
<div class="t" style="left:1464.30px;top:1287px;font-size:16.64px;line-height:19px;letter-spacing:-0.083px;color:#FFFFFF;">Wade Warren</div>
<div class="t" style="left:1464.30px;top:1312px;font-size:14.56px;line-height:16px;letter-spacing:0.665px;color:#D5D9DF;">017******58</div>
<div class="t m" style="left:1790.80px;top:1301px;font-size:16.64px;line-height:19px;letter-spacing:0.239px;color:#FFFFFF;">Orders: 30</div>
<svg style="left:1416px;top:1368.7px" width="40" height="40" viewBox="0 0 40 40" fill="none" ><defs><clipPath id="av8"><rect width="40" height="40" rx="8.5"/></clipPath></defs><g clip-path="url(#av8)"><rect width="40" height="40" fill="#FFF0EC"/><path d="M20 6.2 C14 6.2 12.6 10.6 12.8 14.4 C11 16 11.4 18.6 12.4 19.8 C10.8 22 11.6 25.4 13.4 26.8 L26.6 26.8 C28.4 25.4 29.2 22 27.6 19.8 C28.6 18.6 29 16 27.2 14.4 C27.4 10.6 26 6.2 20 6.2 Z" fill="#2D2830"/><path d="M4 40 C4.2 34.6 4.8 30.8 6.6 29.2 L12 26.6 L20 26 L28 26.6 L33.4 29.2 C35.2 30.8 35.8 34.6 36 40 Z" fill="#DE6A5C"/><path d="M14 27.6 H26.1 L27 40 H13 Z" fill="#F1F2F4"/><path d="M15.6 29 V40 M17.4 29 V40 M19.2 29 V40 M21 29 V40 M22.8 29 V40 M24.6 29 V40" stroke="#DDDEE2" stroke-width="0.45"/><path d="M17.3 20 H22.7 V26 C24.6 26.4 25.8 27 26.2 27.8 C23.8 29.4 16.2 29.4 13.8 27.8 C14.2 27 15.4 26.4 17.3 26 Z" fill="#F2A97E"/><path d="M14.4 13 C14.4 8.6 25.6 8.6 25.6 13 V17 C25.6 21 23 23.6 20 23.6 C17 23.6 14.4 21 14.4 17 Z" fill="#F2A97E"/><path d="M14 15.6 C13.2 10.4 15.8 7.6 20 7.6 C24.2 7.6 26.8 10.4 26 15.6 C25.4 13.4 24 12.4 22.6 11.8 C21.6 11 20.6 10.6 20 10.8 C18.8 12.6 16.6 13.6 15 13.6 C14.6 14.2 14.2 14.8 14 15.6 Z" fill="#2D2830"/><circle cx="17.6" cy="16.4" r="0.5" fill="#3A2A2A"/><circle cx="22.4" cy="16.4" r="0.5" fill="#3A2A2A"/><path d="M19 20.6 Q20 21.2 21 20.6" stroke="#D9785F" stroke-width="0.6" fill="none"/></g></svg>
<div class="t" style="left:1464.30px;top:1366px;font-size:16.64px;line-height:19px;letter-spacing:0.129px;color:#FFFFFF;">Albert Flores</div>
<div class="t" style="left:1464.30px;top:1391px;font-size:14.56px;line-height:16px;letter-spacing:0.665px;color:#D5D9DF;">017******58</div>
<div class="t m" style="left:1790.80px;top:1380px;font-size:16.64px;line-height:19px;letter-spacing:0.239px;color:#FFFFFF;">Orders: 35</div>
<svg style="left:1416px;top:1447.1px" width="40" height="40" viewBox="0 0 40 40" fill="none" ><defs><clipPath id="av9"><rect width="40" height="40" rx="8.5"/></clipPath></defs><g clip-path="url(#av9)"><rect width="40" height="40" fill="#FFF0EC"/><g transform="translate(0.7,0)"><path d="M20 4 C13.6 4 12.2 9.6 12.8 14 C12.9 17 11 19.4 12 21.4 C13.2 23.2 16 23 17.4 22 L22.6 22 C24 23 26.8 23.2 28 21.4 C29 19.4 27.1 17 27.2 14 C27.8 9.6 26.4 4 20 4 Z" fill="#2A1F4F"/><path d="M4.4 40 C4.6 34.8 5.2 31 7 29.2 L12.4 25.2 L20 24.6 L27.6 25.2 L33 29.2 C34.8 31 35.4 34.8 35.6 40 Z" fill="#F8B133"/><path d="M17.2 19.6 H22.8 V24.6 C25.6 24.8 27.4 25.2 28.2 25.6 C25.6 28.6 14.4 28.6 11.8 25.6 C12.6 25.2 14.4 24.8 17.2 24.6 Z" fill="#F2A97E"/><path d="M14.4 12 C14.4 7.8 25.6 7.8 25.6 12 V16.2 C25.6 20.2 23 22.6 20 22.6 C17 22.6 14.4 20.2 14.4 16.2 Z" fill="#F2A97E"/><path d="M14 14.4 C13.2 8.8 15.8 5.8 20 5.8 C24.2 5.8 26.8 8.8 26 14.4 C25.2 12.2 23.6 10.4 21.4 9 C20 11.4 17 13 14.8 13 C14.4 13.4 14.2 13.8 14 14.4 Z" fill="#2A1F4F"/><circle cx="17.6" cy="14.6" r="0.55" fill="#3A2A3A"/><circle cx="22.4" cy="14.6" r="0.55" fill="#3A2A3A"/><path d="M18.8 18.3 Q20 19.9 21.2 18.3 Z" fill="#F4F4F4"/></g></g></svg>
<div class="t" style="left:1464.30px;top:1444px;font-size:16.64px;line-height:19px;letter-spacing:0.027px;color:#FFFFFF;">Bessie Cooper</div>
<div class="t" style="left:1464.30px;top:1469px;font-size:14.56px;line-height:16px;letter-spacing:0.665px;color:#D5D9DF;">017******58</div>
<div class="t m" style="left:1790.80px;top:1458px;font-size:16.64px;line-height:19px;letter-spacing:0.239px;color:#FFFFFF;">Orders: 20</div>
<svg style="left:1416px;top:1525.6px" width="40" height="40" viewBox="0 0 40 40" fill="none" ><defs><clipPath id="av10"><rect width="40" height="40" rx="8.5"/></clipPath></defs><g clip-path="url(#av10)"><rect width="40" height="40" fill="#FFF0EC"/><path d="M4 40 C4.2 35 5 31.6 7.2 30 L13.8 27.2 C17 29.4 23 29.4 26.2 27.2 L32.8 30 C35 31.6 35.8 35 36 40 Z" fill="#E7687B"/><path d="M6.6 35.4 H33.4 V38.6 H6.2 Z" fill="#C95E71"/><path d="M7.6 37 H32.4" stroke="#E98496" stroke-width="1.5" stroke-dasharray="1.6 0.9"/><path d="M17 20 H23 V26.4 C24.4 27 25.6 27.2 26.2 27.2 C23 29.6 17 29.6 13.8 27.2 C14.4 27.2 15.6 27 17 26.4 Z" fill="#F2A97E"/><path d="M17 22.6 C18.6 24.2 21.4 24.2 23 22.6 V24 C21.4 25.4 18.6 25.4 17 24 Z" fill="#E8976B"/><path d="M14.4 12.6 C14.4 8.2 25.6 8.2 25.6 12.6 V17.2 C25.6 21.4 23 24 20 24 C17 24 14.4 21.4 14.4 17.2 Z" fill="#F2A97E"/><ellipse cx="14.1" cy="16.4" rx="1" ry="1.6" fill="#F2A97E"/><ellipse cx="25.9" cy="16.4" rx="1" ry="1.6" fill="#F2A97E"/><path d="M14.4 15.4 C11.4 12.6 12 7.8 15.8 6.6 C17.6 4.6 22.6 4.4 24.4 6 C27.8 6.6 28.2 11.4 25.8 15.2 C25.6 13.4 25 12.2 24.2 11.4 C21.6 11.6 19.4 10.4 18.2 8.8 C17.6 11 16.2 12.6 15 13.2 C14.6 13.8 14.4 14.6 14.4 15.4 Z" fill="#2B2830"/><path d="M16.6 15 H18.8 M21.2 15 H23.4" stroke="#5B3A2A" stroke-width="0.6"/><circle cx="17.8" cy="16.2" r="0.45" fill="#3A2A2A"/><circle cx="22.3" cy="16.2" r="0.45" fill="#3A2A2A"/><path d="M18.6 20 Q20 21.8 21.4 20 Z" fill="#F4F4F4"/></g></svg>
<div class="t" style="left:1464.30px;top:1522px;font-size:16.64px;line-height:19px;letter-spacing:0.042px;color:#FFFFFF;">Arlene McCoy</div>
<div class="t" style="left:1464.30px;top:1547px;font-size:14.56px;line-height:16px;letter-spacing:0.665px;color:#D5D9DF;">017******58</div>
<div class="t m" style="left:1790.80px;top:1537px;font-size:16.64px;line-height:19px;letter-spacing:0.239px;color:#FFFFFF;">Orders: 25</div>
<svg style="left:1416px;top:1604.0px" width="40" height="40" viewBox="0 0 40 40" fill="none" ><defs><clipPath id="av11"><rect width="40" height="40" rx="8.5"/></clipPath></defs><g clip-path="url(#av11)"><rect width="40" height="40" fill="#E1DEEF"/><g transform="translate(0.4,0)"><path d="M20 5.6 C14.2 5.6 12.4 9.8 13 13.6 C10.6 15.4 10.2 18.6 11.4 20.6 C11.6 23.2 14.6 24.6 17.2 23.4 L22.8 23.4 C25.4 24.6 28.4 23.2 28.6 20.6 C29.8 18.6 29.4 15.4 27 13.6 C27.6 9.8 25.8 5.6 20 5.6 Z" fill="#2D2830"/><path d="M5.6 36 H10 V40 H6.6 Z M30 36 H34.4 L33.4 40 H30 Z" fill="#F2A97E"/><path d="M4.4 36.6 C4.6 33 5.2 31 6.8 29.8 L11.6 27 L20 26.4 L28.4 27 L33.2 29.8 C34.8 31 35.4 33 35.6 36.6 L30.4 37.2 V40 H9.6 V37.2 Z" fill="#A7A3E6"/><path d="M17.2 20 H22.8 V25.6 C25.4 26.2 27.2 26.8 28 27.2 C26 29.4 23 30.2 20.9 30.3 V32 H19.1 V30.3 C17 30.2 14 29.4 12 27.2 C12.8 26.8 14.6 26.2 17.2 25.6 Z" fill="#F2A97E"/><path d="M14.4 12.6 C14.4 8.4 25.6 8.4 25.6 12.6 V16.8 C25.6 20.8 23 23.4 20 23.4 C17 23.4 14.4 20.8 14.4 16.8 Z" fill="#F2A97E"/><path d="M13.8 15.6 C12.8 9.6 15.6 6.8 20 6.8 C24.4 6.8 27.2 9.6 26.2 15.6 C25.6 13.2 24.2 11.8 22.6 11.2 C21.6 10.4 20.4 10.2 19.6 10.6 C18.6 12.4 16.6 13.8 14.8 14 C14.4 14.4 14 15 13.8 15.6 Z" fill="#2D2830"/><path d="M16.8 15 H18.8 M21.2 15 H23.2" stroke="#5B3A3A" stroke-width="0.6"/><circle cx="17.9" cy="15.9" r="0.45" fill="#4A2F3A"/><circle cx="22.2" cy="15.9" r="0.45" fill="#4A2F3A"/><path d="M19 20.3 Q20 21.2 21 20.3" stroke="#C9A0B8" stroke-width="0.8" fill="none"/></g></g></svg>
<div class="t" style="left:1464.30px;top:1601px;font-size:16.64px;line-height:19px;letter-spacing:-0.029px;color:#FFFFFF;">John Doe</div>
<div class="t" style="left:1464.30px;top:1626px;font-size:14.56px;line-height:16px;letter-spacing:0.665px;color:#D5D9DF;">017******58</div>
<div class="t m" style="left:1790.80px;top:1615px;font-size:16.64px;line-height:19px;letter-spacing:0.239px;color:#FFFFFF;">Orders: 32</div>
<!-- row4 -->
<div class="card" style="left:336px;top:1694px;width:768px;height:553px"></div>
<div class="t" style="left:360.00px;top:1720px;font-size:18.72px;line-height:21px;letter-spacing:-0.232px;color:#FFFFFF;font-weight:700;">Top Selling Product</div>
<div class="t" style="left:1001.00px;top:1722px;font-size:16.64px;line-height:19px;letter-spacing:0.067px;color:#487FFF;">View All</div><svg style="left:1068.4px;top:1726.2px" width="6" height="10" viewBox="0 0 6 10" fill="none" ><path d="M1 1 L5 5 L1 9" stroke="#487FFF" stroke-width="1.2" stroke-linecap="round" stroke-linejoin="round"/></svg>
<div style="position:absolute;left:360px;top:1765px;width:720px;height:458px;border:1px solid #343F50;border-radius:9px;overflow:hidden"><div style="position:absolute;left:0px;top:0px;width:720px;height:60px;background:#1B2431"></div><div style="position:absolute;left:0px;top:59px;width:720px;height:1px;background:#343F50"></div><div style="position:absolute;left:0px;top:139px;width:720px;height:1px;background:#343F50"></div><div style="position:absolute;left:0px;top:218px;width:720px;height:1px;background:#343F50"></div><div style="position:absolute;left:0px;top:298px;width:720px;height:1px;background:#343F50"></div><div style="position:absolute;left:0px;top:377px;width:720px;height:1px;background:#343F50"></div></div>
<div class="t" style="left:377.00px;top:1786px;font-size:16.64px;line-height:19px;letter-spacing:0.006px;color:#FFFFFF;font-weight:700;">Items</div>
<div class="t" style="left:623.50px;top:1786px;font-size:16.64px;line-height:19px;letter-spacing:-0.221px;color:#FFFFFF;font-weight:700;">Price</div>
<div class="t" style="left:738.20px;top:1786px;font-size:16.64px;line-height:19px;letter-spacing:-0.273px;color:#FFFFFF;font-weight:700;">Discount</div>
<div class="t" style="left:859.70px;top:1786px;font-size:16.64px;line-height:19px;letter-spacing:-0.463px;color:#FFFFFF;font-weight:700;">Sold</div>
<div class="t" style="left:955.10px;top:1786px;font-size:16.64px;line-height:19px;letter-spacing:-0.225px;color:#FFFFFF;font-weight:700;">Total Orders</div>
<svg style="left:377px;top:1844.6px" width="40" height="40" viewBox="0 0 40 40" fill="none" ><rect width="40" height="40" rx="8.5" fill="#DCEDF3"/><path d="M15.2 7.6 L20 5.6 L24.8 7.6" stroke="#B98545" stroke-width="0.9" fill="none"/><path d="M14 8.4 C16 10.4 24 10.4 26 8.4 L30.4 10.6 L35 19.6 L30.6 22.4 L29 19.6 V34.4 C26 35.6 14 35.6 11 34.4 V19.6 L9.4 22.4 L5 19.6 L9.6 10.6 Z" fill="#4A8BA8"/><path d="M14 8.4 C16 10.4 24 10.4 26 8.4 C24.6 12 15.4 12 14 8.4 Z" fill="#3B7893"/><path d="M15 14 V34 M20 13 V35 M25 14 V34" stroke="#3F7F9B" stroke-width="0.8"/></svg>
<div class="t" style="left:429.00px;top:1842px;font-size:16.64px;line-height:19px;letter-spacing:0.373px;color:#FFFFFF;">Blue t-shirt</div>
<div class="t" style="left:429.00px;top:1867px;font-size:14.56px;line-height:16px;letter-spacing:-0.086px;color:#D5D9DF;">Fashion</div>
<div class="t" style="left:623.50px;top:1856px;font-size:16.64px;line-height:19px;letter-spacing:0.379px;color:#D5D9DF;">$500.00</div>
<div class="t" style="left:738.20px;top:1857px;font-size:15.66px;line-height:17px;letter-spacing:-0.582px;color:#D5D9DF;">15%</div>
<div class="t" style="left:859.70px;top:1856px;font-size:16.64px;line-height:19px;letter-spacing:0.612px;color:#D5D9DF;">300</div>
<div style="position:absolute;left:962.15px;top:1849.25px;width:80.5px;height:31.5px;background:#2A4A4C;border-radius:15.75px"></div><div class="t m" style="left:993.45px;top:1857px;font-size:14.56px;line-height:16px;letter-spacing:0.856px;color:#45B369;">70</div>
<svg style="left:377px;top:1924.6px" width="40" height="40" viewBox="0 0 40 40" fill="none" ><rect width="40" height="40" rx="8.5" fill="#FCE8D9"/><path d="M6.4 24.6 C9 22.4 15 19.6 19.6 15.4 L23 12.2 L28.6 11.4 L33.4 14 L34.6 19.6 C30 22.6 22 27.4 14.4 29.8 C10 31 5.6 30.4 4.8 28 C4.4 26.6 5.2 25.6 6.4 24.6 Z" fill="#E6A94E"/><path d="M23 12.2 L28.6 11.4 L33.4 14 L34 16.6 L27 17.6 Z" fill="#5F6B84"/><path d="M4.8 28 C5.6 30.4 10 31 14.4 29.8 C22 27.4 30 22.6 34.6 19.6 L34.8 21.2 C30 24.6 22 29.4 14.6 31.6 C9.6 33 4.6 31.6 4.8 28 Z" fill="#C98C3B"/><path d="M11.6 13.6 C14 11.6 17.6 9.6 20.4 7.8 L24.6 6.6 L28.4 8.4 L26 11.6 C22 14.6 16 18.6 10.6 20.6 C7.6 21.6 5 20.6 5.4 18.4 C5.8 16.6 9 15.6 11.6 13.6 Z" fill="#EDB45B"/><path d="M20.4 7.8 L24.6 6.6 L28.4 8.4 L27.6 10 L22.6 10.2 Z" fill="#5F6B84"/><path d="M19 17.6 L22.4 20.6 M21.6 15.4 L25 18.4 M16.4 19.6 L19.8 22.6" stroke="#8A5A22" stroke-width="0.7"/></svg>
<div class="t" style="left:429.00px;top:1922px;font-size:16.64px;line-height:19px;letter-spacing:0.053px;color:#FFFFFF;">Nike Air Shoe</div>
<div class="t" style="left:429.00px;top:1947px;font-size:14.56px;line-height:16px;letter-spacing:-0.086px;color:#D5D9DF;">Fashion</div>
<div class="t" style="left:623.50px;top:1936px;font-size:16.64px;line-height:19px;letter-spacing:0.379px;color:#D5D9DF;">$150.00</div>
<div class="t" style="left:738.20px;top:1936px;font-size:16.64px;line-height:19px;letter-spacing:0.154px;color:#D5D9DF;">N/A</div>
<div class="t" style="left:859.70px;top:1936px;font-size:16.64px;line-height:19px;letter-spacing:0.312px;color:#D5D9DF;">200</div>
<div style="position:absolute;left:962.15px;top:1929.25px;width:80.5px;height:31.5px;background:#2A4A4C;border-radius:15.75px"></div><div class="t m" style="left:993.45px;top:1937px;font-size:14.56px;line-height:16px;letter-spacing:0.856px;color:#45B369;">70</div>
<svg style="left:377px;top:2003.6px" width="40" height="40" viewBox="0 0 40 40" fill="none" ><rect width="40" height="40" rx="8.5" fill="#DFF3F3"/><path d="M15.4 9.6 C17.6 11.6 22.4 11.6 24.6 9.6 L29.4 11.6 C31.6 16.6 33 24.6 33.4 32.4 L29.8 33 C29.4 27 28.6 22 27.6 18.6 L27.4 30.4 H12.6 L12.4 18.6 C11.4 22 10.6 27 10.2 33 L6.6 32.4 C7 24.6 8.4 16.6 10.6 11.6 Z" fill="#3FAE74"/><path d="M15.4 9.6 C17.6 11.6 22.4 11.6 24.6 9.6 C23.6 13 16.4 13 15.4 9.6 Z" fill="#2F9461"/><path d="M12.6 29 H27.4 V30.6 H12.6 Z" fill="#2F9461"/></svg>
<div class="t" style="left:429.00px;top:2001px;font-size:16.64px;line-height:19px;letter-spacing:-0.091px;color:#FFFFFF;">Woman Dresses</div>
<div class="t" style="left:429.00px;top:2026px;font-size:14.56px;line-height:16px;letter-spacing:-0.086px;color:#D5D9DF;">Fashion</div>
<div class="t" style="left:623.50px;top:2015px;font-size:16.64px;line-height:19px;letter-spacing:0.379px;color:#D5D9DF;">$300.00</div>
<div class="t" style="left:738.20px;top:2015px;font-size:16.64px;line-height:19px;letter-spacing:0.317px;color:#D5D9DF;">$50.00</div>
<div class="t" style="left:859.70px;top:2015px;font-size:16.64px;line-height:19px;letter-spacing:-0.154px;color:#D5D9DF;">1500</div>
<div style="position:absolute;left:962.15px;top:2008.25px;width:80.5px;height:31.5px;background:#2A4A4C;border-radius:15.75px"></div><div class="t m" style="left:993.45px;top:2016px;font-size:14.56px;line-height:16px;letter-spacing:0.856px;color:#45B369;">70</div>
<svg style="left:377px;top:2083.6px" width="40" height="40" viewBox="0 0 40 40" fill="none" ><rect width="40" height="40" rx="8.5" fill="#FCEADC"/><path d="M16.4 3 H23.6 L24.4 13 H15.6 Z M15.6 27 H24.4 L23.6 37 H16.4 Z" fill="#D9AE73"/><path d="M16.8 5.4 H23.2 M16.6 7.8 H23.4 M16.4 10.2 H23.6 M16.4 29.8 H23.6 M16.6 32.2 H23.4 M16.8 34.6 H23.2" stroke="#B88748" stroke-width="0.7"/><circle cx="20" cy="20" r="8.2" fill="#D9AE73"/><circle cx="20" cy="20" r="6.5" fill="#3A1F1C"/><rect x="28" y="18.8" width="1.8" height="2.4" rx="0.6" fill="#C89A5A"/><path d="M20 20 L20 16 M20 20 L23 21.6" stroke="#E8C99A" stroke-width="0.7"/><circle cx="20" cy="20" r="6.5" fill="none" stroke="#B88748" stroke-width="0.6" stroke-dasharray="0.6 2.8"/></svg>
<div class="t" style="left:429.00px;top:2081px;font-size:16.64px;line-height:19px;letter-spacing:0.16px;color:#FFFFFF;">Smart Watch</div>
<div class="t" style="left:429.00px;top:2106px;font-size:14.56px;line-height:16px;letter-spacing:-0.086px;color:#D5D9DF;">Fashion</div>
<div class="t" style="left:623.50px;top:2095px;font-size:16.64px;line-height:19px;letter-spacing:0.379px;color:#D5D9DF;">$400.00</div>
<div class="t" style="left:738.20px;top:2095px;font-size:16.64px;line-height:19px;letter-spacing:0.317px;color:#D5D9DF;">$50.00</div>
<div class="t" style="left:859.70px;top:2095px;font-size:16.64px;line-height:19px;letter-spacing:0.146px;color:#D5D9DF;">700</div>
<div style="position:absolute;left:962.15px;top:2088.25px;width:80.5px;height:31.5px;background:#2A4A4C;border-radius:15.75px"></div><div class="t m" style="left:993.45px;top:2096px;font-size:14.56px;line-height:16px;letter-spacing:0.856px;color:#45B369;">70</div>
<svg style="left:377px;top:2162.6px" width="40" height="40" viewBox="0 0 40 40" fill="none" ><rect width="40" height="40" rx="8.5" fill="#F6DEE0"/><path d="M15.6 12 C15.6 6.6 24.4 6.6 24.4 12 L28.6 14 C31 18.6 32 26 32.4 33 L29.2 33.6 C28.8 28 28.2 23.6 27.4 20.6 L27.6 34.4 H12.4 L12.6 20.6 C11.8 23.6 11.2 28 10.8 33.6 L7.6 33 C8 26 9 18.6 11.4 14 Z" fill="#B55460"/><path d="M16.4 12.4 C16.6 8.6 23.4 8.6 23.6 12.4 C22.6 14.6 21 16 20 16.4 C19 16 17.4 14.6 16.4 12.4 Z" fill="#8F3E49"/><path d="M18.6 15.6 V21 M21.4 15.6 V21" stroke="#EAD3D5" stroke-width="0.6"/><path d="M15 26.4 H25 V30.6 H15 Z" fill="#A54955"/></svg>
<div class="t" style="left:429.00px;top:2160px;font-size:16.64px;line-height:19px;letter-spacing:-0.064px;color:#FFFFFF;">Hoodie Rose</div>
<div class="t" style="left:429.00px;top:2185px;font-size:14.56px;line-height:16px;letter-spacing:-0.086px;color:#D5D9DF;">Fashion</div>
<div class="t" style="left:623.50px;top:2174px;font-size:16.64px;line-height:19px;letter-spacing:0.379px;color:#D5D9DF;">$300.00</div>
<div class="t" style="left:738.20px;top:2174px;font-size:16.64px;line-height:19px;letter-spacing:-0.468px;color:#D5D9DF;">25%</div>
<div class="t" style="left:859.70px;top:2174px;font-size:16.64px;line-height:19px;letter-spacing:0.446px;color:#D5D9DF;">500</div>
<div style="position:absolute;left:962.15px;top:2167.25px;width:80.5px;height:31.5px;background:#2A4A4C;border-radius:15.75px"></div><div class="t m" style="left:993.45px;top:2175px;font-size:14.56px;line-height:16px;letter-spacing:0.856px;color:#45B369;">70</div>
<div class="card" style="left:1128px;top:1694px;width:768px;height:553px"></div>
<div class="t" style="left:1152.00px;top:1720px;font-size:18.72px;line-height:21px;letter-spacing:-0.167px;color:#FFFFFF;font-weight:700;">Stock Report</div>
<div class="t" style="left:1793.00px;top:1722px;font-size:16.64px;line-height:19px;letter-spacing:0.067px;color:#487FFF;">View All</div><svg style="left:1860.4px;top:1726.2px" width="6" height="10" viewBox="0 0 6 10" fill="none" ><path d="M1 1 L5 5 L1 9" stroke="#487FFF" stroke-width="1.2" stroke-linecap="round" stroke-linejoin="round"/></svg>
<div style="position:absolute;left:1152px;top:1765px;width:720px;height:452px;border:1px solid #343F50;border-radius:9px;overflow:hidden"><div style="position:absolute;left:0px;top:0px;width:720px;height:60px;background:#1B2431"></div><div style="position:absolute;left:0px;top:59px;width:720px;height:1px;background:#343F50"></div><div style="position:absolute;left:0px;top:137px;width:720px;height:1px;background:#343F50"></div><div style="position:absolute;left:0px;top:216px;width:720px;height:1px;background:#343F50"></div><div style="position:absolute;left:0px;top:294px;width:720px;height:1px;background:#343F50"></div><div style="position:absolute;left:0px;top:372px;width:720px;height:1px;background:#343F50"></div></div>
<div class="t" style="left:1169.30px;top:1786px;font-size:16.64px;line-height:19px;letter-spacing:0.006px;color:#FFFFFF;font-weight:700;">Items</div>
<div class="t" style="left:1449.20px;top:1786px;font-size:16.64px;line-height:19px;letter-spacing:-0.221px;color:#FFFFFF;font-weight:700;">Price</div>
<div class="t" style="left:1690.40px;top:1786px;font-size:16.64px;line-height:19px;letter-spacing:-0.143px;color:#FFFFFF;font-weight:700;">Stock</div>
<div class="t" style="left:1169.30px;top:1855px;font-size:16.64px;line-height:19px;letter-spacing:0.062px;color:#D5D9DF;">Nike Air Shoes</div>
<div class="t" style="left:1449.20px;top:1855px;font-size:16.64px;line-height:19px;letter-spacing:0.379px;color:#D5D9DF;">$500.00</div>
<div style="position:absolute;left:1690.4px;top:1842px;width:112px;height:8px;background:#323D4E;border-radius:4px"></div>
<div class="t m" style="left:1690.40px;top:1866px;font-size:14.56px;line-height:16px;letter-spacing:0.282px;color:#D5D9DF;">Out of Stock</div>
<div class="t" style="left:1169.30px;top:1933px;font-size:16.64px;line-height:19px;letter-spacing:0.062px;color:#D5D9DF;">Nike Air Shoes</div>
<div class="t" style="left:1449.20px;top:1933px;font-size:16.64px;line-height:19px;letter-spacing:0.379px;color:#D5D9DF;">$300.00</div>
<div style="position:absolute;left:1690.4px;top:1920px;width:112px;height:8px;background:#323D4E;border-radius:4px"></div>
<div style="position:absolute;left:1690.4px;top:1920px;width:44.8px;height:8px;background:#EF4A00;border-radius:4px"></div>
<div class="t m" style="left:1690.40px;top:1944px;font-size:14.56px;line-height:16px;letter-spacing:0.116px;color:#D5D9DF;">18 Low Stock</div>
<div class="t" style="left:1169.30px;top:2012px;font-size:16.64px;line-height:19px;letter-spacing:0.062px;color:#D5D9DF;">Nike Air Shoes</div>
<div class="t" style="left:1449.20px;top:2012px;font-size:16.64px;line-height:19px;letter-spacing:0.379px;color:#D5D9DF;">$500.00</div>
<div style="position:absolute;left:1690.4px;top:1999px;width:112px;height:8px;background:#323D4E;border-radius:4px"></div>
<div style="position:absolute;left:1690.4px;top:1999px;width:89.6px;height:8px;background:#45B369;border-radius:4px"></div>
<div class="t m" style="left:1690.40px;top:2023px;font-size:14.56px;line-height:16px;letter-spacing:0.297px;color:#D5D9DF;">80 High Stock</div>
<div class="t" style="left:1169.30px;top:2090px;font-size:16.64px;line-height:19px;letter-spacing:0.062px;color:#D5D9DF;">Nike Air Shoes</div>
<div class="t" style="left:1449.20px;top:2090px;font-size:16.64px;line-height:19px;letter-spacing:0.379px;color:#D5D9DF;">$300.00</div>
<div style="position:absolute;left:1690.4px;top:2077px;width:112px;height:8px;background:#323D4E;border-radius:4px"></div>
<div style="position:absolute;left:1690.4px;top:2077px;width:56.0px;height:8px;background:#45B369;border-radius:4px"></div>
<div class="t m" style="left:1690.40px;top:2101px;font-size:14.56px;line-height:16px;letter-spacing:0.273px;color:#D5D9DF;">50 High Stock</div>
<div class="t" style="left:1169.30px;top:2168px;font-size:16.64px;line-height:19px;letter-spacing:0.062px;color:#D5D9DF;">Nike Air Shoes</div>
<div class="t" style="left:1449.20px;top:2168px;font-size:16.64px;line-height:19px;letter-spacing:0.379px;color:#D5D9DF;">$150.00</div>
<div style="position:absolute;left:1690.4px;top:2155px;width:112px;height:8px;background:#323D4E;border-radius:4px"></div>
<div style="position:absolute;left:1690.4px;top:2155px;width:78.4px;height:8px;background:#45B369;border-radius:4px"></div>
<div class="t m" style="left:1690.40px;top:2179px;font-size:14.56px;line-height:16px;letter-spacing:0.212px;color:#D5D9DF;">70 High Stock</div>
<div style="position:absolute;left:312px;top:2271px;width:1608px;height:71px;background:#273142"></div>
<div class="t" style="left:336.80px;top:2297px;font-size:16.64px;line-height:19px;letter-spacing:0.08px;color:#D5D9DF;">© 2024 WowDash. All Rights Reserved.</div>
<div class="t" style="left:1734.30px;top:2297px;font-size:16.64px;line-height:19px;letter-spacing:0.194px;color:#D5D9DF;">Made by </div>
<div class="t" style="left:1804.30px;top:2297px;font-size:16.64px;line-height:19px;letter-spacing:0.301px;color:#487FFF;">wowtheme7</div>
</body></html>
